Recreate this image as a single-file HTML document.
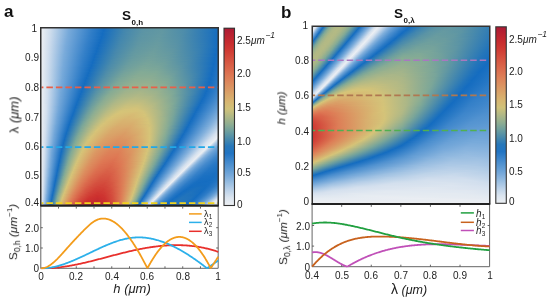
<!DOCTYPE html>
<html><head><meta charset="utf-8"><style>
html,body{margin:0;padding:0;background:#fff;}
body{width:550px;height:302px;position:relative;overflow:hidden;font-family:"Liberation Sans",sans-serif;color:#222;}
.hm{position:absolute;overflow:hidden}
.hm i{position:absolute;left:0;width:100%;display:block}
.cb{position:absolute}
.ov{position:absolute;left:0;top:0}
.t{position:absolute;white-space:nowrap;line-height:1;will-change:transform}
.r{transform:translate(-100%,-50%) translateY(1.2px)}
.c{transform:translate(-50%,-50%)}
.lft{transform:translate(0,-50%)}
.tick{font-size:10px}
.lab{font-size:13px}
.ttl{font-size:13.5px;font-weight:bold;color:#111}
.pl{font-size:17px;font-weight:bold;color:#111}
sub,sup{line-height:0}
</style></head><body>
<div class="hm" style="left:41px;top:28px;width:177px;height:177px">
<i style="top:0px;height:1px;background:linear-gradient(90deg,#eceff3 0.3%,#cedded 5.4%,#76a9da 16.1%,#2d7cc7 29.7%,#156dc0 35.9%,#4386ae 47.2%,#5c94a5 57.9%,#6298a2 68.1%,#4e8daa 80.5%,#196fbe 99.2%,#176ebf 99.7%)"></i>
<i style="top:1px;height:1px;background:linear-gradient(90deg,#eceff3 0.3%,#cedced 5.4%,#76a9d9 16.1%,#2f7dc7 29.1%,#156cc0 35.3%,#4588ad 47.7%,#5d95a4 58.5%,#6298a2 68.6%,#4c8bab 81.6%,#176ebf 99.7%)"></i>
<i style="top:2px;height:1px;background:linear-gradient(90deg,#eceff3 0.3%,#cddced 5.4%,#79aada 15.5%,#317ec8 28.5%,#146cc0 35.3%,#4286ae 46.6%,#5b94a5 57.3%,#6298a2 68.1%,#4e8daa 80.5%,#1b70be 98.6%,#176ebf 99.7%)"></i>
<i style="top:3px;height:1px;background:linear-gradient(90deg,#eceff3 0.3%,#cddcec 5.4%,#78aada 15.5%,#317ec7 28.5%,#156cc0 35.3%,#4386ae 46.6%,#5c94a5 57.3%,#6298a2 68.1%,#4e8daa 80.5%,#1a70be 98.6%,#166dbf 99.7%)"></i>
<i style="top:4px;height:1px;background:linear-gradient(90deg,#eceff3 0.3%,#ccdcec 5.4%,#77aada 15.5%,#307dc7 28.5%,#156dc0 34.7%,#488aac 48.3%,#5e96a4 59.0%,#6298a2 68.6%,#4c8bab 81.6%,#166dbf 99.7%)"></i>
<i style="top:5px;height:1px;background:linear-gradient(90deg,#eceff3 0.3%,#ccdbec 5.4%,#77a9da 15.5%,#2f7dc7 28.5%,#146cc0 34.7%,#4487ae 46.6%,#5d95a4 57.3%,#6398a2 68.1%,#4e8daa 80.5%,#1c70bd 98.0%,#166dbf 99.7%)"></i>
<i style="top:6px;height:1px;background:linear-gradient(90deg,#eceff3 0.3%,#cbdbec 5.4%,#76a9d9 15.5%,#2f7dc7 28.5%,#146cc0 34.7%,#4185af 45.5%,#5b94a5 56.2%,#6399a2 66.9%,#528fa8 78.8%,#2375ba 95.8%,#166dbf 99.7%)"></i>
<i style="top:7px;height:1px;background:linear-gradient(90deg,#eceff3 0.3%,#d0deed 4.8%,#79abda 15.0%,#337fc8 27.4%,#156dc0 34.7%,#4286af 45.5%,#5c95a5 56.2%,#6499a2 66.9%,#528fa8 78.8%,#2374ba 95.8%,#156dbf 99.7%)"></i>
<i style="top:8px;height:1px;background:linear-gradient(90deg,#eceff3 0.3%,#d0deed 4.8%,#78aada 15.0%,#337fc8 27.4%,#156cc0 34.2%,#4688ad 46.6%,#5e96a4 57.3%,#6499a2 67.5%,#508ea9 79.9%,#1f72bc 96.9%,#156dc0 99.7%)"></i>
<i style="top:9px;height:1px;background:linear-gradient(90deg,#eceff3 0.3%,#d0dded 4.8%,#78aada 15.0%,#327fc8 27.4%,#146cc0 34.2%,#4186af 44.9%,#5c95a4 55.6%,#6499a1 66.4%,#5490a8 78.2%,#2776b9 94.6%,#156dc0 99.7%)"></i>
<i style="top:10px;height:1px;background:linear-gradient(90deg,#eceff3 0.3%,#cfdded 4.8%,#7bacdb 14.4%,#3782c9 26.3%,#156dc0 34.2%,#4286ae 44.9%,#5d95a4 55.6%,#659aa1 66.4%,#5490a8 78.2%,#2676b9 94.6%,#156cc0 99.7%)"></i>
<i style="top:11px;height:1px;background:linear-gradient(90deg,#eceff3 0.3%,#cfdded 4.8%,#7aabdb 14.4%,#3681c9 26.3%,#156cc0 33.6%,#4588ad 45.5%,#5e96a4 56.2%,#659aa1 66.9%,#5390a8 78.8%,#2475ba 95.2%,#156cc0 99.7%)"></i>
<i style="top:12px;height:1px;background:linear-gradient(90deg,#eceff3 0.3%,#cedded 4.8%,#7aabda 14.4%,#3581c9 26.3%,#146cc0 33.6%,#4286ae 44.4%,#5d95a4 55.1%,#669aa1 65.8%,#5792a6 77.1%,#2c79b7 92.9%,#146cc0 99.7%)"></i>
<i style="top:13px;height:1px;background:linear-gradient(90deg,#eceff3 0.3%,#cedced 4.8%,#79aada 14.4%,#327ec8 26.8%,#156dbf 33.6%,#4387ae 44.4%,#5e96a4 55.1%,#669aa1 65.8%,#5792a6 77.1%,#2c79b7 92.9%,#146cc0 99.7%)"></i>
<i style="top:14px;height:1px;background:linear-gradient(90deg,#eceff3 0.3%,#cedced 4.8%,#78aada 14.4%,#317ec7 26.8%,#146cc0 33.1%,#4688ad 44.9%,#6097a3 55.6%,#679ba0 66.4%,#5591a7 78.2%,#2877b8 94.1%,#146cc0 99.7%)"></i>
<i style="top:15px;height:1px;background:linear-gradient(90deg,#eceff3 0.3%,#cddced 4.8%,#77aada 14.4%,#307dc7 26.8%,#156cc0 33.1%,#4387ae 43.8%,#5f96a3 54.5%,#689ba0 65.3%,#5993a6 76.6%,#307cb5 91.8%,#146cc0 99.7%)"></i>
<i style="top:16px;height:1px;background:linear-gradient(90deg,#eceff3 0.3%,#cddcec 4.8%,#7bacdb 13.8%,#3882c9 25.1%,#156dc0 32.5%,#4a8aab 45.5%,#6298a2 56.2%,#689ba0 66.4%,#5691a7 78.2%,#2877b8 94.1%,#156cc0 99.7%)"></i>
<i style="top:17px;height:1px;background:linear-gradient(90deg,#eceff3 0.3%,#ccdcec 4.8%,#7aabda 13.8%,#3782c9 25.1%,#146cc0 32.5%,#4588ad 43.8%,#6097a3 54.5%,#699ca0 65.3%,#5a93a5 76.6%,#307cb5 91.8%,#156cc0 99.7%)"></i>
<i style="top:18px;height:1px;background:linear-gradient(90deg,#eceff3 0.3%,#ccdbec 4.8%,#79abda 13.8%,#337fc8 25.7%,#156cc0 32.5%,#4487ae 43.2%,#6097a3 54.0%,#6a9c9f 64.7%,#5b94a5 76.0%,#337eb4 90.7%,#156dc0 99.7%)"></i>
<i style="top:19px;height:1px;background:linear-gradient(90deg,#eceff3 0.3%,#ccdbec 4.8%,#79aada 13.8%,#327fc8 25.7%,#156dc0 31.9%,#498aac 44.4%,#6399a2 55.1%,#6a9c9f 65.8%,#5892a6 77.7%,#2c79b7 92.9%,#156dc0 99.7%)"></i>
<i style="top:20px;height:1px;background:linear-gradient(90deg,#eceff3 0.3%,#cbdbec 4.8%,#78aada 13.8%,#317ec8 25.7%,#146cc0 31.9%,#4487ae 42.7%,#6198a2 53.4%,#6b9d9f 64.1%,#5e96a4 74.9%,#3780b3 89.5%,#146cc0 99.2%,#166dc0 99.7%)"></i>
<i style="top:21px;height:1px;background:linear-gradient(90deg,#eceff3 0.3%,#cbdbec 4.8%,#77aada 13.8%,#317ec7 25.7%,#156dc0 31.9%,#4688ad 42.7%,#6298a2 53.4%,#6c9d9f 64.1%,#5f96a3 74.9%,#3780b3 89.5%,#146cc0 99.2%,#166dc0 99.7%)"></i>
<i style="top:22px;height:1px;background:linear-gradient(90deg,#eceff3 0.3%,#cbdaec 4.8%,#77a9da 13.8%,#307dc7 25.7%,#156cc0 31.4%,#498aac 43.2%,#6499a1 54.0%,#6c9e9e 64.7%,#5d95a4 76.0%,#337eb4 90.7%,#146cc0 99.2%,#166dc1 99.7%)"></i>
<i style="top:23px;height:1px;background:linear-gradient(90deg,#eceff3 0.3%,#d0deed 4.2%,#7babdb 13.3%,#3580c9 24.6%,#146cc0 31.4%,#4688ad 42.1%,#6399a2 52.8%,#6d9e9e 63.6%,#6197a3 74.3%,#3b82b1 88.4%,#156cc0 99.2%,#176ec1 99.7%)"></i>
<i style="top:24px;height:1px;background:linear-gradient(90deg,#eceff3 0.3%,#d0deed 4.2%,#7aabda 13.3%,#3480c8 24.6%,#156dc0 31.4%,#4587ad 41.5%,#6298a2 51.7%,#6e9f9e 62.4%,#6499a1 72.6%,#4286ae 86.2%,#156dc0 99.2%,#176ec1 99.7%)"></i>
<i style="top:25px;height:1px;background:linear-gradient(90deg,#eceff3 0.3%,#d0dded 4.2%,#79abda 13.3%,#337fc8 24.6%,#156cc0 30.8%,#4a8aab 42.7%,#659aa1 52.8%,#6f9f9d 63.6%,#6298a2 74.3%,#3b82b1 88.4%,#156cc0 98.6%,#176ec1 99.7%)"></i>
<i style="top:26px;height:1px;background:linear-gradient(90deg,#eceff3 0.3%,#cfdded 4.2%,#7daddb 12.7%,#3c85ca 22.9%,#146cc0 30.8%,#4588ad 41.0%,#6399a2 51.1%,#6fa09d 61.9%,#679ba0 71.5%,#4688ad 85.0%,#146cc0 98.6%,#186ec1 99.7%)"></i>
<i style="top:27px;height:1px;background:linear-gradient(90deg,#eceff3 0.3%,#cfdded 4.2%,#7daddb 12.7%,#3b84ca 22.9%,#156dc0 30.2%,#2575ba 33.6%,#508ea9 43.8%,#699c9f 54.0%,#70a09d 64.1%,#6097a3 75.4%,#3780b3 89.5%,#146cc0 98.6%,#186fc1 99.7%)"></i>
<i style="top:28px;height:1px;background:linear-gradient(90deg,#eceff3 0.3%,#cfdded 4.2%,#7cacdb 12.7%,#3a84ca 22.9%,#156cc0 30.2%,#498aac 41.5%,#669aa1 51.7%,#71a09c 62.4%,#669aa1 72.6%,#4286ae 86.2%,#156dc0 98.6%,#196fc1 99.7%)"></i>
<i style="top:29px;height:1px;background:linear-gradient(90deg,#eceff3 0.3%,#cfdded 4.2%,#7bacdb 12.7%,#3681c9 23.4%,#146cc0 30.2%,#4688ad 40.4%,#659aa1 50.6%,#72a19c 60.7%,#6b9d9f 70.3%,#4c8bab 83.3%,#156cc0 98.0%,#196fc1 99.7%)"></i>
<i style="top:30px;height:1px;background:linear-gradient(90deg,#eceff3 0.3%,#cedded 4.2%,#7bacdb 12.7%,#3681c9 23.4%,#156dc0 29.7%,#2576b9 33.1%,#528fa8 43.2%,#6b9d9f 53.4%,#73a19c 63.6%,#6499a2 74.3%,#3c83b1 87.9%,#146cc0 98.0%,#1a70c2 99.7%)"></i>
<i style="top:31px;height:1px;background:linear-gradient(90deg,#eceff3 0.3%,#cedded 4.2%,#7aabda 12.7%,#3580c9 23.4%,#146cc0 29.7%,#4b8bab 41.0%,#699ca0 51.1%,#74a29c 61.3%,#6b9d9f 70.9%,#4a8aab 83.9%,#146cc0 98.0%,#1a70c2 99.7%)"></i>
<i style="top:32px;height:1px;background:linear-gradient(90deg,#eceff3 0.3%,#cedced 4.2%,#7aabda 12.7%,#3480c8 23.4%,#156cc0 29.7%,#4889ac 39.8%,#679ba0 50.0%,#74a29b 60.2%,#6d9e9e 69.8%,#508ea9 82.2%,#156dc0 98.0%,#1b70c2 99.7%)"></i>
<i style="top:33px;height:1px;background:linear-gradient(90deg,#eceff3 0.3%,#cedced 4.2%,#79abda 12.7%,#337fc8 23.4%,#156dc0 29.1%,#508ea9 41.5%,#6c9e9e 51.7%,#76a39b 61.9%,#6a9d9f 72.0%,#4688ad 85.0%,#156dc0 98.0%,#1b71c2 99.7%)"></i>
<i style="top:34px;height:1px;background:linear-gradient(90deg,#eceff3 0.3%,#cedced 4.2%,#78aada 12.7%,#2f7dc7 24.0%,#146cc0 29.1%,#4a8bab 39.8%,#6a9d9f 50.0%,#76a49a 60.2%,#6f9f9d 69.8%,#508ea9 82.2%,#176ebf 96.9%,#166dc0 98.0%,#1c71c2 99.7%)"></i>
<i style="top:35px;height:1px;background:linear-gradient(90deg,#eceff3 0.3%,#cddced 4.2%,#78aada 12.7%,#2e7cc7 24.0%,#156cc0 29.1%,#498aac 39.3%,#6a9d9f 49.4%,#78a49a 59.6%,#72a19c 68.6%,#5490a8 81.1%,#1c70bd 95.8%,#146cc0 97.5%,#1c71c2 99.7%)"></i>
<i style="top:36px;height:1px;background:linear-gradient(90deg,#eceff3 0.3%,#cddced 4.2%,#77aada 12.7%,#2d7cc7 24.0%,#156dc0 28.5%,#508ea9 40.4%,#6e9f9e 50.6%,#79a599 60.7%,#70a09d 70.3%,#4f8daa 82.8%,#146cc0 97.5%,#1d72c2 99.7%)"></i>
<i style="top:37px;height:1px;background:linear-gradient(90deg,#eceff3 0.3%,#cddcec 4.2%,#77a9da 12.7%,#2c7bc6 24.0%,#146cc0 28.5%,#4a8bab 38.7%,#6b9d9f 48.3%,#7aa599 58.5%,#75a39b 67.5%,#5a94a5 79.4%,#2576ba 93.5%,#156dc0 97.5%,#1d72c2 99.7%)"></i>
<i style="top:38px;height:1px;background:linear-gradient(90deg,#eceff3 0.3%,#cddcec 4.2%,#7bacdb 12.1%,#3581c9 22.3%,#156dbf 28.5%,#498aac 38.1%,#6b9d9f 47.7%,#7aa699 57.3%,#78a49a 66.4%,#5e96a4 78.2%,#2c7ab7 91.8%,#156dc0 97.5%,#1e72c3 99.7%)"></i>
<i style="top:39px;height:1px;background:linear-gradient(90deg,#eceff3 0.3%,#cddcec 4.2%,#7aabdb 12.1%,#3480c8 22.3%,#156cc0 28.0%,#508ea9 39.3%,#6f9f9d 48.9%,#7da798 58.5%,#77a49a 67.5%,#5b94a5 79.4%,#2575ba 93.5%,#156cc0 96.9%,#1e72c3 99.7%)"></i>
<i style="top:40px;height:1px;background:linear-gradient(90deg,#eceff3 0.3%,#ccdcec 4.2%,#7aabda 12.1%,#307dc7 22.9%,#156cc0 28.0%,#4a8aab 37.6%,#6d9e9e 47.2%,#7da798 56.8%,#7ba699 65.8%,#6398a2 77.1%,#317cb5 90.7%,#146cc0 96.9%,#1f73c3 99.7%)"></i>
<i style="top:41px;height:1px;background:linear-gradient(90deg,#eceff3 0.3%,#ccdbec 4.2%,#79abda 12.1%,#2f7dc7 22.9%,#156dc0 27.4%,#2475ba 30.2%,#5691a7 39.8%,#74a29b 49.4%,#80a997 59.0%,#78a49a 68.6%,#5993a6 80.5%,#1f72bc 94.6%,#146cc0 96.9%,#2073c3 99.7%)"></i>
<i style="top:42px;height:1px;background:linear-gradient(90deg,#eceff3 0.3%,#ccdbec 4.2%,#79aada 12.1%,#2e7cc7 22.9%,#146cc0 27.4%,#4d8caa 37.6%,#70a09d 47.2%,#80a997 56.8%,#7da798 65.8%,#6499a1 77.1%,#317cb5 90.7%,#156cc0 96.9%,#2074c3 99.7%)"></i>
<i style="top:43px;height:1px;background:linear-gradient(90deg,#eceff3 0.3%,#ccdbec 4.2%,#78aada 12.1%,#2d7cc7 22.9%,#156dc0 27.4%,#4d8caa 37.0%,#71a09d 46.6%,#82aa96 56.2%,#80a997 65.3%,#679ba0 76.6%,#367fb3 89.5%,#156dc0 96.9%,#2174c3 99.7%)"></i>
<i style="top:44px;height:1px;background:linear-gradient(90deg,#eceff3 0.3%,#ccdbec 4.2%,#77aada 12.1%,#2c7bc6 22.9%,#156dc0 26.8%,#5490a8 38.1%,#76a39b 47.7%,#84ab95 56.8%,#80a997 65.8%,#669aa1 77.1%,#337eb4 90.1%,#156dc0 96.3%,#2174c3 99.7%)"></i>
<i style="top:45px;height:1px;background:linear-gradient(90deg,#eceff3 0.3%,#ccdbec 4.2%,#77a9da 12.1%,#2b7ac6 22.9%,#146cc0 26.8%,#4e8caa 36.4%,#73a29c 46.0%,#84ab95 55.1%,#84aa95 64.1%,#6e9e9e 74.9%,#4085af 87.3%,#156cc0 96.3%,#2275c4 99.7%)"></i>
<i style="top:46px;height:1px;background:linear-gradient(90deg,#eceff3 0.3%,#cbdbec 4.2%,#76a9da 12.1%,#2a7ac6 22.9%,#166dc0 26.3%,#1e71bc 28.0%,#5591a7 37.6%,#77a49a 46.6%,#86ab94 55.6%,#84ab95 64.7%,#6d9e9e 75.4%,#3e83b0 87.9%,#146cc0 96.3%,#2375c4 99.7%)"></i>
<i style="top:47px;height:1px;background:linear-gradient(90deg,#eceff3 0.3%,#cbdbec 4.2%,#76a9d9 12.1%,#2979c5 22.9%,#146cc0 26.3%,#518fa9 36.4%,#76a39b 45.5%,#87ab94 54.0%,#87ac94 63.0%,#76a39b 72.6%,#4a8bab 85.0%,#156cc0 96.3%,#2376c4 99.7%)"></i>
<i style="top:48px;height:1px;background:linear-gradient(90deg,#eceff3 0.3%,#cbdbec 4.2%,#75a8d9 12.1%,#2878c5 22.9%,#156dc0 26.3%,#4e8caa 35.3%,#74a29b 44.4%,#87ac94 52.8%,#89ac93 62.4%,#79a59a 72.0%,#4f8da9 83.9%,#156dc0 96.3%,#2476c4 99.7%)"></i>
<i style="top:49px;height:1px;background:linear-gradient(90deg,#eceff3 0.3%,#cbdbec 4.2%,#75a8d9 12.1%,#2778c5 22.9%,#156dc0 25.7%,#5893a6 37.0%,#7ca698 46.0%,#8bad93 55.1%,#89ac94 64.1%,#75a39b 73.7%,#4688ad 86.2%,#156dc0 95.8%,#2577c4 99.7%)"></i>
<i style="top:50px;height:1px;background:linear-gradient(90deg,#eceff3 0.3%,#cbdbec 4.2%,#74a8d9 12.1%,#2577c5 22.9%,#146cc0 25.7%,#4f8daa 34.7%,#77a49a 43.8%,#8aad93 52.3%,#8dad92 61.3%,#7ca798 71.5%,#528fa8 83.3%,#146cc0 95.8%,#2677c5 99.7%)"></i>
<i style="top:51px;height:1px;background:linear-gradient(90deg,#eceff3 0.3%,#cbdbec 4.2%,#78aada 11.6%,#2878c5 22.3%,#166dc1 25.1%,#1a6fbe 26.3%,#5490a8 35.3%,#7ba699 44.4%,#8dad92 52.8%,#8eae92 61.9%,#7ca798 72.0%,#508ea9 83.9%,#146cc0 95.8%,#2778c5 99.7%)"></i>
<i style="top:52px;height:1px;background:linear-gradient(90deg,#eceff3 0.3%,#cadaec 4.2%,#78aada 11.6%,#2778c5 22.3%,#156cc0 25.1%,#5691a7 35.3%,#7da798 44.4%,#8fae91 53.4%,#8fae91 62.4%,#7ba699 72.6%,#4e8daa 84.5%,#156dc0 95.8%,#2878c5 99.7%)"></i>
<i style="top:53px;height:1px;background:linear-gradient(90deg,#eceff3 0.3%,#cadaec 4.2%,#77a9da 11.6%,#2677c5 22.3%,#156cc0 25.1%,#528fa8 34.2%,#7ba698 43.2%,#8fae91 51.7%,#92af90 60.7%,#81aa96 70.9%,#5893a6 82.2%,#156dc0 95.2%,#2979c5 99.7%)"></i>
<i style="top:54px;height:1px;background:linear-gradient(90deg,#eceff3 0.3%,#d1deed 3.7%,#77a9da 11.6%,#2476c4 22.3%,#166dc0 24.6%,#1f72bc 26.3%,#5a94a5 35.3%,#82aa96 44.4%,#93af90 53.4%,#92af90 62.4%,#7ea798 72.6%,#4e8daa 84.5%,#146cc0 95.2%,#2a7ac6 99.7%)"></i>
<i style="top:55px;height:1px;background:linear-gradient(90deg,#eceff3 0.3%,#d1deed 3.7%,#76a9d9 11.6%,#2375c4 22.3%,#146cc0 24.6%,#538fa8 33.6%,#7ca798 42.1%,#92af90 50.6%,#96b08f 59.6%,#86ab94 69.8%,#6197a3 80.5%,#1d71bc 93.5%,#156cc0 95.2%,#2b7ac6 99.7%)"></i>
<i style="top:56px;height:1px;background:linear-gradient(90deg,#eceff3 0.3%,#d1deed 3.7%,#75a8d9 11.6%,#2677c5 21.8%,#166dbf 24.6%,#5591a7 33.6%,#7ea897 42.1%,#94b08f 51.1%,#98b18e 60.2%,#86ab95 70.3%,#5e96a4 81.1%,#196fbe 94.1%,#156dc0 95.2%,#2c7bc6 99.7%)"></i>
<i style="top:57px;height:1px;background:linear-gradient(90deg,#eceff3 0.3%,#d1deed 3.7%,#75a8d9 11.6%,#2476c4 21.8%,#156dc0 24.0%,#5e96a4 34.7%,#85ab95 43.2%,#98b18e 52.3%,#99b18e 60.7%,#86ab95 70.9%,#5c95a5 81.6%,#156cc0 94.6%,#2d7cc7 99.7%)"></i>
<i style="top:58px;height:1px;background:linear-gradient(90deg,#eceff3 0.3%,#d1deed 3.7%,#79abda 11.0%,#2778c5 21.2%,#146cc0 24.0%,#5691a7 33.1%,#81a996 41.5%,#98b18e 50.6%,#9bb28d 59.6%,#8aac93 69.8%,#6c9d9f 78.2%,#2c79b7 90.7%,#146cc0 94.6%,#2f7dc7 99.7%)"></i>
<i style="top:59px;height:1px;background:linear-gradient(90deg,#eceff3 0.3%,#d0deed 3.7%,#78aada 11.0%,#2677c5 21.2%,#166dc1 23.4%,#1b70bd 24.6%,#5892a6 33.1%,#83aa96 41.5%,#9ab18d 50.6%,#9db38c 59.0%,#8cad92 69.2%,#71a09d 77.1%,#357eb4 89.0%,#166dbf 94.1%,#1e72c3 96.3%,#307ec7 99.7%)"></i>
<i style="top:60px;height:1px;background:linear-gradient(90deg,#eceff3 0.3%,#d0deed 3.7%,#78aada 11.0%,#2576c4 21.2%,#156cc0 23.4%,#5a94a5 33.1%,#83aa96 41.0%,#9bb28d 50.0%,#a0b38b 58.5%,#90ae91 68.1%,#76a39b 76.0%,#3b82b1 87.9%,#146cc0 94.1%,#327fc8 99.7%)"></i>
<i style="top:61px;height:1px;background:linear-gradient(90deg,#eceff3 0.3%,#d0deed 3.7%,#77a9da 11.0%,#2375c4 21.2%,#156dc0 23.4%,#5691a7 31.9%,#84aa95 40.4%,#9cb28d 49.4%,#a2b48b 57.9%,#93af90 67.5%,#79a599 75.4%,#3d83b0 87.3%,#156cc0 94.1%,#3480c8 99.7%)"></i>
<i style="top:62px;height:1px;background:linear-gradient(90deg,#eceff3 0.3%,#d0deed 3.7%,#76a9da 11.0%,#2275c4 21.2%,#166dc0 22.9%,#2173bb 24.6%,#5f96a3 33.1%,#88ac94 41.0%,#9fb38c 49.4%,#a4b48a 57.9%,#94b090 67.5%,#77a49a 76.0%,#3981b2 87.9%,#156dc0 93.5%,#3581c9 99.7%)"></i>
<i style="top:63px;height:1px;background:linear-gradient(90deg,#eceff3 0.3%,#d0dded 3.7%,#76a9d9 11.0%,#2074c3 21.2%,#146cc0 22.9%,#5792a7 31.4%,#84ab95 39.3%,#9eb38c 47.7%,#a7b589 56.2%,#9bb28d 65.3%,#7da798 74.9%,#4286ae 86.2%,#146cc0 93.5%,#3782c9 99.7%)"></i>
<i style="top:64px;height:1px;background:linear-gradient(90deg,#eceff3 0.3%,#cfdded 3.7%,#75a8d9 11.0%,#1f73c3 21.2%,#166dbf 22.9%,#5993a6 31.4%,#86ab94 39.3%,#a1b38b 47.7%,#a9b688 56.2%,#9cb28d 65.3%,#7da798 74.9%,#4286af 86.2%,#166dbf 92.9%,#1f73c3 95.2%,#3983ca 99.7%)"></i>
<i style="top:65px;height:1px;background:linear-gradient(90deg,#eceff3 0.3%,#cfdded 3.7%,#74a8d9 11.0%,#1d72c2 21.2%,#156dc0 22.3%,#6499a2 32.5%,#89ac93 39.3%,#a3b48a 47.7%,#abb787 56.2%,#9eb38c 65.3%,#7ea898 74.9%,#4185af 86.2%,#146cc0 92.9%,#3b84ca 99.7%)"></i>
<i style="top:66px;height:1px;background:linear-gradient(90deg,#eceff3 0.3%,#cfdded 3.7%,#74a7d9 11.0%,#1c71c2 21.2%,#156cc0 22.3%,#5b94a5 30.8%,#87ab94 38.1%,#a4b48a 46.6%,#aeb786 55.1%,#a3b48a 63.6%,#83aa96 73.7%,#4789ad 85.0%,#166dbf 92.4%,#196fc1 93.5%,#3d86cb 99.7%)"></i>
<i style="top:67px;height:1px;background:linear-gradient(90deg,#eceff3 0.3%,#cfdded 3.7%,#73a7d9 11.0%,#1a70c2 21.2%,#166dc1 21.8%,#1c71bd 22.9%,#6198a2 31.4%,#87ac94 37.6%,#a5b589 46.0%,#b0b886 54.5%,#a6b589 63.0%,#86ab94 73.2%,#4d8caa 83.9%,#146cc0 92.4%,#3f87cb 99.7%)"></i>
<i style="top:68px;height:1px;background:linear-gradient(90deg,#eceff3 0.3%,#cfdded 3.7%,#72a6d8 11.0%,#196fc1 21.2%,#146cc0 21.8%,#6097a3 30.8%,#87ac94 37.0%,#a6b589 45.5%,#b2b985 54.0%,#abb788 61.9%,#8bad93 72.0%,#6d9e9e 78.2%,#1e72bc 90.7%,#156dc0 92.4%,#4288cc 99.7%)"></i>
<i style="top:69px;height:1px;background:linear-gradient(90deg,#eceff3 0.3%,#cedded 3.7%,#77a9da 10.5%,#1c71c2 20.6%,#166dbf 21.8%,#5f96a3 30.2%,#87ac94 36.4%,#a8b688 44.9%,#b5ba84 53.4%,#aeb786 61.3%,#8eae92 71.5%,#74a29c 77.1%,#2978b8 89.0%,#146cc0 91.8%,#448acd 99.7%)"></i>
<i style="top:70px;height:1px;background:linear-gradient(90deg,#eceff3 0.3%,#cedded 3.7%,#76a9d9 10.5%,#1a70c2 20.6%,#156dc0 21.2%,#2d7ab6 24.0%,#6e9f9e 31.9%,#8dad92 37.0%,#acb787 45.5%,#b8bb83 53.4%,#afb886 61.3%,#91af91 70.9%,#77a49a 76.6%,#2b79b7 88.4%,#166dbf 91.2%,#196fc1 92.4%,#478bcd 99.7%)"></i>
<i style="top:71px;height:1px;background:linear-gradient(90deg,#eceff3 0.3%,#cedced 3.7%,#75a8d9 10.5%,#186fc1 20.6%,#146cc0 21.2%,#6097a3 29.7%,#8aac93 35.9%,#abb788 43.8%,#babb82 51.7%,#b6ba83 59.0%,#9bb28d 68.6%,#7aa599 76.0%,#2d7ab6 87.9%,#146cc0 91.2%,#498dce 99.7%)"></i>
<i style="top:72px;height:1px;background:linear-gradient(90deg,#eceff3 0.3%,#cedced 3.7%,#74a8d9 10.5%,#176ec1 20.6%,#176dbf 21.2%,#5f96a3 29.1%,#8aac93 35.3%,#acb787 43.2%,#bcbc81 51.1%,#babb82 57.9%,#a2b48a 66.9%,#7aa599 76.0%,#2b79b7 87.9%,#166dbf 90.7%,#196fc1 91.8%,#4c8fcf 99.7%)"></i>
<i style="top:73px;height:1px;background:linear-gradient(90deg,#eceff3 0.3%,#cedced 3.7%,#74a7d9 10.5%,#156dc0 20.6%,#6b9d9f 30.2%,#8dad92 35.3%,#afb886 43.2%,#bfbd80 51.1%,#bcbc81 57.9%,#a3b48a 66.9%,#7aa599 76.0%,#2978b8 87.9%,#146cc0 90.7%,#4f90cf 99.7%)"></i>
<i style="top:74px;height:1px;background:linear-gradient(90deg,#eceff3 0.3%,#cddced 3.7%,#73a7d9 10.5%,#186ec1 20.1%,#156dc0 20.6%,#6097a3 28.5%,#89ac93 34.2%,#aeb886 42.1%,#c1bd80 50.0%,#c0bd80 56.8%,#a9b688 65.8%,#7da798 75.4%,#2c79b7 87.3%,#166dbf 90.1%,#1d72c2 91.8%,#5292d0 99.7%)"></i>
<i style="top:75px;height:1px;background:linear-gradient(90deg,#eceff3 0.3%,#cddcec 3.7%,#72a6d8 10.5%,#166dc1 20.1%,#1d71bc 21.2%,#689ba0 29.1%,#89ac94 33.6%,#b0b886 41.5%,#c3be7f 49.4%,#c4be7f 56.2%,#aeb886 64.7%,#80a997 74.9%,#2e7bb6 86.7%,#146cc0 90.1%,#5594d1 99.7%)"></i>
<i style="top:76px;height:1px;background:linear-gradient(90deg,#eceff3 0.3%,#d5e0ee 3.1%,#71a6d8 10.5%,#146cc0 20.1%,#669aa1 28.5%,#88ac94 33.1%,#b1b885 41.0%,#c6bf7e 48.9%,#c7bf7d 55.6%,#b1b985 64.1%,#83aa96 74.3%,#357eb4 85.6%,#156dbf 89.5%,#5493d1 99.2%,#5896d2 99.7%)"></i>
<i style="top:77px;height:1px;background:linear-gradient(90deg,#eceff3 0.3%,#d4e0ee 3.1%,#70a5d8 10.5%,#176ec1 19.5%,#166dbf 20.1%,#6499a1 28.0%,#88ac94 32.5%,#b2b985 40.4%,#c7bf7d 47.7%,#cbc17c 54.5%,#b9bb82 62.4%,#8cad92 72.6%,#659aa1 78.8%,#156dc0 89.5%,#5b98d2 99.7%)"></i>
<i style="top:78px;height:1px;background:linear-gradient(90deg,#eceff3 0.3%,#d4e0ee 3.1%,#75a8d9 9.9%,#166dc0 19.5%,#2575ba 21.2%,#71a19c 29.1%,#8fae91 33.1%,#b7ba83 41.0%,#cbc17c 48.3%,#cdc17b 55.1%,#b8bb83 63.0%,#89ac94 73.2%,#4286ae 83.3%,#156cc0 89.0%,#5e9ad3 99.7%)"></i>
<i style="top:79px;height:1px;background:linear-gradient(90deg,#eceff3 0.3%,#d4e0ee 3.1%,#74a8d9 9.9%,#196fc1 18.9%,#146cc0 19.5%,#669aa1 27.4%,#8aad93 31.9%,#b6ba83 39.8%,#ccc17b 47.2%,#d1c27a 54.0%,#bebc81 61.9%,#92af90 71.5%,#77a49a 76.0%,#176ebf 88.4%,#166dc0 89.0%,#619cd4 99.7%)"></i>
<i style="top:80px;height:1px;background:linear-gradient(90deg,#eceff3 0.3%,#d4e0ee 3.1%,#74a7d9 9.9%,#176ec1 18.9%,#176ebf 19.5%,#699ca0 27.4%,#8aac93 31.4%,#b4ba84 38.7%,#cdc17b 46.0%,#d4c379 53.4%,#c3be7f 60.7%,#98b18e 70.3%,#76a39b 76.0%,#146cc0 88.4%,#649ed5 99.7%)"></i>
<i style="top:81px;height:1px;background:linear-gradient(90deg,#eceff3 0.3%,#d4e0ee 3.1%,#73a7d9 9.9%,#156dc0 18.9%,#76a39a 28.5%,#98b18e 33.1%,#bfbd80 40.4%,#d4c379 47.7%,#d4c379 55.1%,#bcbc81 63.0%,#88ac94 73.2%,#3880b2 83.9%,#166dbf 87.9%,#1a70c2 89.0%,#68a0d6 99.7%)"></i>
<i style="top:82px;height:1px;background:linear-gradient(90deg,#eceff3 0.3%,#d3e0ee 3.1%,#72a6d8 9.9%,#196fc1 18.4%,#156dc0 18.9%,#6a9d9f 26.8%,#8cad93 30.8%,#b8bb83 38.1%,#d3c379 45.5%,#d6c277 52.3%,#d3c379 56.8%,#b3b984 65.3%,#7ca798 74.9%,#146cc0 87.9%,#6ba2d7 99.7%)"></i>
<i style="top:83px;height:1px;background:linear-gradient(90deg,#eceff3 0.3%,#d3dfee 3.1%,#71a5d8 9.9%,#176ec1 18.4%,#176ebf 18.9%,#6d9e9e 26.8%,#8bad93 30.2%,#b9bb82 37.6%,#d5c478 44.9%,#d6c277 54.5%,#d2c37a 57.9%,#abb787 66.9%,#7ca698 74.9%,#166dbf 87.3%,#2778c5 90.1%,#6fa4d8 99.7%)"></i>
<i style="top:84px;height:1px;background:linear-gradient(90deg,#eceff3 0.3%,#d3dfee 3.1%,#6fa5d8 9.9%,#156cc0 18.4%,#71a09d 26.8%,#8eae92 30.2%,#bcbc81 37.6%,#d6c478 44.4%,#d6bf76 53.4%,#d4c379 57.9%,#acb787 66.9%,#7ba699 74.9%,#156dc0 87.3%,#72a6d9 99.7%)"></i>
<i style="top:85px;height:1px;background:linear-gradient(90deg,#eceff3 0.3%,#d2dfee 3.1%,#75a8d9 9.3%,#186fc1 17.8%,#166dbf 18.4%,#6f9f9d 26.3%,#8dad92 29.7%,#bdbc81 37.0%,#d6c478 43.2%,#d7bd75 52.3%,#d3c379 58.5%,#a9b688 67.5%,#7aa599 74.9%,#156dc0 86.7%,#76a9d9 99.7%)"></i>
<i style="top:86px;height:1px;background:linear-gradient(90deg,#eceff3 0.3%,#d2dfee 3.1%,#74a7d9 9.3%,#166dc1 17.8%,#186ebe 18.4%,#6c9e9e 25.7%,#8cad93 29.1%,#bdbc81 36.4%,#d6c478 42.1%,#d7bb74 51.7%,#d5c478 58.5%,#a9b688 67.5%,#79a599 74.9%,#176ebf 86.2%,#156dc0 86.7%,#7aabda 99.7%)"></i>
<i style="top:87px;height:1px;background:linear-gradient(90deg,#eceff3 0.3%,#d1deed 3.1%,#73a7d9 9.3%,#146cc0 17.8%,#70a09d 25.7%,#8fae91 29.1%,#c1bd80 36.4%,#d6c378 41.5%,#d7ba73 51.1%,#d4c479 59.0%,#a6b589 68.1%,#78a49a 74.9%,#156cc0 86.2%,#7eaedb 99.7%)"></i>
<i style="top:88px;height:1px;background:linear-gradient(90deg,#eceff3 0.3%,#d1deed 3.1%,#71a6d8 9.3%,#186ec1 17.2%,#166dbf 17.8%,#6d9e9e 25.1%,#8dae92 28.5%,#c1bd80 35.9%,#d6c478 40.4%,#d7b872 50.0%,#d6c377 58.5%,#bdbc81 64.1%,#80a997 73.7%,#176ebf 85.6%,#166dc0 86.2%,#83b0dc 99.7%)"></i>
<i style="top:89px;height:1px;background:linear-gradient(90deg,#eceff3 0.3%,#d0deed 3.1%,#70a5d8 9.3%,#166dc0 17.2%,#2073bb 18.4%,#76a39a 25.7%,#95b08f 29.1%,#c8c07d 36.4%,#d6c377 39.8%,#d7b772 49.4%,#d6c076 57.3%,#d2c379 60.2%,#9bb28d 69.8%,#76a39b 74.9%,#146cc0 85.6%,#82b0dc 99.2%,#88b3dd 99.7%)"></i>
<i style="top:90px;height:1px;background:linear-gradient(90deg,#eceff3 0.3%,#d0deed 3.1%,#6fa4d8 9.3%,#146cc0 17.2%,#6e9f9e 24.6%,#8fae91 28.0%,#c5bf7e 35.3%,#d6c478 38.7%,#d8b671 48.3%,#d7bb74 55.6%,#d4c379 60.2%,#9bb28d 69.8%,#79a599 74.3%,#176ebf 85.0%,#166dc1 85.6%,#81afdc 98.6%,#8cb6de 99.7%)"></i>
<i style="top:91px;height:1px;background:linear-gradient(90deg,#eceff3 0.3%,#cfdded 3.1%,#75a8d9 8.8%,#186ec1 16.7%,#176ebf 17.2%,#71a19c 24.6%,#8eae92 27.4%,#c5bf7e 34.7%,#d6c378 38.1%,#d8b471 47.2%,#d7b772 54.0%,#d5c478 60.2%,#9bb28d 69.8%,#78a59a 74.3%,#146cc0 85.0%,#80afdc 98.0%,#91b9e0 99.7%)"></i>
<i style="top:92px;height:1px;background:linear-gradient(90deg,#eceff3 0.3%,#cfdded 3.1%,#73a7d9 8.8%,#156dc0 16.7%,#3880b2 19.5%,#87ab94 26.3%,#c1be7f 33.6%,#d6c377 37.6%,#d8b370 46.6%,#d8b571 53.4%,#d6c478 60.2%,#9ab28d 69.8%,#77a49a 74.3%,#176ebf 84.5%,#1b70c2 85.6%,#85b1dd 98.0%,#96bce1 99.7%)"></i>
<i style="top:93px;height:1px;background:linear-gradient(90deg,#eceff3 0.3%,#cedded 3.1%,#72a6d8 8.8%,#1a6fc1 16.1%,#156dc0 16.7%,#72a19c 24.0%,#94b08f 27.4%,#c8c07d 34.2%,#d6c277 37.0%,#d8b26f 46.0%,#d8b370 52.8%,#d4c379 60.7%,#96b08f 70.3%,#76a39b 74.3%,#146cc0 84.5%,#84b1dd 97.5%,#9cbfe2 99.7%)"></i>
<i style="top:94px;height:1px;background:linear-gradient(90deg,#eceff3 0.3%,#cedced 3.1%,#71a6d8 8.8%,#176ec1 16.1%,#186ebf 16.7%,#76a39b 24.0%,#98b18e 27.4%,#ccc17c 34.2%,#d6c277 36.4%,#d8b16f 45.5%,#d8b16f 52.3%,#d5c478 60.7%,#95b08f 70.3%,#74a29b 74.3%,#166dbf 83.9%,#1b71c2 85.0%,#83b0dc 96.9%,#a1c2e3 99.7%)"></i>
<i style="top:95px;height:1px;background:linear-gradient(90deg,#eceff3 0.3%,#cddcec 3.1%,#70a5d8 8.8%,#156dc0 16.1%,#80a997 24.6%,#bcbc81 31.4%,#d6c478 35.3%,#d8b06e 44.4%,#d8af6e 51.7%,#d6c478 60.7%,#94b08f 70.3%,#78a49a 73.7%,#156cc0 83.9%,#82b0dc 96.3%,#a6c5e4 99.7%)"></i>
<i style="top:96px;height:1px;background:linear-gradient(90deg,#eceff3 0.3%,#d5e1ee 2.5%,#6ea4d7 8.8%,#196fc1 15.5%,#156dbf 16.1%,#76a49a 23.4%,#99b18e 26.8%,#d0c27a 33.6%,#d6c277 35.3%,#d8ae6e 44.4%,#d8ae6d 51.7%,#d3c379 61.3%,#8fae91 70.9%,#71a19c 74.3%,#166dbf 83.3%,#2174c3 85.0%,#80afdc 95.8%,#acc8e5 99.7%)"></i>
<i style="top:97px;height:1px;background:linear-gradient(90deg,#eceff3 0.3%,#d5e1ee 2.5%,#74a8d9 8.2%,#176ec1 15.5%,#186ebe 16.1%,#7aa699 23.4%,#b6ba83 29.7%,#d6c378 34.2%,#d8ae6d 43.2%,#d9ab6c 50.6%,#d6c177 60.2%,#cdc17b 62.4%,#85ab95 72.0%,#156dc0 83.3%,#86b2dd 95.8%,#b1cce6 99.7%)"></i>
<i style="top:98px;height:1px;background:linear-gradient(90deg,#eceff3 0.3%,#d5e1ee 2.5%,#73a7d9 8.2%,#156dc0 15.5%,#7ea898 23.4%,#bebd80 30.2%,#d6c378 33.6%,#d8ac6d 42.7%,#d9aa6c 50.6%,#d6c177 60.2%,#d1c27a 61.9%,#88ac94 71.5%,#156dbf 82.8%,#78aada 94.1%,#b7cfe8 99.7%)"></i>
<i style="top:99px;height:1px;background:linear-gradient(90deg,#eceff3 0.3%,#d5e0ee 2.5%,#72a6d8 8.2%,#1a6fc1 15.0%,#166dbf 15.5%,#74a29b 22.3%,#93af90 25.1%,#cfc27a 31.9%,#d6c177 33.6%,#d9aa6c 42.7%,#d9a86b 50.0%,#d7bd75 59.0%,#d5c478 61.3%,#8cad92 70.9%,#669aa1 74.9%,#186ebe 82.2%,#166dc0 82.8%,#83b1dc 94.6%,#bdd2e9 99.7%)"></i>
<i style="top:100px;height:1px;background:linear-gradient(90deg,#eceff3 0.3%,#d4e0ee 2.5%,#70a5d8 8.2%,#176ec1 15.0%,#196fbe 15.5%,#77a49a 22.3%,#a8b689 26.8%,#d6c378 32.5%,#d9ab6c 41.0%,#d9a569 48.9%,#d7b772 57.3%,#d6c478 61.3%,#8bad93 70.9%,#528fa8 76.6%,#156cc0 82.2%,#82b0dc 94.1%,#c3d6ea 99.7%)"></i>
<i style="top:101px;height:1px;background:linear-gradient(90deg,#eceff3 0.3%,#d4e0ee 2.5%,#6fa4d8 8.2%,#156dc0 15.0%,#82aa96 22.9%,#c5bf7e 29.7%,#d6c478 31.9%,#d9aa6c 40.4%,#d9a368 48.3%,#d8b471 56.8%,#d6c478 61.3%,#89ac93 70.9%,#2a79b7 79.9%,#176ebf 81.6%,#166dc1 82.2%,#81afdc 93.5%,#c9daec 99.7%)"></i>
<i style="top:102px;height:1px;background:linear-gradient(90deg,#eceff3 0.3%,#d3e0ee 2.5%,#76a9d9 7.6%,#1a70c2 14.4%,#166dbf 15.0%,#78a49a 21.8%,#aab688 26.3%,#d6c478 31.4%,#d9a96b 39.8%,#daa268 48.3%,#d8b470 56.8%,#d6c478 61.3%,#8dad92 70.3%,#659aa1 74.3%,#146cc0 81.6%,#80afdc 92.9%,#cfdded 99.7%)"></i>
<i style="top:103px;height:1px;background:linear-gradient(90deg,#eceff3 0.3%,#d3dfee 2.5%,#75a8d9 7.6%,#186ec1 14.4%,#196fbe 15.0%,#7ba698 21.8%,#bdbc81 28.0%,#d6c478 30.8%,#d9a76a 39.8%,#daa067 47.7%,#d8b06e 55.6%,#d6c478 61.3%,#8cad93 70.3%,#6399a2 74.3%,#176dbf 81.1%,#1c71c2 82.2%,#85b2dd 92.9%,#d5e1ee 99.7%)"></i>
<i style="top:104px;height:1px;background:linear-gradient(90deg,#eceff3 0.3%,#d2dfee 2.5%,#73a7d9 7.6%,#156dc0 14.4%,#86ab94 22.3%,#cbc17c 29.1%,#d6c277 30.8%,#d9a76a 39.3%,#da9e66 47.7%,#d8af6e 55.6%,#d6c478 61.3%,#8fae91 69.8%,#6d9e9e 73.2%,#156dc0 81.1%,#84b1dd 92.4%,#d5e1ee 99.2%,#d8e3ef 99.7%)"></i>
<i style="top:105px;height:1px;background:linear-gradient(90deg,#eceff3 0.3%,#d2dfed 2.5%,#72a6d8 7.6%,#1a70c2 13.8%,#156dbf 14.4%,#7ca698 21.2%,#c0bd80 27.4%,#d6c277 30.2%,#d9a66a 38.7%,#da9c65 47.2%,#d8ad6d 55.1%,#d6c378 61.3%,#8eae92 69.8%,#6b9d9f 73.2%,#166dbf 80.5%,#337fc8 83.9%,#83b1dc 91.8%,#d5e0ee 98.6%,#dce5f0 99.7%)"></i>
<i style="top:106px;height:1px;background:linear-gradient(90deg,#eceff3 0.3%,#d1deed 2.5%,#70a5d8 7.6%,#186fc1 13.8%,#186ebe 14.4%,#7fa897 21.2%,#c4be7f 27.4%,#d6c377 29.7%,#d9a569 38.1%,#da9b64 46.6%,#d9a86b 54.0%,#d6c378 61.3%,#8cad92 69.8%,#689ba0 73.2%,#186fbe 79.9%,#166dc0 80.5%,#82b0dc 91.2%,#d5e0ee 98.0%,#dfe7f0 99.7%)"></i>
<i style="top:107px;height:1px;background:linear-gradient(90deg,#eceff3 0.3%,#d1deed 2.5%,#6fa4d8 7.6%,#166dc0 13.8%,#2575ba 15.0%,#83aa96 21.2%,#c7bf7d 27.4%,#d6c378 29.1%,#d9a469 37.6%,#db9964 46.0%,#d9a469 52.8%,#d6c478 61.3%,#85ab95 70.3%,#146cc0 79.9%,#81afdc 90.7%,#d5e0ee 97.5%,#e3e9f1 99.7%)"></i>
<i style="top:108px;height:1px;background:linear-gradient(90deg,#eceff3 0.3%,#d0deed 2.5%,#76a9da 7.1%,#156cc0 13.8%,#7fa897 20.6%,#c6bf7e 26.8%,#d6c478 28.5%,#d9a469 37.0%,#db9763 44.9%,#da9e66 50.6%,#d7bf75 60.2%,#d6c478 61.3%,#83aa96 70.3%,#176ebf 79.4%,#176ec1 79.9%,#87b3dd 90.7%,#d4e0ee 96.9%,#e7ecf2 99.7%)"></i>
<i style="top:109px;height:1px;background:linear-gradient(90deg,#eceff3 0.3%,#cfdded 2.5%,#75a8d9 7.1%,#196fc1 13.3%,#186ebf 13.8%,#7ba699 20.1%,#bebd81 25.7%,#d5c479 28.0%,#daa268 37.0%,#db9662 44.9%,#da9d65 50.6%,#d7bf75 60.2%,#d6c478 61.3%,#81a996 70.3%,#156cc0 79.4%,#86b2dd 90.1%,#d4e0ee 96.3%,#ebeef3 99.7%)"></i>
<i style="top:110px;height:1px;background:linear-gradient(90deg,#eceff3 0.3%,#cfdded 2.5%,#74a7d9 7.1%,#176ec1 13.3%,#1b70be 13.8%,#7fa897 20.1%,#c8c07d 26.3%,#d6c377 28.0%,#daa167 36.4%,#db9461 44.4%,#da9a64 50.0%,#d7bc74 59.6%,#d6c478 61.3%,#7fa897 70.3%,#166dbf 78.8%,#1e72c3 79.9%,#84b1dd 89.5%,#d4e0ee 95.8%,#ebeef3 99.2%,#dbe5f0 99.7%)"></i>
<i style="top:111px;height:1px;background:linear-gradient(90deg,#eceff3 0.3%,#cedded 2.5%,#72a7d9 7.1%,#146cc0 13.3%,#82aa96 20.1%,#ccc17c 26.3%,#d6c478 27.4%,#daa268 35.3%,#db9361 43.2%,#db9562 48.3%,#d8b06f 56.8%,#d6c478 61.3%,#7ca798 70.3%,#196fbe 78.2%,#166dc0 78.8%,#83b1dc 89.0%,#d4e0ee 95.2%,#ebeef3 98.6%,#cadaec 99.7%)"></i>
<i style="top:112px;height:1px;background:linear-gradient(90deg,#eceff3 0.3%,#cddced 2.5%,#71a6d8 7.1%,#1a70c2 12.7%,#166dbf 13.3%,#7ea898 19.5%,#c9c07c 25.7%,#d5c478 26.8%,#daa067 35.3%,#db9160 43.2%,#db9461 48.3%,#d8b270 57.3%,#d5c478 61.3%,#79a599 70.3%,#156cc0 78.2%,#82b0dc 88.4%,#d4e0ee 94.6%,#ebeef3 98.0%,#b8d0e8 99.7%)"></i>
<i style="top:113px;height:1px;background:linear-gradient(90deg,#eceff3 0.3%,#cddcec 2.5%,#70a5d8 7.1%,#186fc1 12.7%,#196fbe 13.3%,#81aa96 19.5%,#cdc17b 25.7%,#d6c277 26.8%,#daa067 34.7%,#db905f 42.7%,#db9260 47.7%,#d8ad6d 56.2%,#d4c379 61.3%,#7da798 69.8%,#186ebf 77.7%,#176ec1 78.2%,#81afdc 87.9%,#d4e0ee 94.1%,#ebeff3 97.5%,#a9c7e5 99.7%)"></i>
<i style="top:114px;height:1px;background:linear-gradient(90deg,#eceff3 0.3%,#ccdbec 2.5%,#6ea4d7 7.1%,#166dc0 12.7%,#2676b9 13.8%,#85ab95 19.5%,#d1c27a 25.7%,#d6c076 26.8%,#da9e66 34.7%,#dc8e5e 42.7%,#db9160 47.7%,#d8ad6d 56.2%,#d3c379 61.3%,#7aa699 69.8%,#156cc0 77.7%,#7faedc 87.3%,#d4e0ee 93.5%,#ebeff3 96.9%,#b6cfe8 98.6%,#9cbfe2 99.7%)"></i>
<i style="top:115px;height:1px;background:linear-gradient(90deg,#eceff3 0.3%,#d6e1ee 2.0%,#6da3d7 7.1%,#156cc0 12.7%,#80a997 18.9%,#cfc27b 25.1%,#d6c177 26.3%,#da9d66 34.2%,#dc8d5e 42.1%,#dc8e5f 47.2%,#d9ab6c 55.6%,#d6c377 60.7%,#92af90 67.5%,#70a09d 70.3%,#166dbf 77.1%,#1f73c3 78.2%,#86b2dd 87.3%,#d3e0ee 92.9%,#eceff3 96.3%,#b5cee7 98.0%,#90b8df 99.7%)"></i>
<i style="top:116px;height:1px;background:linear-gradient(90deg,#eceff3 0.3%,#d6e1ee 2.0%,#75a8d9 6.5%,#1a70c2 12.1%,#176ebf 12.7%,#84ab95 18.9%,#d3c379 25.1%,#d7b973 27.4%,#db9863 35.3%,#dc8a5d 42.7%,#dc8f5f 47.7%,#d8ad6d 56.2%,#d6c378 60.7%,#83aa96 68.6%,#196fbe 76.6%,#166dc1 77.1%,#85b1dd 86.7%,#d3dfee 92.4%,#eceff3 95.8%,#b4cde7 97.5%,#8fb7df 99.2%,#85b1dd 99.7%)"></i>
<i style="top:117px;height:1px;background:linear-gradient(90deg,#eceff3 0.3%,#d6e1ee 2.0%,#74a7d9 6.5%,#186ec1 12.1%,#1a70be 12.7%,#7fa897 18.4%,#c9c07c 24.0%,#d6c478 25.1%,#da9d66 33.1%,#dc8b5d 40.4%,#dc8a5d 46.0%,#d9a368 54.0%,#d6c478 60.7%,#80a997 68.6%,#146cc0 76.6%,#83b1dc 86.2%,#d3dfee 91.8%,#eceff3 95.2%,#c4d7eb 96.3%,#99bde1 98.0%,#7bacdb 99.7%)"></i>
<i style="top:118px;height:1px;background:linear-gradient(90deg,#eceff3 0.3%,#d6e1ee 2.0%,#73a7d9 6.5%,#156dc0 12.1%,#82aa96 18.4%,#d4c379 24.6%,#db9964 33.6%,#dc885c 41.0%,#dc895c 46.0%,#d9a368 54.0%,#d5c478 60.7%,#7da798 68.6%,#176ebf 76.0%,#186ec1 76.6%,#82b0dc 85.6%,#d2dfee 91.2%,#eaeef3 94.6%,#b2cce7 96.3%,#8db6df 98.0%,#72a7d9 99.7%)"></i>
<i style="top:119px;height:1px;background:linear-gradient(90deg,#eceff3 0.3%,#d5e1ee 2.0%,#71a6d8 6.5%,#156dc0 12.1%,#7ca798 17.8%,#cac07c 23.4%,#d6c378 24.6%,#da9b65 32.5%,#dc885c 39.8%,#dc875b 45.5%,#da9e66 52.8%,#d4c379 60.7%,#79a599 68.6%,#156dc0 76.0%,#81afdc 85.0%,#d2dfee 90.7%,#e8edf2 93.5%,#e8ecf2 94.1%,#b1cce6 95.8%,#8cb6de 97.5%,#71a6d8 99.2%,#6ba2d7 99.7%)"></i>
<i style="top:120px;height:1px;background:linear-gradient(90deg,#eceff3 0.3%,#d5e1ee 2.0%,#70a5d8 6.5%,#1a70c2 11.6%,#186ebf 12.1%,#80a997 17.8%,#cec27b 23.4%,#d5c478 24.0%,#db9964 32.5%,#dd865b 39.8%,#dd865a 45.5%,#da9e66 52.8%,#d6c377 60.2%,#92af90 66.4%,#6e9f9e 69.2%,#156dbf 75.4%,#6aa1d6 82.8%,#cadaec 89.5%,#dbe5f0 91.2%,#e8edf2 92.9%,#e7ecf2 93.5%,#b0cbe6 95.2%,#8bb5de 96.9%,#70a5d8 98.6%,#649ed5 99.7%)"></i>
<i style="top:121px;height:1px;background:linear-gradient(90deg,#eceff3 0.3%,#d5e0ee 2.0%,#6fa4d8 6.5%,#186ec1 11.6%,#1a70be 12.1%,#84aa95 17.8%,#d2c37a 23.4%,#d7bf76 24.6%,#db9964 31.9%,#dd855a 39.3%,#dd8359 44.9%,#da9b65 52.3%,#d6c378 60.2%,#82aa96 67.5%,#196fbe 74.9%,#176ec1 75.4%,#86b2dd 84.5%,#d1dfed 89.5%,#e8edf2 92.4%,#e5ebf2 92.9%,#afcae6 94.6%,#89b4de 96.3%,#6fa5d8 98.0%,#5e9ad3 99.7%)"></i>
<i style="top:122px;height:1px;background:linear-gradient(90deg,#eceff3 0.3%,#d5e0ee 2.0%,#78aada 5.9%,#166dc0 11.6%,#2978b8 12.7%,#87ab94 17.8%,#d5c478 23.4%,#db9964 31.4%,#dd845a 38.7%,#dd8259 44.9%,#da9b64 52.3%,#d5c478 60.2%,#7ea897 67.5%,#156cc0 74.9%,#85b2dd 83.9%,#d7e2ef 89.5%,#e8edf2 91.8%,#e4eaf1 92.4%,#aecae6 94.1%,#88b4de 95.8%,#6fa4d8 97.5%,#5896d2 99.7%)"></i>
<i style="top:123px;height:1px;background:linear-gradient(90deg,#eceff3 0.3%,#d4e0ee 2.0%,#77a9da 5.9%,#146cc0 11.6%,#81a996 17.2%,#d2c379 22.9%,#d7bf75 24.0%,#db9763 31.4%,#dd8259 38.7%,#dd8058 44.4%,#db9863 51.7%,#d4c379 60.2%,#7ba699 67.5%,#166dbf 74.3%,#2073c3 75.4%,#84b1dd 83.3%,#d7e2ef 89.0%,#e8edf2 91.2%,#e3eaf1 91.8%,#adc9e6 93.5%,#87b3dd 95.2%,#6ea4d7 96.9%,#5292d0 99.7%)"></i>
<i style="top:124px;height:1px;background:linear-gradient(90deg,#eceff3 0.3%,#d4e0ee 2.0%,#75a8d9 5.9%,#1b70c2 11.0%,#176ebf 11.6%,#84ab95 17.2%,#d6c478 22.9%,#db9763 30.8%,#dd8158 38.1%,#dd7f57 44.4%,#db9863 51.7%,#d6c377 59.6%,#9cb28d 64.7%,#77a49a 67.5%,#1a6fbe 73.7%,#166ec1 74.3%,#82b0dc 82.8%,#d7e2ef 88.4%,#e9edf2 90.7%,#e3e9f1 91.2%,#acc9e5 92.9%,#86b2dd 94.6%,#6da3d7 96.3%,#4d8fcf 99.7%)"></i>
<i style="top:125px;height:1px;background:linear-gradient(90deg,#eceff3 0.3%,#d4e0ee 2.0%,#74a8d9 5.9%,#196fc1 11.0%,#1a6fbe 11.6%,#7ea898 16.7%,#d2c379 22.3%,#d7be75 23.4%,#db9562 30.8%,#dd8058 38.1%,#dd7d56 43.8%,#db9361 50.6%,#d6c478 59.6%,#7ba699 66.9%,#146cc0 73.7%,#81afdc 82.2%,#d6e2ef 87.9%,#e9edf2 90.1%,#e2e9f1 90.7%,#abc8e5 92.4%,#85b2dd 94.1%,#659ed5 96.3%,#488ccd 99.7%)"></i>
<i style="top:126px;height:1px;background:linear-gradient(90deg,#eceff3 0.3%,#d3dfee 2.0%,#73a7d9 5.9%,#176ec1 11.0%,#1c71bd 11.6%,#82aa96 16.7%,#d6c478 22.3%,#db9863 29.7%,#dd8058 37.0%,#de7b55 43.2%,#db905f 50.0%,#d5c478 59.6%,#80a997 66.4%,#176ebf 73.2%,#196fc1 73.7%,#7faedc 81.6%,#d6e1ee 87.3%,#e9edf2 89.5%,#e1e8f1 90.1%,#aac7e5 91.8%,#84b1dd 93.5%,#649ed5 95.8%,#4389cc 99.7%)"></i>
<i style="top:127px;height:1px;background:linear-gradient(90deg,#eceff3 0.3%,#d2dfee 2.0%,#72a6d8 5.9%,#156cc0 11.0%,#85ab95 16.7%,#d2c37a 21.8%,#d7be75 22.9%,#db9461 30.2%,#dd7e57 37.0%,#de7a55 43.2%,#db905f 50.0%,#d6c277 59.0%,#c5bf7e 60.7%,#7ca698 66.4%,#1b70bd 72.6%,#166dc1 73.2%,#87b3dd 81.6%,#d6e1ee 86.7%,#e9edf2 89.0%,#e0e8f1 89.5%,#a9c7e5 91.2%,#83b0dc 92.9%,#639dd5 95.2%,#4288cc 99.2%,#3e86cb 99.7%)"></i>
<i style="top:128px;height:1px;background:linear-gradient(90deg,#eceff3 0.3%,#d2dfee 2.0%,#71a5d8 5.9%,#1d71c2 10.5%,#166dbf 11.0%,#7ea898 16.1%,#cec17b 21.2%,#d5c478 21.8%,#db9763 29.1%,#dd7e57 35.9%,#de7854 42.7%,#dc8b5d 48.9%,#d7bc74 57.9%,#d6c378 59.0%,#80a997 65.8%,#156cc0 72.6%,#85b2dd 81.1%,#d6e1ee 86.2%,#e9edf2 88.4%,#e0e7f0 89.0%,#a8c6e4 90.7%,#82b0dc 92.4%,#629cd4 94.6%,#4188cc 98.6%,#3a84ca 99.7%)"></i>
<i style="top:129px;height:1px;background:linear-gradient(90deg,#eceff3 0.3%,#d1dfed 2.0%,#6fa5d8 5.9%,#1b70c2 10.5%,#186ebe 11.0%,#82aa96 16.1%,#d1c37a 21.2%,#d7be75 22.3%,#db9260 29.7%,#de7b56 36.4%,#de7753 42.7%,#dc8d5e 49.4%,#d6c478 59.0%,#7ca798 65.8%,#186ebe 72.0%,#186fc1 72.6%,#84b1dd 80.5%,#d6e1ee 85.6%,#e9edf2 87.9%,#dfe7f0 88.4%,#a7c6e4 90.1%,#80afdc 91.8%,#619cd4 94.1%,#4087cb 98.0%,#3681c9 99.7%)"></i>
<i style="top:130px;height:1px;background:linear-gradient(90deg,#eceff3 0.3%,#d1deed 2.0%,#7aabda 5.4%,#186fc1 10.5%,#1b70bd 11.0%,#85ab95 16.1%,#d5c478 21.2%,#db9361 29.1%,#de7b55 35.9%,#dd7552 42.1%,#dc885b 48.3%,#d7ba73 57.3%,#d4c379 59.0%,#80a997 65.3%,#1b70bd 71.5%,#166dc0 72.0%,#82b0dc 79.9%,#d6e1ee 85.0%,#e9edf2 87.3%,#dee6f0 87.9%,#a6c5e4 89.5%,#7faedc 91.2%,#609bd4 93.5%,#3f86cb 97.5%,#337fc8 99.7%)"></i>
<i style="top:131px;height:1px;background:linear-gradient(90deg,#eceff3 0.3%,#d0deed 2.0%,#78aada 5.4%,#166dc1 10.5%,#1e72bc 11.0%,#88ac94 16.1%,#d1c27a 20.6%,#d6c377 21.2%,#db9361 28.5%,#de7a55 35.3%,#dd7351 41.5%,#dd855a 47.7%,#d8b470 56.2%,#d6c377 58.5%,#8dad92 64.1%,#5792a6 67.5%,#156dc0 71.5%,#81afdc 79.4%,#d5e1ee 84.5%,#e9edf2 86.7%,#dee6f0 87.3%,#a5c4e4 89.0%,#7eaedb 90.7%,#5f9bd4 92.9%,#3e86cb 96.9%,#2f7dc7 99.7%)"></i>
<i style="top:132px;height:1px;background:linear-gradient(90deg,#eceff3 0.3%,#d0deed 2.0%,#77a9da 5.4%,#146cc0 10.5%,#81aa96 15.5%,#d4c379 20.6%,#db9160 28.5%,#de7854 35.3%,#dc7151 41.5%,#dd855a 47.7%,#d8b571 56.2%,#d6c478 58.5%,#81a997 64.7%,#196fbe 70.9%,#186ec1 71.5%,#7faedc 78.8%,#d5e1ee 83.9%,#e9edf2 86.2%,#dde6f0 86.7%,#a4c4e4 88.4%,#7daddb 90.1%,#5896d2 92.9%,#3983ca 96.9%,#2c7bc6 99.7%)"></i>
<i style="top:133px;height:1px;background:linear-gradient(90deg,#eceff3 0.3%,#cfdded 2.0%,#76a9d9 5.4%,#1d71c2 9.9%,#166dbf 10.5%,#85ab95 15.5%,#d0c27a 20.1%,#d6c377 20.6%,#db9562 27.4%,#de7954 34.2%,#dc7050 40.4%,#de7b56 45.5%,#d9a368 53.4%,#d4c379 58.5%,#7ca798 64.7%,#156dc0 70.9%,#7eaddb 78.2%,#d5e1ee 83.3%,#e9edf2 85.6%,#dde5f0 86.2%,#a3c3e3 87.9%,#7cacdb 89.5%,#5796d1 92.4%,#3882c9 96.3%,#2a79c6 99.7%)"></i>
<i style="top:134px;height:1px;background:linear-gradient(90deg,#eceff3 0.3%,#cfdded 2.0%,#75a8d9 5.4%,#1b70c2 9.9%,#196fbe 10.5%,#88ac94 15.5%,#d3c379 20.1%,#dc8d5e 28.5%,#dd7452 35.3%,#dc6e4f 41.0%,#dd8259 47.2%,#d8b370 55.6%,#d6c377 57.9%,#9ab18e 62.4%,#77a49a 64.7%,#166dbf 70.3%,#337fc8 72.6%,#86b2dd 78.2%,#d5e1ee 82.8%,#e9edf2 85.0%,#dce5f0 85.6%,#b3cde7 86.7%,#87b3dd 88.4%,#6aa1d6 90.1%,#478bcd 93.5%,#2c7bc6 98.0%,#2778c5 99.7%)"></i>
<i style="top:135px;height:1px;background:linear-gradient(90deg,#eceff3 0.3%,#cedded 2.0%,#73a7d9 5.4%,#186fc1 9.9%,#1c70bd 10.5%,#81a997 15.0%,#cec27b 19.5%,#d6c378 20.1%,#db9461 26.8%,#de7753 33.6%,#db6c4e 39.8%,#de7653 44.4%,#da9a64 51.7%,#d6c478 57.9%,#7ca798 64.1%,#196fbe 69.8%,#186ec1 70.3%,#85b1dd 77.7%,#d5e0ee 82.2%,#e9edf2 84.5%,#dce5f0 85.0%,#b2cce7 86.2%,#85b2dd 87.9%,#69a1d6 89.5%,#468bcd 92.9%,#2b7bc6 97.5%,#2576c4 99.7%)"></i>
<i style="top:136px;height:1px;background:linear-gradient(90deg,#eceff3 0.3%,#cedced 2.0%,#72a6d8 5.4%,#166dc1 9.9%,#2c7ab7 11.0%,#84ab95 15.0%,#d2c379 19.5%,#d7b872 21.2%,#dc8b5d 28.0%,#dc7150 34.7%,#db6b4d 40.4%,#de7c56 46.0%,#d9a96b 54.0%,#d3c379 57.9%,#81a996 63.6%,#156dc0 69.8%,#83b0dc 77.1%,#d4e0ee 81.6%,#eaedf2 83.9%,#dbe4ef 84.5%,#b1cbe6 85.6%,#84b1dd 87.3%,#68a0d6 89.0%,#458acd 92.4%,#2a7ac6 96.9%,#2375c4 99.7%)"></i>
<i style="top:137px;height:1px;background:linear-gradient(90deg,#eceff3 0.3%,#cddcec 2.0%,#71a6d8 5.4%,#146cc0 9.9%,#87ac94 15.0%,#d6c478 19.5%,#db9361 26.3%,#dd7452 33.1%,#db694c 39.3%,#dd7351 43.8%,#db9863 51.1%,#d6c377 57.3%,#8eae92 62.4%,#5e96a4 65.3%,#166dbf 69.2%,#2375c4 70.3%,#81b0dc 76.6%,#d4e0ee 81.1%,#eaeef3 83.3%,#dbe4ef 83.9%,#b0cbe6 85.0%,#83b1dc 86.7%,#67a0d6 88.4%,#4489cc 91.8%,#2979c6 96.3%,#2174c3 99.7%)"></i>
<i style="top:138px;height:1px;background:linear-gradient(90deg,#eceff3 0.3%,#ccdcec 2.0%,#70a5d8 5.4%,#1d72c2 9.3%,#176ebf 9.9%,#80a997 14.4%,#d1c27a 18.9%,#d7bd75 20.1%,#dc8d5e 26.8%,#dc7050 33.6%,#da684b 39.8%,#de7753 44.9%,#d9a368 52.8%,#d6c478 57.3%,#81a997 63.0%,#1a6fbe 68.6%,#186ec1 69.2%,#80afdc 76.0%,#d4e0ee 80.5%,#eaeef3 82.8%,#dae4ef 83.3%,#afcae6 84.5%,#82b0dc 86.2%,#669fd5 87.9%,#4389cc 91.2%,#2979c5 95.8%,#1f73c3 99.7%)"></i>
<i style="top:139px;height:1px;background:linear-gradient(90deg,#eceff3 0.3%,#ccdbec 2.0%,#6ea4d7 5.4%,#1b70c2 9.3%,#1a6fbe 9.9%,#83aa96 14.4%,#d5c478 18.9%,#dc8e5e 26.3%,#dc7050 33.1%,#da664a 39.3%,#dd7452 44.4%,#da9c65 51.7%,#d6c177 56.8%,#cbc07c 57.9%,#7ba699 63.0%,#156dc0 68.6%,#7eaedb 75.4%,#d3e0ee 79.9%,#eaeef3 82.2%,#dae4ef 82.8%,#aecae6 83.9%,#81afdc 85.6%,#659ed5 87.3%,#4288cc 90.7%,#2878c5 95.2%,#1e72c3 99.7%)"></i>
<i style="top:140px;height:1px;background:linear-gradient(90deg,#eceff3 0.3%,#cbdbec 2.0%,#7aabda 4.8%,#196fc1 9.3%,#1c71bd 9.9%,#87ab94 14.4%,#cfc27a 18.4%,#d6c377 18.9%,#dc8f5f 25.7%,#dc6f4f 32.5%,#d9644a 38.7%,#dc6e4f 43.2%,#db9662 50.6%,#d6c377 56.8%,#80a997 62.4%,#166dbf 68.1%,#2476c4 69.2%,#87b3dd 75.4%,#d3dfee 79.4%,#eaeef3 81.6%,#d9e3ef 82.2%,#aec9e6 83.3%,#80afdc 85.0%,#5d99d3 87.3%,#3c85ca 90.7%,#2576c4 95.2%,#1d72c2 99.7%)"></i>
<i style="top:141px;height:1px;background:linear-gradient(90deg,#eceff3 0.3%,#cadaec 2.0%,#78aada 4.8%,#166dc1 9.3%,#1f72bc 9.9%,#7ea897 13.8%,#d3c379 18.4%,#db9863 24.0%,#dd7351 30.8%,#d96449 37.0%,#da664b 41.0%,#dd8158 47.2%,#d7bb74 55.6%,#d5c478 56.8%,#7ba699 62.4%,#1a6fbe 67.5%,#186ec1 68.1%,#85b2dd 74.9%,#d2dfee 78.8%,#eaeef3 81.1%,#d9e3ef 81.6%,#adc9e5 82.8%,#7faedc 84.5%,#5c99d3 86.7%,#3b84ca 90.1%,#2476c4 94.6%,#1c71c2 99.7%)"></i>
<i style="top:142px;height:1px;background:linear-gradient(90deg,#eceff3 0.3%,#d8e2ef 1.4%,#77a9da 4.8%,#146cc0 9.3%,#82aa96 13.8%,#d6c378 18.4%,#dc8e5e 25.1%,#dc6f4f 31.4%,#d96148 37.6%,#da674b 41.5%,#dd855a 47.7%,#d6c277 56.2%,#c9c07d 57.3%,#80a997 61.9%,#156dc0 67.5%,#84b1dd 74.3%,#d2dfee 78.2%,#eaeef3 80.5%,#d9e3ef 81.1%,#acc8e5 82.2%,#7eaedb 83.9%,#5b98d2 86.2%,#3a84ca 89.5%,#2375c4 94.1%,#1b71c2 99.7%)"></i>
<i style="top:143px;height:1px;background:linear-gradient(90deg,#eceff3 0.3%,#d8e2ef 1.4%,#76a9d9 4.8%,#1e72c3 8.8%,#176ebf 9.3%,#86ab95 13.8%,#d1c37a 17.8%,#d7bc74 18.9%,#dc8b5d 25.1%,#db6c4e 31.4%,#d85f47 37.6%,#da664a 41.5%,#dd855a 47.7%,#d6c378 56.2%,#7aa699 61.9%,#166dbf 66.9%,#2476c4 68.1%,#82b0dc 73.7%,#d1deed 77.7%,#eaeef3 79.9%,#d8e3ef 80.5%,#abc8e5 81.6%,#7daddb 83.3%,#5a97d2 85.6%,#3983ca 89.0%,#2275c4 93.5%,#1b70c2 99.2%,#1b70c2 99.7%)"></i>
<i style="top:144px;height:1px;background:linear-gradient(90deg,#eceff3 0.3%,#d7e2ef 1.4%,#74a8d9 4.8%,#1b71c2 8.8%,#1a6fbe 9.3%,#7da798 13.3%,#d6c478 17.8%,#dc8d5e 24.6%,#db6c4e 30.8%,#d85e46 37.0%,#d96349 41.0%,#dd8259 47.2%,#d4c379 56.2%,#7fa997 61.3%,#1a70be 66.4%,#186fc1 66.9%,#80afdc 73.2%,#d1deed 77.1%,#eaeef3 79.4%,#d8e2ef 79.9%,#aac7e5 81.1%,#7cacdb 82.8%,#5997d2 85.0%,#3882c9 88.4%,#2174c3 92.9%,#1a70c2 98.6%,#1a70c2 99.7%)"></i>
<i style="top:145px;height:1px;background:linear-gradient(90deg,#eceff3 0.3%,#d7e2ef 1.4%,#73a7d9 4.8%,#196fc1 8.8%,#1d71bd 9.3%,#81aa96 13.3%,#d0c27a 17.2%,#d6c277 17.8%,#dc8e5e 24.0%,#dc6e4f 29.7%,#d85e46 35.3%,#d85d46 39.3%,#dd7552 44.9%,#d9ab6c 52.8%,#d6c277 55.6%,#bebd81 57.3%,#7aa599 61.3%,#156dc0 66.4%,#7eaedb 72.6%,#d0deed 76.6%,#eaeef3 78.8%,#d8e2ef 79.4%,#a9c7e5 80.5%,#7bacdb 82.2%,#5896d2 84.5%,#3782c9 87.9%,#2073c3 92.4%,#196fc1 98.0%,#1a70c2 99.7%)"></i>
<i style="top:146px;height:1px;background:linear-gradient(90deg,#eceff3 0.3%,#d7e2ef 1.4%,#71a6d8 4.8%,#176ec1 8.8%,#2073bb 9.3%,#85ab95 13.3%,#d4c379 17.2%,#dc885b 24.6%,#da674b 30.8%,#d75a44 36.4%,#d85f47 40.4%,#dd7f57 46.6%,#d7ba73 54.5%,#d6c478 55.6%,#7fa897 60.7%,#166dbf 65.8%,#2577c4 66.9%,#88b4de 72.6%,#cfdded 76.0%,#eaeef3 78.2%,#d7e2ef 78.8%,#a9c7e5 79.9%,#7aabda 81.6%,#5796d1 83.9%,#3681c9 87.3%,#1f73c3 91.8%,#196fc1 97.5%,#1a70c2 99.7%)"></i>
<i style="top:147px;height:1px;background:linear-gradient(90deg,#eceff3 0.3%,#d7e2ef 1.4%,#70a5d8 4.8%,#146cc0 8.8%,#89ac94 13.3%,#cec17b 16.7%,#d6c377 17.2%,#dc8d5e 23.4%,#db6c4d 29.1%,#d75a44 34.7%,#d75a44 38.7%,#dc6e4f 43.8%,#db9361 49.4%,#d6c177 55.1%,#d2c379 55.6%,#84ab95 60.2%,#1a70be 65.3%,#196fc1 65.8%,#86b2dd 72.0%,#cfdded 75.4%,#eaeef3 77.7%,#d7e2ef 78.2%,#a8c6e4 79.4%,#79abda 81.1%,#4f91cf 83.9%,#317ec7 87.3%,#1c71c2 91.8%,#186fc1 97.5%,#1a70c2 99.7%)"></i>
<i style="top:148px;height:1px;background:linear-gradient(90deg,#eceff3 0.3%,#d6e1ee 1.4%,#6ea4d8 4.8%,#1e72c3 8.2%,#176ebf 8.8%,#80a997 12.7%,#d2c379 16.7%,#d7bb74 17.8%,#dc865b 24.0%,#da694c 29.1%,#d65843 34.7%,#d75843 38.7%,#dc6e4f 43.8%,#dc8f5f 48.9%,#d6c377 55.1%,#7ea898 60.2%,#1e72bc 64.7%,#156dc0 65.3%,#85b1dd 71.5%,#d7e2ef 75.4%,#eaeef3 77.1%,#d7e2ef 77.7%,#a7c6e4 78.8%,#78aada 80.5%,#4e90cf 83.3%,#307dc7 86.7%,#1b71c2 91.2%,#176ec1 96.9%,#1b70c2 99.7%)"></i>
<i style="top:149px;height:1px;background:linear-gradient(90deg,#eceff3 0.3%,#d6e1ee 1.4%,#7cacdb 4.2%,#1c71c2 8.2%,#1a6fbe 8.8%,#84ab95 12.7%,#d6c478 16.7%,#dc8c5d 22.9%,#db6c4e 28.0%,#d65843 33.6%,#d65642 38.1%,#db6a4d 43.2%,#dc885b 47.7%,#d4c379 55.1%,#84aa95 59.6%,#166dbf 64.7%,#2677c5 65.8%,#83b0dc 70.9%,#d7e2ef 74.9%,#eaeef3 76.6%,#d6e1ee 77.1%,#a6c5e4 78.2%,#77aada 79.9%,#4d90cf 82.8%,#2f7dc7 86.2%,#1b70c2 90.7%,#176ec1 96.9%,#1c71c2 99.7%)"></i>
<i style="top:150px;height:1px;background:linear-gradient(90deg,#eceff3 0.3%,#d6e1ee 1.4%,#7aabda 4.2%,#196fc1 8.2%,#1e71bc 8.8%,#88ac94 12.7%,#d0c27a 16.1%,#d6c177 16.7%,#dc895c 22.9%,#da694c 28.0%,#d65542 33.6%,#d65441 38.1%,#db6a4d 43.2%,#dc885c 47.7%,#d6c277 54.5%,#c7bf7d 55.6%,#7ea898 59.6%,#1b70bd 64.1%,#196fc1 64.7%,#80afdc 70.3%,#d6e2ef 74.3%,#eaeef3 76.0%,#d6e1ee 76.6%,#bbd1e9 77.1%,#94bae0 78.2%,#76a9da 79.4%,#4c8fcf 82.2%,#2e7cc7 85.6%,#1a6fc1 90.1%,#176ec1 96.3%,#1d72c2 99.7%)"></i>
<i style="top:151px;height:1px;background:linear-gradient(90deg,#eceff3 0.3%,#d5e1ee 1.4%,#78aada 4.2%,#176ec1 8.2%,#2173bb 8.8%,#7ea897 12.1%,#d4c379 16.1%,#dc865b 22.9%,#da664b 28.0%,#d55341 33.6%,#d55341 38.1%,#db6a4c 43.2%,#dd845a 47.2%,#d6c378 54.5%,#84ab95 59.0%,#156dc0 64.1%,#7eaedb 69.8%,#d6e1ee 73.7%,#eaeef3 75.4%,#d6e1ee 76.0%,#bbd1e8 76.6%,#93bae0 77.7%,#76a9d9 78.8%,#4b8ece 81.6%,#2d7bc6 85.0%,#196fc1 89.5%,#166dc1 95.8%,#1f73c3 99.7%)"></i>
<i style="top:152px;height:1px;background:linear-gradient(90deg,#eceff3 0.3%,#d5e1ee 1.4%,#77a9da 4.2%,#146cc0 8.2%,#83aa96 12.1%,#cdc17b 15.5%,#d6c277 16.1%,#dc885c 22.3%,#db694c 26.8%,#d55341 32.5%,#d44f3f 37.0%,#d96349 42.1%,#dd8058 46.6%,#d4c379 54.5%,#7ea898 59.0%,#176ebf 63.6%,#1c71c2 64.1%,#7cacdb 69.2%,#d6e1ee 73.2%,#eaeef3 74.9%,#d6e1ee 75.4%,#bad1e8 76.0%,#92b9e0 77.1%,#75a8d9 78.2%,#4a8ece 81.1%,#2c7bc6 84.5%,#186ec1 89.0%,#156dc0 95.2%,#2174c3 99.7%)"></i>
<i style="top:153px;height:1px;background:linear-gradient(90deg,#eceff3 0.3%,#d5e0ee 1.4%,#75a8d9 4.2%,#1f73c3 7.6%,#176ebf 8.2%,#87ab94 12.1%,#d2c379 15.5%,#d8b470 17.2%,#dd8158 22.9%,#d85e46 28.5%,#d44e3e 34.2%,#d5513f 38.1%,#da694c 43.2%,#dd855a 47.2%,#d6c277 54.0%,#c6bf7e 55.1%,#84ab95 58.5%,#1d71bd 63.0%,#186ec1 63.6%,#86b2dd 69.2%,#d5e1ee 72.6%,#eaeef3 74.3%,#d5e1ee 74.9%,#bad0e8 75.4%,#91b9df 76.6%,#74a8d9 77.7%,#498dce 80.5%,#2b7ac6 83.9%,#186fc1 87.9%,#146cc0 93.5%,#1f73c3 98.6%,#2476c4 99.7%)"></i>
<i style="top:154px;height:1px;background:linear-gradient(90deg,#eceff3 0.3%,#d4e0ee 1.4%,#73a7d9 4.2%,#1c71c2 7.6%,#1b70bd 8.2%,#7da798 11.6%,#d6c478 15.5%,#dc8b5d 21.2%,#db6a4d 25.7%,#d5513f 31.4%,#d34b3c 36.4%,#d75b45 41.0%,#dd8158 46.6%,#d6c378 54.0%,#7fa897 58.5%,#146cc0 63.0%,#84b1dd 68.6%,#d5e1ee 72.0%,#eaeef3 73.7%,#d5e1ee 74.3%,#b9d0e8 74.9%,#90b8df 76.0%,#73a7d9 77.1%,#4f91cf 79.4%,#2e7cc7 82.8%,#196fc1 86.7%,#156cc0 89.5%,#176ec1 95.8%,#2778c5 99.7%)"></i>
<i style="top:155px;height:1px;background:linear-gradient(90deg,#eceff3 0.3%,#d4e0ee 1.4%,#72a6d8 4.2%,#1a6fc1 7.6%,#1f72bc 8.2%,#81aa96 11.6%,#d0c27a 15.0%,#d6c177 15.5%,#dc895c 21.2%,#db6b4d 25.1%,#d5503f 30.8%,#d3493b 35.9%,#d65843 40.4%,#dd8158 46.6%,#d4c379 54.0%,#85ab95 57.9%,#1a6fbe 62.4%,#1b70c2 63.0%,#81afdc 68.1%,#d4e0ee 71.5%,#eaeef3 73.2%,#d5e1ee 73.7%,#b8d0e8 74.3%,#90b8df 75.4%,#72a7d9 76.6%,#4f90cf 78.8%,#2d7bc6 82.2%,#186fc1 86.2%,#156dc0 88.4%,#176ec1 95.2%,#2b7ac6 99.7%)"></i>
<i style="top:156px;height:1px;background:linear-gradient(90deg,#eceff3 0.3%,#d3dfee 1.4%,#70a5d8 4.2%,#176ec1 7.6%,#2274bb 8.2%,#86ab95 11.6%,#d5c479 15.0%,#dd865a 21.2%,#da684c 25.1%,#d44f3f 30.2%,#d2473a 35.3%,#d55441 39.8%,#de7954 45.5%,#d7bb74 52.8%,#d6c177 53.4%,#d0c27a 54.0%,#7fa997 57.9%,#1f72bc 61.9%,#166dc1 62.4%,#7faedb 67.5%,#d4e0ee 70.9%,#eaeef3 72.6%,#d5e1ee 73.2%,#b8d0e8 73.7%,#8fb7df 74.9%,#72a6d8 76.0%,#4e90cf 78.2%,#2b7bc6 81.6%,#176ec1 85.6%,#166dbf 87.9%,#166ec1 94.6%,#2c7bc6 99.2%,#307dc7 99.7%)"></i>
<i style="top:157px;height:1px;background:linear-gradient(90deg,#eceff3 0.3%,#d2dfee 1.4%,#80aedc 3.7%,#2275c4 7.1%,#146cc0 7.6%,#7ba699 11.0%,#cdc17b 14.4%,#d6c277 15.0%,#dc885b 20.6%,#da694c 24.6%,#d44f3e 29.7%,#d24539 34.7%,#d44e3e 38.7%,#dc7050 44.4%,#d8b16f 51.7%,#d6c378 53.4%,#86ab94 57.3%,#176dbf 61.9%,#2979c5 63.0%,#7cacdb 66.9%,#d3dfee 70.3%,#eaeef3 72.0%,#d5e0ee 72.6%,#b7cfe8 73.2%,#8eb7df 74.3%,#71a6d8 75.4%,#4d8fcf 77.7%,#2a7ac6 81.1%,#166dc1 85.0%,#166dbf 92.4%,#186ec1 94.6%,#2c7bc6 98.6%,#3581c9 99.7%)"></i>
<i style="top:158px;height:1px;background:linear-gradient(90deg,#eceff3 0.3%,#d1deed 1.4%,#7eaddb 3.7%,#1f73c3 7.1%,#186ebe 7.6%,#80a997 11.0%,#d2c379 14.4%,#d7b973 15.5%,#dd8058 21.2%,#d65843 26.8%,#d2463a 31.9%,#d24539 36.4%,#d75c45 41.5%,#dd8259 46.6%,#d4c379 53.4%,#81a997 57.3%,#1c71bd 61.3%,#196fc1 61.9%,#79aada 66.4%,#d1dfed 69.8%,#eaeef3 71.5%,#d5e0ee 72.0%,#b7cfe8 72.6%,#8db6df 73.7%,#70a5d8 74.9%,#4c8ece 77.1%,#2979c6 80.5%,#156dc0 84.5%,#186ebe 90.7%,#166dc0 93.5%,#2979c5 97.5%,#3b84ca 99.7%)"></i>
<i style="top:159px;height:1px;background:linear-gradient(90deg,#eceff3 0.3%,#d1deed 1.4%,#7bacdb 3.7%,#1d71c2 7.1%,#1c70bd 7.6%,#84ab95 11.0%,#d6c378 14.4%,#dc875b 20.1%,#db6a4d 23.4%,#d44d3d 28.5%,#d14137 33.6%,#d2473a 37.6%,#d96349 42.7%,#dd8359 46.6%,#d6c176 52.8%,#d1c27a 53.4%,#7aa699 57.3%,#156cc0 61.3%,#85b1dd 66.4%,#d0deed 69.2%,#eaeef3 70.9%,#d5e0ee 71.5%,#b7cfe8 72.0%,#8db6de 73.2%,#6fa5d8 74.3%,#4b8ece 76.6%,#2879c5 79.9%,#146cc0 83.9%,#1a6fbe 89.0%,#166dc0 92.9%,#2979c6 96.9%,#4289cc 99.7%)"></i>
<i style="top:160px;height:1px;background:linear-gradient(90deg,#eceff3 0.3%,#d0dded 1.4%,#79abda 3.7%,#1a6fc1 7.1%,#2073bc 7.6%,#89ac94 11.0%,#cfc27a 13.8%,#d6c176 14.4%,#dd8459 20.1%,#d75843 25.7%,#d24338 30.8%,#d14036 35.3%,#d5503f 39.8%,#de7955 45.5%,#d7bc74 52.3%,#d6c377 52.8%,#8fae91 56.2%,#73a29c 57.3%,#196fbe 60.7%,#1c71c2 61.3%,#82b0dc 65.8%,#cfdded 68.6%,#eaeef3 70.3%,#d4e0ee 70.9%,#b6cee8 71.5%,#8cb6de 72.6%,#6fa4d8 73.7%,#4a8dce 76.0%,#2778c5 79.4%,#156dc0 82.8%,#1b70bd 88.4%,#156dc0 92.4%,#2a7ac6 96.3%,#4a8dce 99.7%)"></i>
<i style="top:161px;height:1px;background:linear-gradient(90deg,#eceff3 0.3%,#cfdded 1.4%,#77aada 3.7%,#176ec1 7.1%,#2475ba 7.6%,#7ea898 10.5%,#d4c379 13.8%,#dd8058 20.1%,#d65542 25.7%,#d14137 30.8%,#d03e35 35.3%,#d44f3f 39.8%,#de7955 45.5%,#d5c478 52.8%,#7ba699 56.8%,#1f72bc 60.2%,#176ec1 60.7%,#7eaedb 65.3%,#cedced 68.1%,#eaedf2 69.8%,#d4e0ee 70.3%,#b6cee7 70.9%,#8bb5de 72.0%,#6ea4d7 73.2%,#498dce 75.4%,#2677c5 78.8%,#146cc0 82.2%,#1c70bd 86.7%,#156dc0 91.8%,#2b7ac6 95.8%,#5293d0 99.7%)"></i>
<i style="top:162px;height:1px;background:linear-gradient(90deg,#eceff3 0.3%,#cedced 1.4%,#75a8d9 3.7%,#156cc0 7.1%,#83aa96 10.5%,#ccc17c 13.3%,#d6c277 13.8%,#dd8359 19.5%,#d65542 25.1%,#d13f36 30.2%,#d03c34 34.7%,#d34b3c 39.3%,#dc7050 44.4%,#d8ad6d 50.6%,#d6c076 52.3%,#d1c27a 52.8%,#83aa96 56.2%,#166dbf 60.2%,#3983ca 61.9%,#7bacdb 64.7%,#ccdbec 67.5%,#e9edf2 69.2%,#d4e0ee 69.8%,#b5cee7 70.3%,#8ab5de 71.5%,#6da3d7 72.6%,#488ccd 74.9%,#2a79c6 77.7%,#156dc0 81.1%,#1d71bd 86.2%,#156dc0 91.2%,#2b7ac6 95.2%,#5494d1 99.2%,#5c98d3 99.7%)"></i>
<i style="top:163px;height:1px;background:linear-gradient(90deg,#eceff3 0.3%,#cddcec 1.4%,#74a7d9 3.7%,#2074c3 6.5%,#196fbe 7.1%,#87ac94 10.5%,#d1c27a 13.3%,#d7b872 14.4%,#dd7f58 19.5%,#d65642 24.6%,#d03e36 29.7%,#cf3933 34.2%,#d3473a 38.7%,#db6b4d 43.8%,#dc8a5d 47.2%,#d6c277 52.3%,#b3b985 54.0%,#7ca798 56.2%,#1c71bd 59.6%,#1a70c2 60.2%,#78aada 64.1%,#cbdbec 66.9%,#e1e8f1 68.1%,#e9edf2 68.6%,#d4e0ee 69.2%,#b5cee7 69.8%,#8ab4de 70.9%,#6ca3d7 72.0%,#478ccd 74.3%,#2979c5 77.1%,#146cc0 80.5%,#1e71bc 84.5%,#186ebf 89.5%,#156cc0 90.7%,#2c7bc6 94.6%,#5695d1 98.6%,#669fd5 99.7%)"></i>
<i style="top:164px;height:1px;background:linear-gradient(90deg,#eceff3 0.3%,#ccdbec 1.4%,#72a6d8 3.7%,#1d72c2 6.5%,#1d71bd 7.1%,#7ba699 9.9%,#d6c478 13.3%,#dc875b 18.4%,#da684b 21.8%,#d2463a 26.8%,#cf3732 31.9%,#d03b34 35.9%,#d5503f 40.4%,#dd8058 46.0%,#d5c478 52.3%,#84ab95 55.6%,#2374ba 59.0%,#166dc0 59.6%,#85b2dd 64.1%,#d7e2ef 66.9%,#e9edf2 68.1%,#d4e0ee 68.6%,#b5cee7 69.2%,#89b4de 70.3%,#6ca2d7 71.5%,#468bcd 73.7%,#2878c5 76.6%,#166dc0 79.4%,#1f72bc 84.5%,#186ebe 89.0%,#146cc0 90.1%,#2d7bc6 94.1%,#5896d2 98.0%,#71a6d8 99.7%)"></i>
<i style="top:165px;height:1px;background:linear-gradient(90deg,#eceff3 0.3%,#cbdbec 1.4%,#70a5d8 3.7%,#1a70c2 6.5%,#2173bb 7.1%,#81a997 9.9%,#cec17b 12.7%,#d6c177 13.3%,#dd845a 18.4%,#d86047 22.3%,#d14037 27.4%,#ce3530 32.5%,#d03b34 36.4%,#d65843 41.5%,#dd8058 46.0%,#d6c076 51.7%,#d0c27a 52.3%,#7da798 55.6%,#196fbe 59.0%,#1e72c3 59.6%,#82b0dc 63.6%,#d7e2ef 66.4%,#e9edf2 67.5%,#d4e0ee 68.1%,#b4cde7 68.6%,#88b4de 69.8%,#6ba2d7 70.9%,#458acd 73.2%,#2677c5 76.0%,#156cc0 78.8%,#2073bc 83.3%,#196fbe 88.4%,#146cc0 89.5%,#2e7cc7 93.5%,#5b98d2 97.5%,#7eaedb 99.7%)"></i>
<i style="top:166px;height:1px;background:linear-gradient(90deg,#eceff3 0.3%,#cadaec 1.4%,#82b0dc 3.1%,#2778c5 5.9%,#176ec1 6.5%,#2576b9 7.1%,#86ab95 9.9%,#d3c379 12.7%,#da9a64 16.1%,#dc7050 20.1%,#d3493b 25.1%,#ce3531 30.2%,#ce3530 34.7%,#d3483a 39.3%,#dc7050 44.4%,#d8b470 50.6%,#d6c277 51.7%,#b0b886 53.4%,#85ab95 55.1%,#1f72bc 58.5%,#196fc1 59.0%,#7eaedb 63.0%,#d6e1ee 65.8%,#e9edf2 66.9%,#d4e0ee 67.5%,#b4cde7 68.1%,#88b3dd 69.2%,#6aa1d6 70.3%,#448acc 72.6%,#2577c5 75.4%,#146cc0 78.2%,#2073bb 82.2%,#1b70bd 87.3%,#146cc0 89.0%,#2e7cc7 92.9%,#5594d1 96.3%,#82b0dc 99.2%,#8eb7df 99.7%)"></i>
<i style="top:167px;height:1px;background:linear-gradient(90deg,#eceff3 0.3%,#c9d9ec 1.4%,#80aedc 3.1%,#2476c4 5.9%,#156cc0 6.5%,#79a59a 9.3%,#cac07c 12.1%,#d6c377 12.7%,#dd8359 17.8%,#d96248 21.2%,#d14036 26.3%,#cd312e 31.4%,#ce3430 35.3%,#d34a3c 39.8%,#de7653 44.9%,#d4c479 51.7%,#7da798 55.1%,#146cc0 58.5%,#7bacdb 62.4%,#d5e1ee 65.3%,#e9edf2 66.4%,#d5e0ee 66.9%,#b4cde7 67.5%,#87b3dd 68.6%,#69a1d6 69.8%,#4389cc 72.0%,#2476c4 74.9%,#156dc0 77.1%,#2173bb 81.6%,#1b70bd 86.7%,#146cc0 88.4%,#2f7dc7 92.4%,#5796d1 95.8%,#7aabdb 98.0%,#9fc1e2 99.7%)"></i>
<i style="top:168px;height:1px;background:linear-gradient(90deg,#eceff3 0.3%,#c8d9eb 1.4%,#7daddb 3.1%,#2174c3 5.9%,#196fbe 6.5%,#7ea898 9.3%,#cfc27a 12.1%,#d6c076 12.7%,#dd8058 17.8%,#d5513f 22.9%,#cf3832 27.4%,#cc2f2e 31.9%,#ce3531 35.9%,#d44e3e 40.4%,#de7c56 45.5%,#d6c076 51.1%,#cfc27a 51.7%,#85ab95 54.5%,#1b70bd 57.9%,#1d72c2 58.5%,#77aada 61.9%,#d5e0ee 64.7%,#e8edf2 65.8%,#d5e0ee 66.4%,#b4cde7 66.9%,#86b2dd 68.1%,#69a1d6 69.2%,#4289cc 71.5%,#2376c4 74.3%,#146cc0 76.6%,#2274bb 80.5%,#1e71bc 85.6%,#146cc0 87.9%,#307ec7 91.8%,#5997d2 95.2%,#7eaedb 97.5%,#b1cce6 99.7%)"></i>
<i style="top:169px;height:1px;background:linear-gradient(90deg,#eceff3 0.3%,#c6d8eb 1.4%,#7bacdb 3.1%,#1e72c3 5.9%,#1d71bd 6.5%,#83aa96 9.3%,#d5c478 12.1%,#de7d56 17.8%,#d44e3e 22.9%,#ce3530 27.4%,#ca2e2f 31.9%,#ce3330 35.9%,#d44d3d 40.4%,#dd7d56 45.5%,#d6c377 51.1%,#8dad92 54.0%,#6b9d9f 55.1%,#2274bb 57.3%,#186fc1 57.9%,#74a8d9 61.3%,#d4e0ee 64.1%,#e8edf2 65.3%,#d5e1ee 65.8%,#b4cde7 66.4%,#86b2dd 67.5%,#68a0d6 68.6%,#4188cc 70.9%,#2275c4 73.7%,#156cc0 76.0%,#2274bb 79.4%,#2073bc 84.5%,#146cc0 87.3%,#2c7bc6 90.7%,#5493d1 94.1%,#82b0dc 96.9%,#c4d7eb 99.7%)"></i>
<i style="top:170px;height:1px;background:linear-gradient(90deg,#eceff3 0.3%,#c5d7eb 1.4%,#78aada 3.1%,#1b70c2 5.9%,#2174bb 6.5%,#88ac94 9.3%,#cbc07c 11.6%,#d6c277 12.1%,#dd7f58 17.2%,#d44e3e 22.3%,#ce3430 26.8%,#c82d2f 31.9%,#cd322f 35.9%,#d44d3d 40.4%,#dd7e57 45.5%,#d7be75 50.6%,#d3c379 51.1%,#85ab95 54.0%,#166dbf 57.3%,#5192d0 59.6%,#83b0dc 61.3%,#d2dfee 63.6%,#e8ecf2 64.7%,#d5e1ee 65.3%,#b3cde7 65.8%,#85b2dd 66.9%,#67a0d6 68.1%,#4087cb 70.3%,#2174c3 73.2%,#156dc0 74.9%,#2475ba 79.4%,#1f72bc 84.5%,#146cc0 86.7%,#2d7cc7 90.1%,#5695d1 93.5%,#7aabdb 95.8%,#d6e1ee 99.7%)"></i>
<i style="top:171px;height:1px;background:linear-gradient(90deg,#eceff3 0.3%,#dbe4ef 0.8%,#a9c7e5 2.0%,#76a9da 3.1%,#176ec1 5.9%,#2676b9 6.5%,#7ba699 8.8%,#d0c27a 11.6%,#d7bf75 12.1%,#de7c56 17.2%,#d44f3e 21.8%,#ce3330 26.3%,#c72c2f 31.9%,#ce3330 36.4%,#d5513f 41.0%,#dd7f57 45.5%,#d6c177 50.6%,#cdc17b 51.1%,#7ca798 54.0%,#1d71bd 56.8%,#1d72c2 57.3%,#7faedc 60.7%,#d1deed 63.0%,#e8ecf2 64.1%,#d5e1ee 64.7%,#b3cde7 65.3%,#85b1dd 66.4%,#679fd5 67.5%,#3f87cb 69.8%,#2074c3 72.6%,#146cc0 74.3%,#2475ba 78.2%,#2173bb 83.3%,#146cc0 86.2%,#2e7cc7 89.5%,#5896d2 92.9%,#7eaedb 95.2%,#d0dded 98.6%,#e1e8f1 99.7%)"></i>
<i style="top:172px;height:1px;background:linear-gradient(90deg,#eceff3 0.3%,#dae4ef 0.8%,#74a8d9 3.1%,#146cc0 5.9%,#80a997 8.8%,#d6c478 11.6%,#dd7f57 16.7%,#d44c3d 21.8%,#cd302e 26.3%,#c52b2f 31.9%,#cd322f 36.4%,#d5513f 41.0%,#dd8058 45.5%,#d6c478 50.6%,#85ab95 53.4%,#2475ba 56.2%,#186ec1 56.8%,#7cacdb 60.2%,#cfdded 62.4%,#e7ecf2 63.6%,#d5e1ee 64.1%,#b3cde7 64.7%,#84b1dd 65.8%,#669fd5 66.9%,#3e86cb 69.2%,#1f73c3 72.0%,#156cc0 73.7%,#2475ba 77.1%,#2374ba 82.2%,#146cc0 85.6%,#2f7dc7 89.0%,#5b98d2 92.4%,#83b0dc 94.6%,#d5e1ee 98.0%,#eceff3 99.7%)"></i>
<i style="top:173px;height:1px;background:linear-gradient(90deg,#eceff3 0.3%,#dae4ef 0.8%,#72a6d8 3.1%,#2375c4 5.4%,#186ebe 5.9%,#85ab95 8.8%,#cbc17c 11.0%,#d6c176 11.6%,#de7b56 16.7%,#d44d3d 21.2%,#cc302e 25.7%,#c42a30 31.4%,#cd312e 36.4%,#d5513f 41.0%,#dd8259 45.5%,#d7bf76 50.0%,#cfc27a 50.6%,#7ba699 53.4%,#166dbf 56.2%,#3380c8 57.3%,#78aada 59.6%,#cddced 61.9%,#e7ecf2 63.0%,#d6e1ee 63.6%,#b3cde7 64.1%,#83b1dc 65.3%,#659ed5 66.4%,#3d86cb 68.6%,#1e72c3 71.5%,#166dc0 72.6%,#2676b9 77.1%,#2274bb 82.2%,#156cc0 85.0%,#317ec7 88.4%,#5d99d3 91.8%,#87b3dd 94.1%,#d8e3ef 97.5%,#e8edf2 98.6%,#eaedf2 99.2%,#e5ebf2 99.7%)"></i>
<i style="top:174px;height:1px;background:linear-gradient(90deg,#eceff3 0.3%,#d9e3ef 0.8%,#70a5d8 3.1%,#2073c3 5.4%,#1d71bd 5.9%,#76a39a 8.2%,#afb886 9.9%,#d1c37a 11.0%,#d8b571 12.1%,#dc7150 17.2%,#d24439 21.8%,#cc2f2e 25.1%,#c22930 30.2%,#c92d2f 35.3%,#cf3a33 38.1%,#d96248 42.7%,#dd8359 45.5%,#d6c377 50.0%,#95b08f 52.3%,#84ab95 52.8%,#1d71bc 55.6%,#1d72c2 56.2%,#74a8d9 59.0%,#cbdbec 61.3%,#e7ecf2 62.4%,#d6e1ee 63.0%,#b3cde7 63.6%,#83b0dc 64.7%,#659ed5 65.8%,#3c85ca 68.1%,#1d72c2 70.9%,#156cc0 72.0%,#2676b9 76.0%,#2475ba 81.1%,#156dc0 84.5%,#327fc8 87.9%,#609bd4 91.2%,#7faedb 92.9%,#d3dfee 96.3%,#eceff3 98.0%,#dee6f0 99.7%)"></i>
<i style="top:175px;height:1px;background:linear-gradient(90deg,#eceff3 0.3%,#d9e3ef 0.8%,#6ea4d7 3.1%,#1c71c2 5.4%,#2174bb 5.9%,#7ca798 8.2%,#d6c378 11.0%,#dd8259 15.5%,#d44f3f 20.1%,#cd312f 24.0%,#c12730 29.7%,#c62b2f 34.7%,#ce3531 37.6%,#d75c45 42.1%,#dd7e57 44.9%,#d7bd75 49.4%,#d2c37a 50.0%,#79a599 52.8%,#2575ba 55.1%,#186fc1 55.6%,#86b2dd 59.0%,#cadaec 60.7%,#e6ebf2 61.9%,#d6e1ee 62.4%,#b3cde7 63.0%,#82b0dc 64.1%,#649dd5 65.3%,#3b84ca 67.5%,#1c71c2 70.3%,#146cc0 71.5%,#2676b9 74.9%,#2777b9 79.4%,#1b70bd 82.8%,#156dc0 83.9%,#337fc8 87.3%,#639dd5 90.7%,#83b1dc 92.4%,#d7e2ef 95.8%,#e7ecf2 96.9%,#eaeef3 97.5%,#d8e2ef 99.7%)"></i>
<i style="top:176px;height:1px;background:linear-gradient(90deg,#eceff3 0.3%,#d9e3ef 0.8%,#84b1dd 2.5%,#4188cc 4.2%,#196fc1 5.4%,#2676b9 5.9%,#82aa96 8.2%,#ccc17c 10.5%,#d6c076 11.0%,#dd7e57 15.5%,#d44c3d 20.1%,#cc2f2e 24.0%,#bf2630 29.1%,#c32930 34.2%,#ce3430 37.6%,#d85d46 42.1%,#dd7f57 44.9%,#d6c177 49.4%,#b8bb83 50.6%,#82aa96 52.3%,#166dbf 55.1%,#498dce 56.8%,#82b0dc 58.5%,#c8d9eb 60.2%,#dae4ef 60.7%,#e6ebf2 61.3%,#d7e2ef 61.9%,#b3cde7 62.4%,#98bde1 63.0%,#71a5d8 64.1%,#4d8fcf 65.8%,#2c7bc6 68.1%,#176ec1 70.3%,#166dbf 70.9%,#2777b9 74.3%,#2877b8 78.8%,#1b70bd 82.2%,#156dc0 83.3%,#3580c9 86.7%,#669fd5 90.1%,#88b3dd 91.8%,#d0deed 94.6%,#ebeef3 96.3%,#cfdded 99.7%)"></i>
</div>
<div class="hm" style="left:313px;top:26px;width:177px;height:178px">
<i style="top:0px;height:1px;background:linear-gradient(90deg,#cfdded 0.3%,#dfe7f0 0.8%,#eaeef3 1.4%,#d7e2ef 2.0%,#75a8d9 3.7%,#2d7bc6 5.4%,#186ec1 5.9%,#2777b9 6.5%,#6499a1 8.2%,#83aa96 9.3%,#9fb38c 11.0%,#afb886 12.7%,#b4b984 15.5%,#a4b58a 18.4%,#83aa96 21.2%,#4185af 24.6%,#1a70be 26.3%,#1a70c2 26.8%,#84b1dd 31.9%,#d7e2ef 35.3%,#ebeff3 37.0%,#d1dfed 39.3%,#88b3dd 43.2%,#629cd4 46.0%,#2f7dc7 51.1%,#146cc0 55.1%,#3f84b0 61.9%,#5993a6 69.2%,#6298a2 77.1%,#5892a6 86.7%,#357eb4 99.7%)"></i>
<i style="top:1px;height:1px;background:linear-gradient(90deg,#dbe4ef 0.3%,#e9edf2 0.8%,#dde6f0 1.4%,#c1d5ea 2.0%,#7daddb 3.1%,#337fc8 4.8%,#1e72c3 5.4%,#2173bb 5.9%,#6097a3 7.6%,#7fa997 8.8%,#9eb38c 10.5%,#aeb886 12.1%,#b4ba84 14.4%,#aeb886 16.7%,#93af90 19.5%,#7ba699 21.2%,#377fb3 24.6%,#1c71bd 25.7%,#186fc1 26.3%,#82b0dc 31.4%,#d6e1ee 34.7%,#eaeef3 36.4%,#d2dfee 38.7%,#88b3dd 42.7%,#619cd4 45.5%,#2f7dc7 50.6%,#166dc1 54.0%,#156dbf 54.5%,#4085af 61.3%,#5a93a5 68.6%,#6398a2 76.6%,#5993a6 86.2%,#347eb4 99.7%)"></i>
<i style="top:2px;height:1px;background:linear-gradient(90deg,#e4eaf1 0.3%,#e3e9f1 0.8%,#cddcec 1.4%,#87b3dd 2.5%,#5192d0 3.7%,#2476c4 4.8%,#1a6fbe 5.4%,#5b94a5 7.1%,#88ac94 8.8%,#a3b48a 10.5%,#b3b985 12.7%,#b1b985 15.5%,#9bb28d 18.4%,#7da798 20.6%,#3981b2 24.0%,#1f72bc 25.1%,#166dc1 25.7%,#80aedc 30.8%,#d5e1ee 34.2%,#eaeef3 35.9%,#e1e8f1 37.0%,#d3e0ee 38.1%,#88b3dd 42.1%,#619cd4 44.9%,#2979c6 50.6%,#156dc0 53.4%,#4688ad 61.9%,#5d95a4 69.2%,#6399a2 77.7%,#5691a7 87.3%,#337eb4 99.7%)"></i>
<i style="top:3px;height:1px;background:linear-gradient(90deg,#e9edf2 0.3%,#d6e1ee 0.8%,#72a6d8 2.5%,#2a7ac6 4.2%,#156dc0 4.8%,#5691a7 6.5%,#85ab95 8.2%,#a1b48b 9.9%,#b0b886 11.6%,#b3b984 14.4%,#a2b48a 17.2%,#7fa897 20.1%,#3b82b1 23.4%,#156cc0 25.1%,#7eaddb 30.2%,#d4e0ee 33.6%,#e9edf2 35.3%,#e8edf2 35.9%,#d4e0ee 37.6%,#88b3de 41.5%,#68a0d6 43.8%,#2d7cc7 49.4%,#156cc0 52.8%,#4186af 60.2%,#5b94a5 67.5%,#6499a1 75.4%,#5b94a5 85.0%,#327db4 99.7%)"></i>
<i style="top:4px;height:1px;background:linear-gradient(90deg,#dce5f0 0.3%,#bfd4e9 0.8%,#7aabdb 2.0%,#307dc7 3.7%,#1b70c2 4.2%,#2575ba 4.8%,#6399a2 6.5%,#82aa96 7.6%,#9fb38b 9.3%,#afb886 11.0%,#b4ba84 13.3%,#acb787 15.5%,#90ae91 18.4%,#76a39a 20.1%,#307cb5 23.4%,#156dbf 24.6%,#5796d2 28.0%,#8ab5de 30.2%,#d2dfee 33.1%,#e8edf2 34.7%,#e9edf2 35.3%,#d5e0ee 37.0%,#88b4de 41.0%,#68a0d6 43.2%,#2d7bc6 48.9%,#156cc0 52.3%,#3d83b0 58.5%,#5993a6 65.8%,#6599a1 73.7%,#5e95a4 83.3%,#317db5 99.7%)"></i>
<i style="top:5px;height:1px;background:linear-gradient(90deg,#cadaec 0.3%,#84b1dd 1.4%,#4e90cf 2.5%,#2174c3 3.7%,#1e72bc 4.2%,#5e96a4 5.9%,#7fa897 7.1%,#9eb38c 8.8%,#aeb886 10.5%,#b4ba84 12.7%,#adb787 15.0%,#92af90 17.8%,#78a49a 19.5%,#327db4 22.9%,#186ebf 24.0%,#1c71c2 24.6%,#7aabda 29.1%,#d0deed 32.5%,#e7ecf2 34.2%,#eaeef3 34.7%,#d5e1ee 36.4%,#88b4de 40.4%,#67a0d6 42.7%,#2c7bc6 48.3%,#166dc1 51.1%,#1a70be 52.3%,#4185af 58.5%,#5c94a5 65.8%,#669aa1 73.7%,#5c95a4 83.9%,#317cb5 99.7%)"></i>
<i style="top:6px;height:1px;background:linear-gradient(90deg,#b2cce7 0.3%,#6fa5d8 1.4%,#2778c5 3.1%,#176ebf 3.7%,#5993a6 5.4%,#7ba699 6.5%,#9cb28d 8.2%,#adb786 9.9%,#b4ba84 12.1%,#aeb886 14.4%,#93af90 17.2%,#7aa699 18.9%,#347eb4 22.3%,#1a6fbe 23.4%,#1a70c2 24.0%,#78aada 28.5%,#cfdded 31.9%,#e7ecf2 33.6%,#ebeef3 34.2%,#d6e1ee 35.9%,#7eaedb 40.4%,#4d8fcf 44.4%,#196fc1 50.0%,#156dc0 50.6%,#4588ad 58.5%,#5e96a4 65.8%,#669aa1 73.7%,#5c95a4 83.9%,#307cb5 99.7%)"></i>
<i style="top:7px;height:1px;background:linear-gradient(90deg,#99bee1 0.3%,#77aada 0.8%,#2d7cc7 2.5%,#186ec1 3.1%,#2878b8 3.7%,#679ba0 5.4%,#85ab95 6.5%,#a1b48b 8.2%,#b0b886 9.9%,#b3b984 12.7%,#a6b589 15.0%,#85ab95 17.8%,#4f8ea9 20.6%,#1c70bd 22.9%,#196fc1 23.4%,#84b1dd 28.5%,#cddcec 31.4%,#e6ebf2 33.1%,#eceff3 33.6%,#d6e1ee 35.3%,#7eaedb 39.8%,#4c8fcf 43.8%,#186fc1 49.4%,#146cc0 50.0%,#3e84b0 56.2%,#5b94a5 63.6%,#679ba0 71.5%,#6097a3 81.6%,#4387ae 92.4%,#2f7bb6 99.7%)"></i>
<i style="top:8px;height:1px;background:linear-gradient(90deg,#81b0dc 0.3%,#4c8ece 1.4%,#1e72c2 2.5%,#2274bb 3.1%,#6298a2 4.8%,#82aa96 5.9%,#a0b38b 7.6%,#afb886 9.3%,#b4ba84 11.6%,#acb787 13.8%,#8fae92 16.7%,#73a29c 18.4%,#2b79b7 21.8%,#1e72bc 22.3%,#176ec1 22.9%,#83b0dc 28.0%,#cbdbec 30.8%,#dee6f0 31.9%,#eceff3 33.1%,#d7e2ef 34.7%,#7eaedb 39.3%,#4c8fce 43.2%,#176ec1 48.9%,#156dc0 49.4%,#3c83b1 55.1%,#5a93a5 62.4%,#679ba0 70.3%,#6298a2 80.5%,#4b8bab 89.5%,#2e7bb6 99.7%)"></i>
<i style="top:9px;height:1px;background:linear-gradient(90deg,#6da3d7 0.3%,#2476c4 2.0%,#1b70bd 2.5%,#5d95a4 4.2%,#7ea897 5.4%,#9eb38c 7.1%,#afb886 8.8%,#b4ba84 11.0%,#adb787 13.3%,#90ae91 16.1%,#75a39b 17.8%,#2d7ab6 21.2%,#156dc0 22.3%,#81afdc 27.4%,#d6e1ee 30.8%,#ebeef3 32.5%,#d7e2ef 34.2%,#7eaddb 38.7%,#4b8ece 42.7%,#176ec1 48.3%,#166dbf 48.9%,#3a82b1 54.0%,#5a93a5 61.3%,#689ba0 69.2%,#6499a1 78.8%,#528fa8 87.3%,#2d7ab6 99.7%)"></i>
<i style="top:10px;height:1px;background:linear-gradient(90deg,#5a98d2 0.3%,#146cc0 2.0%,#5892a6 3.7%,#7aa699 4.8%,#9cb28d 6.5%,#aeb886 8.2%,#b4ba84 10.5%,#adb787 12.7%,#91af91 15.5%,#77a49a 17.2%,#307cb5 20.6%,#146cc0 21.8%,#7faedb 26.8%,#d5e1ee 30.2%,#eaeef3 31.9%,#d8e2ef 33.6%,#7eaddb 38.1%,#4b8ece 42.1%,#166dc1 47.7%,#1c71bd 48.9%,#3f84b0 54.0%,#5c95a4 61.3%,#6a9c9f 69.8%,#6298a2 80.5%,#4889ac 90.1%,#2c7ab7 99.7%)"></i>
<i style="top:11px;height:1px;background:linear-gradient(90deg,#498dce 0.3%,#1a70c2 1.4%,#2676b9 2.0%,#659aa1 3.7%,#85ab95 4.8%,#a1b48b 6.5%,#b0b885 8.2%,#b4ba84 10.5%,#aab688 12.7%,#8bad93 15.5%,#6399a2 17.8%,#176dbf 21.2%,#2979c5 22.3%,#7daddb 26.3%,#d4e0ee 29.7%,#eaedf2 31.4%,#e7ecf2 31.9%,#cfdded 33.6%,#88b3dd 37.0%,#659ed5 39.3%,#2d7cc7 44.4%,#156dc0 47.2%,#3e83b0 52.8%,#5c95a4 60.2%,#6a9d9f 68.6%,#6499a1 78.8%,#518ea9 87.3%,#2c79b7 99.7%)"></i>
<i style="top:12px;height:1px;background:linear-gradient(90deg,#3782c9 0.3%,#2174c3 0.8%,#1f72bc 1.4%,#6197a3 3.1%,#81aa96 4.2%,#a0b38b 5.9%,#b0b886 7.6%,#b4ba84 9.9%,#abb787 12.1%,#8dad92 15.0%,#659aa1 17.2%,#196fbe 20.6%,#1c71c2 21.2%,#7bacdb 25.7%,#d3dfee 29.1%,#e9edf2 30.8%,#e8ecf2 31.4%,#cfdded 33.1%,#88b3dd 36.4%,#659ed5 38.7%,#2c7bc6 43.8%,#146cc0 46.6%,#3981b2 51.1%,#5892a6 57.9%,#699c9f 65.8%,#6a9c9f 74.3%,#5993a6 84.5%,#2b79b7 99.7%)"></i>
<i style="top:13px;height:1px;background:linear-gradient(90deg,#2778c5 0.3%,#176ebf 0.8%,#5b94a5 2.5%,#7ea898 3.7%,#9eb38c 5.4%,#afb886 7.1%,#b4ba84 9.3%,#acb787 11.6%,#8eae92 14.4%,#72a19c 16.1%,#2878b8 19.5%,#1b70bd 20.1%,#1a70c2 20.6%,#79abda 25.1%,#d1deed 28.5%,#e8edf2 30.2%,#e9edf2 30.8%,#d0deed 32.5%,#87b3dd 35.9%,#649ed5 38.1%,#2b7ac6 43.2%,#156dc0 46.0%,#3a82b1 50.6%,#5a93a5 57.3%,#6b9d9f 65.3%,#6a9c9f 74.3%,#5a93a5 83.9%,#2a78b8 99.7%)"></i>
<i style="top:14px;height:1px;background:linear-gradient(90deg,#176ec1 0.3%,#2a78b8 0.8%,#699ca0 2.5%,#88ac94 3.7%,#a3b48a 5.4%,#b1b985 7.1%,#b4b984 9.3%,#a8b688 11.6%,#87ac94 14.4%,#518fa9 17.2%,#1d71bd 19.5%,#186fc1 20.1%,#77aada 24.6%,#d0dded 28.0%,#e7ecf2 29.7%,#eaedf2 30.2%,#d1deed 31.9%,#87b3dd 35.3%,#649dd5 37.6%,#307dc7 42.1%,#176ec1 44.9%,#166dbf 45.5%,#4085af 50.6%,#5d95a4 57.3%,#6d9e9e 65.8%,#6a9c9f 74.9%,#5993a6 83.9%,#2978b8 99.7%)"></i>
<i style="top:15px;height:1px;background:linear-gradient(90deg,#2374ba 0.3%,#6499a1 2.0%,#84ab95 3.1%,#a2b48b 4.8%,#b0b885 6.5%,#b4ba84 8.8%,#a9b688 11.0%,#89ac94 13.8%,#5390a8 16.7%,#1f72bc 18.9%,#176ec1 19.5%,#84b1dd 24.6%,#cedded 27.4%,#e7ecf2 29.1%,#eaeef3 29.7%,#d2dfee 31.4%,#87b3dd 34.7%,#639dd5 37.0%,#2f7dc7 41.5%,#166dc0 44.4%,#2274bb 46.0%,#4889ac 51.1%,#6399a2 58.5%,#6f9f9d 66.9%,#679ba0 77.1%,#5390a8 85.6%,#2877b8 99.7%)"></i>
<i style="top:16px;height:1px;background:linear-gradient(90deg,#347eb4 0.3%,#71a19c 2.0%,#8dad92 3.1%,#a7b589 4.8%,#b2b985 6.5%,#b3b984 8.8%,#a5b589 11.0%,#82aa96 13.8%,#3c83b1 17.2%,#156dc0 18.9%,#82b0dc 24.0%,#cddcec 26.8%,#dfe7f0 28.0%,#ebeff3 29.1%,#d3dfee 30.8%,#87b3dd 34.2%,#629dd4 36.4%,#2e7cc7 41.0%,#156cc0 43.8%,#4789ad 50.0%,#6298a2 56.8%,#6fa09d 65.3%,#6b9d9f 74.3%,#5892a6 83.9%,#2777b9 99.7%)"></i>
<i style="top:17px;height:1px;background:linear-gradient(90deg,#4588ad 0.3%,#7da798 2.0%,#9eb38c 3.7%,#afb886 5.4%,#b4ba84 7.6%,#abb787 9.9%,#8cad93 12.7%,#6399a2 15.0%,#156dc0 18.4%,#73a7d9 22.9%,#d7e2ef 26.8%,#eceff3 28.5%,#d4e0ee 30.2%,#86b2dd 33.6%,#629cd4 35.9%,#2d7bc6 40.4%,#156cc0 43.2%,#4487ae 48.9%,#5e96a4 54.5%,#6f9f9d 62.4%,#6f9f9d 71.5%,#5b94a5 82.8%,#2777b9 99.2%,#2676b9 99.7%)"></i>
<i style="top:18px;height:1px;background:linear-gradient(90deg,#5590a7 0.3%,#79a599 1.4%,#93af90 2.5%,#aab688 4.2%,#b4ba84 6.5%,#afb886 8.8%,#9cb28d 11.0%,#7ba699 13.3%,#337db4 16.7%,#176ebf 17.8%,#1d72c2 18.4%,#7faedb 22.9%,#d6e1ee 26.3%,#ebeff3 28.0%,#d4e0ee 29.7%,#86b2dd 33.1%,#619cd4 35.3%,#2c7bc6 39.8%,#176ec1 42.1%,#166dbf 42.7%,#4688ad 48.3%,#5c95a4 52.8%,#6f9f9d 60.7%,#71a09c 69.8%,#5c95a4 82.2%,#2676b9 99.2%,#2576b9 99.7%)"></i>
<i style="top:19px;height:1px;background:linear-gradient(90deg,#6399a2 0.3%,#84ab95 1.4%,#a2b48b 3.1%,#b1b885 4.8%,#b4b984 7.1%,#a8b688 9.3%,#86ab94 12.1%,#4f8da9 15.0%,#196fbe 17.2%,#1b71c2 17.8%,#7daddb 22.3%,#d5e1ee 25.7%,#ebeef3 27.4%,#d5e0ee 29.1%,#85b2dd 32.5%,#609bd4 34.7%,#2a7ac6 39.3%,#166dc0 41.5%,#2877b8 43.8%,#528fa8 49.4%,#6a9c9f 56.2%,#74a29b 64.7%,#6c9d9f 74.3%,#5892a6 83.3%,#2777b9 98.6%,#2475ba 99.7%)"></i>
<i style="top:20px;height:1px;background:linear-gradient(90deg,#70a09d 0.3%,#8dad92 1.4%,#a7b589 3.1%,#b3b985 4.8%,#b3b985 7.1%,#a4b58a 9.3%,#7fa897 12.1%,#3780b3 15.5%,#1b70bd 16.7%,#1a70c1 17.2%,#7bacdb 21.8%,#d4e0ee 25.1%,#eaeef3 26.8%,#dde6f0 28.0%,#d5e1ee 28.5%,#85b2dd 31.9%,#5f9bd4 34.2%,#2979c6 38.7%,#146cc0 41.0%,#4587ad 46.6%,#5e96a4 51.1%,#71a19c 59.0%,#74a29b 68.1%,#5f96a4 81.1%,#2676b9 98.6%,#2375ba 99.7%)"></i>
<i style="top:21px;height:1px;background:linear-gradient(90deg,#7da798 0.3%,#9eb38c 2.0%,#afb886 3.7%,#b4ba84 5.9%,#aab688 8.2%,#89ac93 11.0%,#5f96a3 13.3%,#1d71bc 16.1%,#186fc1 16.7%,#79abda 21.2%,#d3e0ee 24.6%,#eaedf2 26.3%,#e7ecf2 26.8%,#d5e1ee 28.0%,#85b1dd 31.4%,#5f9ad3 33.6%,#2878c5 38.1%,#156dc0 40.4%,#4286ae 45.5%,#6097a3 50.6%,#73a29c 58.5%,#75a29b 68.1%,#5e96a4 81.1%,#2676b9 98.0%,#2274bb 99.7%)"></i>
<i style="top:22px;height:1px;background:linear-gradient(90deg,#87ac94 0.3%,#a4b48a 2.0%,#b2b985 3.7%,#b4b984 5.9%,#a6b589 8.2%,#82aa96 11.0%,#4889ac 13.8%,#1f72bc 15.5%,#166ec1 16.1%,#78aada 20.6%,#d2dfee 24.0%,#e9edf2 25.7%,#e7ecf2 26.3%,#d6e1ee 27.4%,#84b1dd 30.8%,#5e9ad3 33.1%,#2778c5 37.6%,#166ec1 39.3%,#176ebf 39.8%,#4487ae 44.9%,#6599a1 50.6%,#75a39b 58.5%,#75a39b 68.1%,#5e95a4 81.1%,#2576b9 98.0%,#2173bb 99.7%)"></i>
<i style="top:23px;height:1px;background:linear-gradient(90deg,#90ae91 0.3%,#a9b688 2.0%,#b3b984 3.7%,#b2b985 5.9%,#a2b48b 8.2%,#84ab95 10.5%,#4a8bab 13.3%,#156dc0 15.5%,#85b2dd 20.6%,#d1deed 23.4%,#e8edf2 25.1%,#e8edf2 25.7%,#d6e1ee 26.8%,#83b1dc 30.2%,#5d99d3 32.5%,#2b7ac6 36.4%,#156dc0 38.7%,#4a8aab 44.9%,#699ca0 50.6%,#78a49a 58.5%,#76a39b 68.1%,#5f96a3 80.5%,#2576b9 97.5%,#2073bb 99.7%)"></i>
<i style="top:24px;height:1px;background:linear-gradient(90deg,#98b18e 0.3%,#adb787 2.0%,#b4ba84 4.2%,#adb787 6.5%,#96b08f 8.8%,#7ba698 10.5%,#317db5 13.8%,#156dc0 15.0%,#75a8d9 19.5%,#cfdded 22.9%,#e8ecf2 24.6%,#e9edf2 25.1%,#d7e2ef 26.3%,#83b0dc 29.7%,#5493d1 32.5%,#1e72c3 37.0%,#156cc0 38.1%,#4487ae 43.2%,#699ca0 49.4%,#78a59a 56.8%,#79a59a 66.4%,#6097a3 79.9%,#2475ba 97.5%,#1f72bc 99.7%)"></i>
<i style="top:25px;height:1px;background:linear-gradient(90deg,#9eb38c 0.3%,#b0b886 2.0%,#b4ba84 4.2%,#a9b688 6.5%,#87ab94 9.3%,#4e8daa 12.1%,#176ebf 14.4%,#1d72c2 15.0%,#82b0dc 19.5%,#cedced 22.3%,#e7ecf2 24.0%,#eaeef3 24.6%,#d7e2ef 25.7%,#82b0dc 29.1%,#5293d0 31.9%,#2275c4 35.9%,#176ec1 37.0%,#176dbf 37.6%,#4588ad 42.7%,#6a9d9f 48.9%,#79a599 55.1%,#7ba699 64.7%,#6499a1 78.2%,#2375ba 97.5%,#1e72bc 99.7%)"></i>
<i style="top:26px;height:1px;background:linear-gradient(90deg,#a4b58a 0.3%,#b2b985 2.0%,#b3b984 4.2%,#a5b58a 6.5%,#7fa897 9.3%,#4387ae 12.1%,#196fbe 13.8%,#1c71c2 14.4%,#80afdc 18.9%,#ccdbec 21.8%,#dfe7f0 22.9%,#eaeef3 24.0%,#d8e2ef 25.1%,#82b0dc 28.5%,#5192d0 31.4%,#2174c3 35.3%,#156dc0 36.4%,#4c8bab 42.7%,#71a09d 49.4%,#7da798 57.3%,#79a59a 67.5%,#5f96a3 79.9%,#2576b9 96.3%,#1d71bd 99.7%)"></i>
<i style="top:27px;height:1px;background:linear-gradient(90deg,#a9b688 0.3%,#b3b984 2.0%,#b2b985 4.2%,#a0b38b 6.5%,#81a996 8.8%,#4588ad 11.6%,#1b70bd 13.3%,#1a70c2 13.8%,#7eaedb 18.4%,#cbdbec 21.2%,#dee7f0 22.3%,#ebeff3 23.4%,#cbdbec 25.1%,#81afdc 28.0%,#5091d0 30.8%,#1f73c3 34.7%,#146cc0 35.9%,#4185af 40.4%,#689ca0 46.6%,#79a599 51.1%,#80a997 60.2%,#73a29c 70.9%,#5c95a4 80.5%,#2475ba 96.3%,#1c71bd 99.7%)"></i>
<i style="top:28px;height:1px;background:linear-gradient(90deg,#adb787 0.3%,#b4ba84 2.5%,#acb787 4.8%,#93af90 7.1%,#78a49a 8.8%,#2b79b7 12.1%,#1d71bd 12.7%,#186fc1 13.3%,#7daddb 17.8%,#d6e1ee 21.2%,#eceff3 22.9%,#cbdbec 24.6%,#80afdc 27.4%,#4f90cf 30.2%,#1d72c2 34.2%,#166dbf 35.3%,#4387ae 39.8%,#679ba0 45.5%,#7ca798 51.1%,#81aa96 60.2%,#73a19c 71.5%,#5c94a5 80.5%,#2575ba 95.8%,#1b70bd 99.7%)"></i>
<i style="top:29px;height:1px;background:linear-gradient(90deg,#b0b886 0.3%,#b4b984 2.5%,#a8b688 4.8%,#84ab95 7.6%,#498aac 10.5%,#1f72bc 12.1%,#176ec1 12.7%,#7bacdb 17.2%,#d6e1ee 20.6%,#ebeff3 22.3%,#d9e3ef 23.4%,#7faedc 26.8%,#4e90cf 29.7%,#1c71c2 33.6%,#166dc0 34.2%,#4e8daa 40.4%,#71a19c 46.6%,#80a997 51.1%,#82aa96 60.7%,#70a09d 72.6%,#5993a6 81.1%,#2375ba 95.8%,#1a6fbe 99.7%)"></i>
<i style="top:30px;height:1px;background:linear-gradient(90deg,#b2b985 0.3%,#b3b985 2.5%,#a3b48a 4.8%,#86ab95 7.1%,#4b8bab 9.9%,#156dc0 12.1%,#79abda 16.7%,#d5e1ee 20.1%,#ebeef3 21.8%,#d9e3ef 22.9%,#7eaedb 26.3%,#4c8fcf 29.1%,#1a70c1 33.1%,#146cc0 33.6%,#4387ae 38.1%,#699ca0 43.8%,#82aa96 50.6%,#83aa95 60.7%,#6f9f9d 73.2%,#5892a6 81.1%,#2475ba 95.2%,#196fbe 99.7%)"></i>
<i style="top:31px;height:1px;background:linear-gradient(90deg,#b3b984 0.3%,#b1b985 2.5%,#9eb38c 4.8%,#7da798 7.1%,#3f84af 9.9%,#146cc0 11.6%,#78aada 16.1%,#d4e0ee 19.5%,#eaeef3 21.2%,#dae4ef 22.3%,#bbd2e9 23.4%,#7eaddb 25.7%,#4b8ece 28.5%,#186ec1 32.5%,#176dbf 33.1%,#4688ad 37.6%,#6b9d9f 43.2%,#84ab95 50.0%,#85ab95 60.2%,#72a19c 72.0%,#5993a6 80.5%,#2475ba 94.6%,#186ebf 99.7%)"></i>
<i style="top:32px;height:1px;background:linear-gradient(90deg,#b4ba84 0.3%,#afb886 2.5%,#99b18e 4.8%,#74a29b 7.1%,#2576b9 10.5%,#166dbf 11.0%,#2a7ac6 12.1%,#86b2dd 16.1%,#d3dfee 18.9%,#eaeef3 20.6%,#e5eaf1 21.2%,#cddced 22.3%,#8bb5de 24.6%,#669fd5 26.3%,#317ec7 29.7%,#166dc0 31.9%,#2777b9 33.6%,#518ea9 38.1%,#73a19c 43.8%,#87ac94 50.0%,#86ab95 60.7%,#6d9e9e 74.3%,#4a8bab 83.9%,#2073bb 95.8%,#176dbf 99.7%)"></i>
<i style="top:33px;height:1px;background:linear-gradient(90deg,#b4ba84 0.3%,#abb787 2.5%,#92af90 4.8%,#76a39b 6.5%,#2777b9 9.9%,#186ebe 10.5%,#1d71c2 11.0%,#84b1dd 15.5%,#d2dfed 18.4%,#e9edf2 20.1%,#e5ebf2 20.6%,#cedced 21.8%,#8ab5de 24.0%,#659ed5 25.7%,#2f7dc7 29.1%,#146cc0 31.4%,#4185af 35.3%,#669aa1 40.4%,#83aa96 47.2%,#8bad93 52.3%,#82aa96 64.1%,#6298a2 77.7%,#2475ba 94.1%,#156dbf 99.7%)"></i>
<i style="top:34px;height:1px;background:linear-gradient(90deg,#b4b984 0.3%,#a8b689 2.5%,#8bad93 4.8%,#6c9e9e 6.5%,#1a70be 9.9%,#1b70c2 10.5%,#83b0dc 15.0%,#d0deed 17.8%,#e9edf2 19.5%,#e6ebf2 20.1%,#cedded 21.2%,#8ab4de 23.4%,#649dd5 25.1%,#2d7cc7 28.5%,#186ec1 30.2%,#176ebf 30.8%,#4487ae 34.7%,#699ca0 39.8%,#85ab95 46.6%,#8dad92 51.7%,#84aa95 63.6%,#6499a2 77.1%,#2274bb 94.1%,#146cc0 99.7%)"></i>
<i style="top:35px;height:1px;background:linear-gradient(90deg,#b3b985 0.3%,#a3b48a 2.5%,#84ab95 4.8%,#4789ac 7.6%,#1c71bd 9.3%,#196fc1 9.9%,#81afdc 14.4%,#cfdded 17.2%,#e8edf2 18.9%,#e7ecf2 19.5%,#cfdded 20.6%,#89b4de 22.9%,#629dd4 24.6%,#2b7ac6 28.0%,#166dc0 29.7%,#508ea9 35.3%,#74a29b 41.0%,#8aac93 47.2%,#8fae91 52.3%,#82aa96 64.7%,#6398a2 77.1%,#2374ba 93.5%,#156cc0 99.7%)"></i>
<i style="top:36px;height:1px;background:linear-gradient(90deg,#b1b985 0.3%,#9eb38c 2.5%,#7ba699 4.8%,#3b82b1 7.6%,#1e72bc 8.8%,#186ec1 9.3%,#7faedc 13.8%,#cedced 16.7%,#e8ecf2 18.4%,#e8ecf2 18.9%,#cfdded 20.1%,#88b3dd 22.3%,#6ca3d7 23.4%,#3a83ca 26.3%,#156cc0 29.1%,#4487ae 33.1%,#6b9d9f 38.1%,#86ab95 44.4%,#91af91 51.1%,#85ab95 63.6%,#6499a1 76.6%,#2375ba 92.9%,#156cc0 99.2%,#166dc0 99.7%)"></i>
<i style="top:37px;height:1px;background:linear-gradient(90deg,#afb886 0.3%,#98b18e 2.5%,#7da798 4.2%,#3d83b0 7.1%,#2073bb 8.2%,#166dc1 8.8%,#7eaddb 13.3%,#cddcec 16.1%,#e0e7f0 17.2%,#e7ecf2 17.8%,#e8edf2 18.4%,#d0deed 19.5%,#87b3dd 21.8%,#6ba2d7 22.9%,#3882c9 25.7%,#186fc1 28.0%,#176ebf 28.5%,#4789ac 32.5%,#6b9d9f 37.0%,#85ab95 42.7%,#94af90 50.6%,#86ab95 63.0%,#669aa1 76.0%,#2274bb 92.9%,#156cc0 98.6%,#166ec1 99.7%)"></i>
<i style="top:38px;height:1px;background:linear-gradient(90deg,#abb787 0.3%,#91af91 2.5%,#73a29c 4.2%,#156dc0 8.2%,#7caddb 12.7%,#cbdbec 15.5%,#dfe7f0 16.7%,#e7ecf2 17.2%,#e9edf2 17.8%,#d0deed 18.9%,#86b2dd 21.2%,#5e9ad3 22.9%,#2d7bc6 25.7%,#166dc0 27.4%,#508ea9 32.5%,#74a29b 37.6%,#8aac93 43.2%,#96b08f 50.6%,#86ab95 63.6%,#679ba0 75.4%,#2274ba 92.4%,#156cc0 98.0%,#176ec1 99.7%)"></i>
<i style="top:39px;height:1px;background:linear-gradient(90deg,#a7b589 0.3%,#8aac93 2.5%,#699c9f 4.2%,#156cc0 7.6%,#7bacdb 12.1%,#cadaec 15.0%,#dfe7f0 16.1%,#eaeef3 17.2%,#d1deed 18.4%,#85b1dd 20.6%,#5d99d3 22.3%,#2b7ac6 25.1%,#156cc0 26.8%,#4286ae 30.2%,#699c9f 34.7%,#86ab95 40.4%,#98b18e 49.4%,#8aad93 61.3%,#6b9d9f 74.3%,#2173bb 92.4%,#156cc0 97.5%,#186fc1 99.7%)"></i>
<i style="top:40px;height:1px;background:linear-gradient(90deg,#a2b48a 0.3%,#82aa96 2.5%,#4387ae 5.4%,#176ebf 7.1%,#1e72c3 7.6%,#79abda 11.6%,#d6e1ee 15.0%,#ebeef3 16.7%,#d1deed 17.8%,#84b1dd 20.1%,#5b98d2 21.8%,#2879c5 24.6%,#186fc1 25.7%,#186ebe 26.3%,#4588ad 29.7%,#6d9e9e 34.2%,#86ab95 39.3%,#98b18e 47.7%,#97b08f 53.4%,#7ca698 68.1%,#6197a3 76.6%,#2274bb 91.8%,#156cc0 96.9%,#196fc1 99.7%)"></i>
<i style="top:41px;height:1px;background:linear-gradient(90deg,#9db28c 0.3%,#79a59a 2.5%,#3780b3 5.4%,#196fbe 6.5%,#1d71c2 7.1%,#78aada 11.0%,#d6e1ee 14.4%,#ebeff3 16.1%,#d2dfee 17.2%,#82b0dc 19.5%,#5997d2 21.2%,#2677c5 24.0%,#166dc0 25.1%,#4f8daa 29.7%,#74a29c 34.2%,#8bad93 39.3%,#9bb28d 48.3%,#94b08f 56.2%,#77a49a 69.8%,#5b94a5 77.7%,#2274bb 91.2%,#156cc0 96.3%,#1a70c2 99.7%)"></i>
<i style="top:42px;height:1px;background:linear-gradient(90deg,#97b08f 0.3%,#7ba699 2.0%,#3981b2 4.8%,#1b70bd 5.9%,#1b70c2 6.5%,#77a9da 10.5%,#d5e1ee 13.8%,#eceff3 15.5%,#d2dfee 16.7%,#81afdc 18.9%,#5896d2 20.6%,#2476c4 23.4%,#156dc0 24.6%,#4688ad 28.0%,#6b9d9f 31.9%,#88ac94 37.0%,#9ab18d 44.9%,#9db28c 51.1%,#7fa897 66.9%,#6499a1 75.4%,#2374ba 90.7%,#146cc0 95.8%,#1b70c2 99.7%)"></i>
<i style="top:43px;height:1px;background:linear-gradient(90deg,#90ae91 0.3%,#71a09d 2.0%,#1d71bd 5.4%,#1a6fc1 5.9%,#85b2dd 10.5%,#d5e0ee 13.3%,#ebeff3 15.0%,#d3dfee 16.1%,#93bae0 17.8%,#70a5d8 18.9%,#3480c8 21.8%,#186fc1 23.4%,#196fbe 24.0%,#4a8aac 27.4%,#6f9f9d 31.4%,#88ac94 35.9%,#9bb28d 43.8%,#9eb38c 51.1%,#7da798 67.5%,#6399a2 75.4%,#2173bb 90.7%,#146cc0 95.2%,#1c71c2 99.7%)"></i>
<i style="top:44px;height:1px;background:linear-gradient(90deg,#88ac94 0.3%,#5993a6 2.5%,#1e72bc 4.8%,#186fc1 5.4%,#84b1dd 9.9%,#d4e0ee 12.7%,#ebeef3 14.4%,#d3dfee 15.5%,#92b9e0 17.2%,#6fa4d8 18.4%,#327ec8 21.2%,#166dc0 22.9%,#4d8caa 26.8%,#73a19c 30.8%,#8bad93 35.3%,#9db28c 43.2%,#a0b38b 51.1%,#7ca798 68.1%,#6298a2 75.4%,#2274bb 90.1%,#146cc0 94.6%,#1d72c2 99.7%)"></i>
<i style="top:45px;height:1px;background:linear-gradient(90deg,#80a997 0.3%,#3e84b0 3.1%,#2073bb 4.2%,#176ec1 4.8%,#82b0dc 9.3%,#d3dfee 12.1%,#ebeef3 13.8%,#d3e0ee 15.0%,#91b8df 16.7%,#6da3d7 17.8%,#2f7dc7 20.6%,#156dbf 22.3%,#4386ae 25.1%,#699ca0 28.5%,#87ac94 33.1%,#9cb28d 39.8%,#a3b48a 50.0%,#7da798 67.5%,#6399a2 74.9%,#2274bb 89.5%,#146cc0 94.1%,#1e72c3 99.7%)"></i>
<i style="top:46px;height:1px;background:linear-gradient(90deg,#76a39b 0.3%,#327db5 3.1%,#156dc0 4.2%,#81afdc 8.8%,#d2dfee 11.6%,#eaeef3 13.3%,#d4e0ee 14.4%,#90b8df 16.1%,#6ca2d7 17.2%,#3882c9 19.5%,#196fc1 21.2%,#196fbe 21.8%,#4789ad 24.6%,#6d9e9e 28.0%,#88ac94 31.9%,#9db28c 38.7%,#a5b58a 48.9%,#89ac93 63.0%,#6d9e9e 72.6%,#2173bb 89.5%,#146cc0 93.5%,#1f73c3 99.7%)"></i>
<i style="top:47px;height:1px;background:linear-gradient(90deg,#6b9d9f 0.3%,#146cc0 3.7%,#7faedc 8.2%,#d1deed 11.0%,#eaeef3 12.7%,#e2e9f1 13.3%,#d4e0ee 13.8%,#8eb7df 15.5%,#6aa1d6 16.7%,#3581c9 18.9%,#166dc1 20.6%,#538fa8 24.6%,#7aa699 28.5%,#92af90 33.1%,#a3b48a 40.4%,#a5b589 50.6%,#79a59a 69.2%,#1d71bc 90.1%,#156dc0 93.5%,#2074c3 99.7%)"></i>
<i style="top:48px;height:1px;background:linear-gradient(90deg,#6097a3 0.3%,#166dbf 3.1%,#2c7bc6 4.2%,#7eaedb 7.6%,#d0deed 10.5%,#eaedf2 12.1%,#e2e9f1 12.7%,#d4e0ee 13.3%,#8db6df 15.0%,#68a0d6 16.1%,#327fc8 18.4%,#156dbf 20.1%,#4789ac 22.9%,#70a09d 26.3%,#89ac93 29.7%,#a0b38b 35.9%,#a9b688 44.9%,#a4b58a 51.7%,#79a59a 69.2%,#2073bc 89.0%,#156dc0 92.9%,#2174c3 99.7%)"></i>
<i style="top:49px;height:1px;background:linear-gradient(90deg,#5490a7 0.3%,#186ebe 2.5%,#1e72c2 3.1%,#7daddb 7.1%,#cfdded 9.9%,#e9edf2 11.6%,#e3e9f1 12.1%,#d5e0ee 12.7%,#8cb6de 14.4%,#669fd5 15.5%,#307dc7 17.8%,#1a70c1 18.9%,#196fbe 19.5%,#4c8bab 22.3%,#74a29b 25.7%,#8dad92 29.1%,#a1b48b 34.7%,#abb788 43.8%,#a6b589 51.1%,#78a59a 69.2%,#2073bb 88.4%,#156cc0 92.4%,#2275c4 99.7%)"></i>
<i style="top:50px;height:1px;background:linear-gradient(90deg,#4889ac 0.3%,#1a6fbe 2.0%,#1c71c2 2.5%,#7bacdb 6.5%,#cedced 9.3%,#e9edf2 11.0%,#e4eaf1 11.6%,#d5e0ee 12.1%,#8ab5de 13.8%,#659ed5 15.0%,#2d7bc6 17.2%,#176ec1 18.4%,#2978b8 19.5%,#5893a6 22.3%,#7ea898 25.7%,#99b18e 30.2%,#a9b688 37.0%,#abb787 48.3%,#90ae91 60.7%,#76a39b 69.8%,#2173bb 87.9%,#156cc0 91.8%,#2375c4 99.7%)"></i>
<i style="top:51px;height:1px;background:linear-gradient(90deg,#3b82b1 0.3%,#1c70bd 1.4%,#1b70c2 2.0%,#7aabda 5.9%,#cddcec 8.8%,#e1e8f1 9.9%,#e8edf2 10.5%,#e4eaf1 11.0%,#d5e1ee 11.6%,#89b4de 13.3%,#639dd4 14.4%,#2a7ac6 16.7%,#156dc0 17.8%,#4386ae 20.1%,#6c9d9f 22.9%,#87ab94 25.7%,#a0b38b 30.8%,#aeb886 38.1%,#abb787 50.0%,#79a599 68.6%,#1f72bc 87.9%,#146cc0 91.2%,#2476c4 99.7%)"></i>
<i style="top:52px;height:1px;background:linear-gradient(90deg,#2e7ab6 0.3%,#1e71bc 0.8%,#196fc1 1.4%,#79aada 5.4%,#ccdbec 8.2%,#e0e8f1 9.3%,#e8edf2 9.9%,#e5eaf1 10.5%,#d5e1ee 11.0%,#87b3dd 12.7%,#619bd4 13.8%,#2778c5 16.1%,#1b70c2 16.7%,#196fbe 17.2%,#4789ac 19.5%,#70a09d 22.3%,#8bad93 25.1%,#a4b58a 30.2%,#b1b885 37.6%,#acb787 50.0%,#79a599 68.6%,#2073bc 87.3%,#146cc0 90.7%,#2577c4 99.7%)"></i>
<i style="top:53px;height:1px;background:linear-gradient(90deg,#2073bc 0.3%,#186ec1 0.8%,#77aada 4.8%,#cbdbec 7.6%,#e0e7f0 8.8%,#e8ecf2 9.3%,#e5ebf2 9.9%,#d5e1ee 10.5%,#86b2dd 12.1%,#5e9ad3 13.3%,#2476c4 15.5%,#186ec1 16.1%,#1e71bc 16.7%,#4c8caa 18.9%,#75a39b 21.8%,#8fae91 24.6%,#a8b688 29.7%,#b3b984 37.0%,#adb787 50.0%,#7ba699 68.1%,#2073bb 86.7%,#146cc0 90.1%,#2677c5 99.7%)"></i>
<i style="top:54px;height:1px;background:linear-gradient(90deg,#166dc1 0.3%,#76a9da 4.2%,#cadaec 7.1%,#dfe7f0 8.2%,#e7ecf2 8.8%,#e6ebf2 9.3%,#d5e1ee 9.9%,#84b1dd 11.6%,#5c99d3 12.7%,#2074c3 15.0%,#146cc0 15.5%,#4789ad 17.8%,#74a29b 20.6%,#8bad93 22.9%,#a6b589 27.4%,#b4ba84 33.6%,#b4b984 44.4%,#aab688 51.7%,#7aa599 68.1%,#2173bb 86.2%,#146cc0 89.5%,#2778c5 99.7%)"></i>
<i style="top:55px;height:1px;background:linear-gradient(90deg,#2275c4 0.3%,#86b2dd 4.2%,#c9daec 6.5%,#d7e2ef 7.1%,#e7ecf2 8.2%,#e6ebf2 8.8%,#d5e1ee 9.3%,#82b0dc 11.0%,#5a97d2 12.1%,#1d72c2 14.4%,#196fbe 15.0%,#4c8cab 17.2%,#79a599 20.1%,#98b18e 23.4%,#aeb886 28.0%,#b9bb82 34.7%,#b3b985 47.2%,#a6b589 53.4%,#7ca698 67.5%,#2174bb 85.6%,#156dc0 89.5%,#2879c5 99.7%)"></i>
<i style="top:56px;height:1px;background:linear-gradient(90deg,#2e7cc7 0.3%,#85b1dd 3.7%,#d6e2ef 6.5%,#e7ecf2 7.6%,#e7ecf2 8.2%,#d5e1ee 8.8%,#80afdc 10.5%,#468bcd 12.1%,#196fc1 13.8%,#1d71bc 14.4%,#518fa9 16.7%,#7ea897 19.5%,#9db28c 22.9%,#b2b985 27.4%,#bcbc81 34.2%,#b4b984 47.2%,#a6b589 53.4%,#7ba699 67.5%,#2274bb 85.0%,#156dc0 89.0%,#2979c6 99.7%)"></i>
<i style="top:57px;height:1px;background:linear-gradient(90deg,#3b84ca 0.3%,#83b1dc 3.1%,#d6e1ee 5.9%,#e6ebf2 7.1%,#e8ecf2 7.6%,#d6e1ee 8.2%,#7eaddb 9.9%,#4389cc 11.6%,#166dc0 13.3%,#5792a6 16.1%,#84ab95 18.9%,#a2b48b 22.3%,#b6ba83 26.8%,#bfbd80 33.6%,#b5ba84 47.2%,#a7b589 53.4%,#7aa699 67.5%,#2374ba 84.5%,#156cc0 88.4%,#2b7ac6 99.7%)"></i>
<i style="top:58px;height:1px;background:linear-gradient(90deg,#488ccd 0.3%,#82b0dc 2.5%,#d6e1ee 5.4%,#e6ebf2 6.5%,#e8edf2 7.1%,#d6e1ee 7.6%,#7cacdb 9.3%,#4087cb 11.0%,#2073c3 12.1%,#176ebf 12.7%,#518ea9 15.0%,#7aa699 17.2%,#9ab18d 20.1%,#b3b985 24.0%,#c1bd80 29.7%,#c0bd80 39.3%,#aeb886 51.1%,#7ca798 66.9%,#2375ba 83.9%,#156cc0 87.9%,#2b7ac6 99.2%,#2c7bc6 99.7%)"></i>
<i style="top:59px;height:1px;background:linear-gradient(90deg,#5594d1 0.3%,#92bae0 2.5%,#d5e1ee 4.8%,#e6ebf2 5.9%,#e9edf2 6.5%,#d6e1ee 7.1%,#79abda 8.8%,#3d85cb 10.5%,#1c71c2 11.6%,#1c71bd 12.1%,#4a8aab 13.8%,#77a49a 16.1%,#95b08f 18.4%,#afb886 21.8%,#c2be7f 26.8%,#c5bf7e 34.7%,#b2b985 50.0%,#7ba699 66.9%,#2475ba 83.3%,#146cc0 87.3%,#2b7bc6 98.6%,#2d7bc6 99.7%)"></i>
<i style="top:60px;height:1px;background:linear-gradient(90deg,#629cd4 0.3%,#a3c3e3 2.5%,#d5e1ee 4.2%,#e5ebf2 5.4%,#e9edf2 5.9%,#d6e1ee 6.5%,#77a9da 8.2%,#3983ca 9.9%,#186ec1 11.0%,#2174bb 11.6%,#508ea9 13.3%,#7da798 15.5%,#a0b38b 18.4%,#babb82 22.3%,#c8c07d 28.0%,#c6bf7e 37.6%,#afb886 51.1%,#7da798 66.4%,#2475ba 82.8%,#146cc0 86.7%,#2c7bc6 98.0%,#2e7cc7 99.7%)"></i>
<i style="top:61px;height:1px;background:linear-gradient(90deg,#6fa4d8 0.3%,#d4e0ee 3.7%,#e5ebf2 4.8%,#eaeef3 5.4%,#d6e1ee 5.9%,#93bae0 7.1%,#75a8d9 7.6%,#3681c9 9.3%,#146cc0 10.5%,#4889ac 12.1%,#7aa599 14.4%,#9ab18e 16.7%,#b6ba83 20.1%,#c8c07d 24.6%,#cdc17b 31.9%,#b5ba84 48.9%,#7fa897 65.8%,#2576ba 82.2%,#146cc0 86.2%,#2d7cc7 98.0%,#2f7dc7 99.7%)"></i>
<i style="top:62px;height:1px;background:linear-gradient(90deg,#7eaddb 0.3%,#d4e0ee 3.1%,#eaeef3 4.8%,#d6e1ee 5.4%,#91b8df 6.5%,#73a7d9 7.1%,#327fc8 8.8%,#2073c3 9.3%,#1a6fbe 9.9%,#4e8daa 11.6%,#80a997 13.8%,#a5b589 16.7%,#bfbd80 20.1%,#cfc27a 25.1%,#cfc27a 33.1%,#b2b985 50.6%,#7ea798 65.8%,#2676b9 81.6%,#156cc0 85.6%,#2e7cc7 97.5%,#307dc7 99.7%)"></i>
<i style="top:63px;height:1px;background:linear-gradient(90deg,#8eb7df 0.3%,#d4e0ee 2.5%,#ebeef3 4.2%,#d6e1ee 4.8%,#8eb7df 5.9%,#70a5d8 6.5%,#2e7cc7 8.2%,#1c71c2 8.8%,#1f72bc 9.3%,#5490a7 11.0%,#7ca798 12.7%,#9fb38c 15.0%,#bebd81 18.4%,#d1c27a 22.9%,#d5c478 29.7%,#bdbc81 45.5%,#acb787 52.3%,#7fa897 65.3%,#2676b9 81.1%,#156dc0 85.6%,#2e7cc7 96.9%,#317ec8 99.7%)"></i>
<i style="top:64px;height:1px;background:linear-gradient(90deg,#9fc1e2 0.3%,#d3dfee 2.0%,#ebeff3 3.7%,#d5e1ee 4.2%,#8cb6de 5.4%,#6ea4d7 5.9%,#2a7ac6 7.6%,#176ec1 8.2%,#2576b9 8.8%,#5b94a5 10.5%,#83aa96 12.1%,#acb787 15.0%,#c7bf7d 18.4%,#d6c478 22.3%,#d4c379 33.6%,#b1b885 51.1%,#81a996 64.7%,#2777b9 80.5%,#156dc0 85.0%,#2e7cc7 96.3%,#327fc8 99.7%)"></i>
<i style="top:65px;height:1px;background:linear-gradient(90deg,#b0cbe6 0.3%,#d2dfee 1.4%,#eceff3 3.1%,#d5e1ee 3.7%,#8ab4de 4.8%,#6ba2d7 5.4%,#2677c5 7.1%,#166dbf 7.6%,#518fa9 9.3%,#7ea897 11.0%,#a4b58a 13.3%,#c2be7f 16.1%,#d5c478 19.5%,#d6c176 29.1%,#d3c379 35.3%,#afb886 51.7%,#83aa96 64.1%,#2877b9 79.9%,#156cc0 84.5%,#2e7cc7 95.2%,#3480c8 99.7%)"></i>
<i style="top:66px;height:1px;background:linear-gradient(90deg,#c0d5ea 0.3%,#d2dfed 0.8%,#eceff3 2.5%,#d5e1ee 3.1%,#87b3dd 4.2%,#68a0d6 4.8%,#2174c3 6.5%,#1c70bd 7.1%,#5893a6 8.8%,#85ab95 10.5%,#abb787 12.7%,#c8c07d 15.5%,#d6c478 17.8%,#d7bd75 25.1%,#d4c379 35.9%,#afb886 51.7%,#82aa96 64.1%,#2877b8 79.4%,#146cc0 83.9%,#2e7cc7 94.6%,#3580c8 99.7%)"></i>
<i style="top:67px;height:1px;background:linear-gradient(90deg,#d1deed 0.3%,#eceff3 2.0%,#d5e1ee 2.5%,#84b1dd 3.7%,#4b8ece 4.8%,#1d71c2 5.9%,#2274bb 6.5%,#6097a3 8.2%,#7fa997 9.3%,#aab688 11.6%,#cac07c 14.4%,#d6c478 16.1%,#d7bb74 22.3%,#d4c379 36.4%,#afb886 51.7%,#83aa96 63.6%,#2676b9 79.4%,#146cc0 83.3%,#2f7dc7 94.1%,#3681c9 99.7%)"></i>
<i style="top:68px;height:1px;background:linear-gradient(90deg,#dbe4ef 0.3%,#eceff3 1.4%,#d5e0ee 2.0%,#81b0dc 3.1%,#478ccd 4.2%,#186ec1 5.4%,#2878b8 5.9%,#679ba0 7.6%,#87ab94 8.8%,#b1b885 11.0%,#d1c27a 13.8%,#d6c277 15.0%,#d7b872 21.2%,#d6c277 34.7%,#cac07c 41.5%,#adb787 52.3%,#85ab95 63.0%,#2776b9 78.8%,#146cc0 82.8%,#307dc7 94.1%,#3782c9 99.7%)"></i>
<i style="top:69px;height:1px;background:linear-gradient(90deg,#e3eaf1 0.3%,#ebeff3 0.8%,#d4e0ee 1.4%,#7eaedb 2.5%,#4389cc 3.7%,#156dbf 4.8%,#5c95a5 6.5%,#80a997 7.6%,#a5b589 9.3%,#c7bf7d 11.6%,#d6c378 13.3%,#d7b672 18.4%,#d7b973 28.0%,#d4c379 37.6%,#b0b886 51.7%,#87ab94 62.4%,#2475ba 78.8%,#146cc0 82.2%,#327ec8 94.1%,#3882c9 99.7%)"></i>
<i style="top:70px;height:1px;background:linear-gradient(90deg,#ebeff3 0.3%,#d4e0ee 0.8%,#7bacdb 2.0%,#3f86cb 3.1%,#2576c4 3.7%,#1c71bd 4.2%,#4e8daa 5.4%,#88ac94 7.1%,#adb787 8.8%,#cec27b 11.0%,#d6c277 12.1%,#d8b470 17.2%,#d7b671 26.3%,#d4c379 38.1%,#aeb786 52.3%,#88ac94 61.9%,#2575ba 78.2%,#156cc0 81.6%,#327fc8 93.5%,#3983ca 99.7%)"></i>
<i style="top:71px;height:1px;background:linear-gradient(90deg,#d3dfee 0.3%,#78aada 1.4%,#3a84ca 2.5%,#2073c3 3.1%,#2375ba 3.7%,#5691a7 4.8%,#7fa997 5.9%,#aab688 7.6%,#cfc27a 9.9%,#d6c478 10.5%,#d8b370 15.0%,#d8b06f 22.3%,#d5c478 38.1%,#aeb886 52.3%,#87ac94 61.9%,#2576b9 77.7%,#156dc0 81.1%,#337fc8 93.5%,#3b84ca 99.7%)"></i>
<i style="top:72px;height:1px;background:linear-gradient(90deg,#a1c2e3 0.3%,#74a8d9 0.8%,#3581c9 2.0%,#1a70c2 2.5%,#2b79b7 3.1%,#5e96a4 4.2%,#88ac94 5.4%,#b2b985 7.1%,#cfc27a 8.8%,#d6c378 9.3%,#d8b26f 13.3%,#d8ad6d 20.1%,#d4c379 38.7%,#aeb886 52.3%,#89ac94 61.3%,#2676b9 77.1%,#156dc0 81.1%,#327ec8 91.8%,#3c85ca 99.7%)"></i>
<i style="top:73px;height:1px;background:linear-gradient(90deg,#71a6d8 0.3%,#307ec7 1.4%,#156cc0 2.0%,#679ba0 3.7%,#7da798 4.2%,#adb786 5.9%,#cfc27b 7.6%,#d6c378 8.2%,#d8af6e 12.1%,#d9a96b 18.4%,#d6c076 35.9%,#d2c37a 39.8%,#aeb886 52.3%,#8aad93 60.7%,#4c8cab 70.3%,#186ebe 79.4%,#176ec1 81.1%,#337fc8 91.8%,#3d85cb 99.7%)"></i>
<i style="top:74px;height:1px;background:linear-gradient(90deg,#4b8ece 0.3%,#2b7ac6 0.8%,#1b70be 1.4%,#5792a7 2.5%,#86ab95 3.7%,#b6ba83 5.4%,#d6c378 7.1%,#d8af6e 10.5%,#d9a66a 15.5%,#d8b06e 26.3%,#d4c379 39.3%,#aeb886 52.3%,#8cad93 60.2%,#689ba0 65.8%,#2173bb 77.1%,#156cc0 79.9%,#337fc8 90.7%,#3e86cb 99.7%)"></i>
<i style="top:75px;height:1px;background:linear-gradient(90deg,#2677c5 0.3%,#2274bb 0.8%,#6097a3 2.0%,#79a599 2.5%,#a1b48b 3.7%,#cbc17c 5.4%,#d6c478 5.9%,#d8ad6d 9.3%,#daa268 14.4%,#d9ac6d 24.6%,#d4c379 39.3%,#aeb886 52.3%,#8aad93 60.2%,#2475ba 76.0%,#156cc0 79.4%,#337fc8 90.1%,#3f87cb 99.7%)"></i>
<i style="top:76px;height:1px;background:linear-gradient(90deg,#2b79b7 0.3%,#699ca0 1.4%,#83aa96 2.0%,#babb82 3.7%,#d5c478 4.8%,#d9ab6c 8.2%,#da9f67 12.7%,#d9a569 21.2%,#d3c379 39.8%,#acb787 52.8%,#85ab95 60.7%,#2576ba 75.4%,#146cc0 78.8%,#3380c8 89.5%,#4188cc 99.7%)"></i>
<i style="top:77px;height:1px;background:linear-gradient(90deg,#5591a7 0.3%,#73a19c 0.8%,#8cad92 1.4%,#c3be7f 3.1%,#d2c37a 3.7%,#d7ba73 4.8%,#d9a469 8.2%,#da9b65 13.3%,#d9a86b 24.0%,#d4c379 39.8%,#acb787 52.8%,#83aa96 60.7%,#2576b9 74.9%,#146cc0 78.2%,#3480c8 89.0%,#4288cc 99.7%)"></i>
<i style="top:78px;height:1px;background:linear-gradient(90deg,#7da798 0.3%,#abb788 1.4%,#cdc17b 2.5%,#d6c177 3.1%,#d9a76a 5.9%,#db9964 9.9%,#da9a64 16.7%,#d4c379 39.8%,#acb787 52.8%,#81aa96 60.7%,#2676b9 74.3%,#146cc0 77.7%,#3480c8 88.4%,#4389cc 99.7%)"></i>
<i style="top:79px;height:1px;background:linear-gradient(90deg,#9fb38c 0.3%,#c7bf7d 1.4%,#d6c378 2.0%,#d9aa6c 4.2%,#db9863 7.6%,#db9461 13.3%,#d8b571 31.4%,#d4c379 39.8%,#aeb886 52.3%,#7fa897 60.7%,#2676b9 73.7%,#146cc0 77.1%,#3580c9 87.9%,#448acd 99.7%)"></i>
<i style="top:80px;height:1px;background:linear-gradient(90deg,#bfbd80 0.3%,#d2c37a 0.8%,#d7b671 2.0%,#da9d65 4.8%,#db9060 8.8%,#db9562 16.1%,#d5c479 39.8%,#adb787 52.3%,#7ca798 60.7%,#2475ba 73.7%,#146cc0 76.6%,#3681c9 87.9%,#468bcd 99.7%)"></i>
<i style="top:81px;height:1px;background:linear-gradient(90deg,#d6c076 0.3%,#d9a469 2.5%,#db9260 5.4%,#dc8b5d 9.9%,#da9b65 20.1%,#d5c478 39.8%,#afb886 51.7%,#79a599 60.7%,#2475ba 73.2%,#146cc0 76.0%,#3782c9 87.3%,#478bcd 99.2%,#478ccd 99.7%)"></i>
<i style="top:82px;height:1px;background:linear-gradient(90deg,#d8b16f 0.3%,#db9964 2.5%,#dc8a5c 5.9%,#dc895c 11.6%,#d5c478 39.8%,#b1b985 51.1%,#7ba699 60.2%,#2575ba 72.6%,#156cc0 75.4%,#3983ca 87.3%,#488cce 99.2%,#488cce 99.7%)"></i>
<i style="top:83px;height:1px;background:linear-gradient(90deg,#d9a469 0.3%,#dc8c5e 3.1%,#dd8359 7.1%,#dc8c5d 14.4%,#d5c478 39.8%,#b1b885 51.1%,#7ca798 59.6%,#2576ba 72.0%,#156cc0 74.9%,#3983ca 86.7%,#498dce 98.6%,#4a8dce 99.7%)"></i>
<i style="top:84px;height:1px;background:linear-gradient(90deg,#db9763 0.3%,#dd845a 3.1%,#dd7e57 7.6%,#db9260 17.8%,#d6c378 39.3%,#b3b985 50.6%,#79a599 59.6%,#2576b9 71.5%,#156cc0 74.3%,#3a83ca 86.2%,#4a8dce 98.0%,#4b8ece 99.7%)"></i>
<i style="top:85px;height:1px;background:linear-gradient(90deg,#dc8b5d 0.3%,#de7d56 3.1%,#de7a55 7.6%,#da9b65 21.8%,#d5c478 39.8%,#b1b985 50.6%,#7aa699 59.0%,#2676b9 70.9%,#156dc0 73.7%,#3b84ca 86.2%,#4b8ece 98.0%,#4c8fcf 99.7%)"></i>
<i style="top:86px;height:1px;background:linear-gradient(90deg,#dd8158 0.3%,#dd7552 3.7%,#de7a55 9.3%,#d7bf76 37.0%,#d2c37a 41.0%,#b0b886 50.6%,#7ba699 58.5%,#2676b9 70.3%,#156dc0 73.2%,#3c85ca 85.6%,#4c8fcf 97.5%,#4d90cf 99.7%)"></i>
<i style="top:87px;height:1px;background:linear-gradient(90deg,#de7754 0.3%,#dc6f4f 3.7%,#de7a55 10.5%,#d7ba73 34.7%,#d4c379 40.4%,#b2b985 50.0%,#78a49a 58.5%,#2374ba 70.3%,#156dc0 72.6%,#3d85cb 85.0%,#4d90cf 96.9%,#4f90cf 99.7%)"></i>
<i style="top:88px;height:1px;background:linear-gradient(90deg,#dc6e4f 0.3%,#db6a4d 4.2%,#dd865a 15.0%,#d7ba73 34.7%,#d4c379 40.4%,#b0b886 50.0%,#79a599 57.9%,#2676b9 69.2%,#156dbf 72.0%,#3d86cb 84.5%,#4f90cf 96.3%,#5091d0 99.7%)"></i>
<i style="top:89px;height:1px;background:linear-gradient(90deg,#da664a 0.3%,#da674b 4.8%,#dd855a 15.0%,#d7b973 34.2%,#d4c379 40.4%,#b1b885 49.4%,#7aa599 57.3%,#2777b9 68.6%,#156dbf 71.5%,#3e86cb 83.9%,#5091cf 95.8%,#5192d0 99.7%)"></i>
<i style="top:90px;height:1px;background:linear-gradient(90deg,#d85f47 0.3%,#d9654a 5.4%,#dd845a 15.0%,#d7b772 33.6%,#d4c379 40.4%,#afb886 49.4%,#7ba699 56.8%,#2777b9 68.1%,#156dbf 70.9%,#3e86cb 83.3%,#5192d0 95.2%,#5393d0 99.7%)"></i>
<i style="top:91px;height:1px;background:linear-gradient(90deg,#d75843 0.3%,#da664a 6.5%,#dd8359 15.0%,#d7b671 33.1%,#d4c379 40.4%,#acb787 49.4%,#7ca698 56.2%,#2777b9 67.5%,#156dc0 70.3%,#3e86cb 82.2%,#5192d0 93.5%,#5494d1 99.7%)"></i>
<i style="top:92px;height:1px;background:linear-gradient(90deg,#d55340 0.3%,#db6a4c 8.2%,#dd865b 16.1%,#d7b772 33.6%,#d4c379 40.4%,#a9b688 49.4%,#78a49a 56.2%,#2375ba 67.5%,#156dc0 69.8%,#3e86cb 81.6%,#5292d0 92.9%,#5595d1 99.7%)"></i>
<i style="top:93px;height:1px;background:linear-gradient(90deg,#d44e3e 0.3%,#de7a55 12.7%,#d8ae6e 29.7%,#d3c379 40.4%,#a3b48a 50.0%,#78a59a 55.6%,#2375ba 66.9%,#156dc0 69.2%,#3d86cb 80.5%,#5293d0 91.8%,#5795d1 99.7%)"></i>
<i style="top:94px;height:1px;background:linear-gradient(90deg,#d34a3c 0.3%,#dd7f57 14.4%,#d8b16f 30.8%,#d5c478 39.8%,#a0b38b 50.0%,#79a59a 55.1%,#2777b9 65.8%,#156cc0 68.6%,#3e86cb 79.9%,#5393d0 91.2%,#5896d2 99.7%)"></i>
<i style="top:95px;height:1px;background:linear-gradient(90deg,#d2463a 0.3%,#dd7f57 14.4%,#d8b16f 30.8%,#d4c379 39.8%,#9cb28d 50.0%,#79a599 54.5%,#2777b9 65.3%,#156cc0 68.1%,#3d85cb 78.8%,#5493d1 90.1%,#5a97d2 99.7%)"></i>
<i style="top:96px;height:1px;background:linear-gradient(90deg,#d24338 0.3%,#dd7f57 14.4%,#d8af6e 30.2%,#d5c478 39.3%,#99b18e 50.0%,#75a39b 54.5%,#2374ba 65.3%,#146cc0 67.5%,#3c85ca 77.7%,#5494d1 89.0%,#5b98d2 99.7%)"></i>
<i style="top:97px;height:1px;background:linear-gradient(90deg,#d14137 0.3%,#dd7e57 14.4%,#d8af6e 30.2%,#d3c379 39.3%,#90ae91 50.6%,#6c9d9f 55.1%,#1f72bc 65.3%,#146cc0 66.9%,#3d85cb 77.1%,#5594d1 88.4%,#5c99d3 99.7%)"></i>
<i style="top:98px;height:1px;background:linear-gradient(90deg,#d03f36 0.3%,#dd7e57 14.4%,#d8af6e 30.2%,#d4c379 38.7%,#8cad92 50.6%,#2a78b8 63.0%,#146cc0 66.4%,#3d86cb 76.6%,#5695d1 87.9%,#5e9ad3 99.7%)"></i>
<i style="top:99px;height:1px;background:linear-gradient(90deg,#d03d35 0.3%,#dd7e57 14.4%,#d8ae6d 29.7%,#d5c478 38.1%,#88ac94 50.6%,#2a78b8 62.4%,#156cc0 65.8%,#3e86cb 76.0%,#5796d1 87.3%,#5f9bd4 99.7%)"></i>
<i style="top:100px;height:1px;background:linear-gradient(90deg,#d03c34 0.3%,#de7c56 13.8%,#d8ac6d 29.1%,#d5c478 37.6%,#84aa95 50.6%,#2978b8 61.9%,#156dc0 65.3%,#3f87cb 75.4%,#5896d2 86.7%,#619bd4 99.7%)"></i>
<i style="top:101px;height:1px;background:linear-gradient(90deg,#d03b34 0.3%,#de7a55 13.3%,#d8ad6d 29.1%,#d6c478 37.0%,#7fa897 50.6%,#2978b8 61.3%,#156dbf 64.1%,#458acd 76.6%,#5c98d3 87.9%,#629cd4 99.7%)"></i>
<i style="top:102px;height:1px;background:linear-gradient(90deg,#cf3a33 0.3%,#de7955 13.3%,#d7b671 31.9%,#d6c478 36.4%,#7ea897 50.0%,#2877b8 60.7%,#156cc0 63.6%,#448acd 75.4%,#5c99d3 86.7%,#639dd5 99.7%)"></i>
<i style="top:103px;height:1px;background:linear-gradient(90deg,#cf3a33 0.3%,#de7754 12.7%,#d6c478 35.9%,#79a599 50.0%,#2375ba 60.7%,#146cc0 63.0%,#4087cb 73.2%,#5b98d2 84.5%,#659ed5 97.5%,#659ed5 99.7%)"></i>
<i style="top:104px;height:1px;background:linear-gradient(90deg,#cf3933 0.3%,#de7754 12.7%,#d5c478 35.3%,#7ca798 48.9%,#1e72bc 60.7%,#156cc0 62.4%,#4088cc 72.6%,#5b98d2 83.3%,#669fd5 96.3%,#669fd5 99.7%)"></i>
<i style="top:105px;height:1px;background:linear-gradient(90deg,#cf3933 0.3%,#de7754 12.7%,#d5c478 34.7%,#7aa699 48.3%,#1a6fbe 60.7%,#156dc0 61.9%,#4188cc 72.0%,#5c99d3 82.8%,#68a0d6 95.8%,#68a0d6 99.7%)"></i>
<i style="top:106px;height:1px;background:linear-gradient(90deg,#cf3933 0.3%,#dd7552 12.1%,#d4c379 34.2%,#79a59a 47.7%,#156cc0 60.7%,#468bcd 72.6%,#609bd4 83.9%,#6aa1d6 96.9%,#69a1d6 99.7%)"></i>
<i style="top:107px;height:1px;background:linear-gradient(90deg,#cf3933 0.3%,#de7754 12.7%,#d6c378 33.1%,#7ba699 46.6%,#176ebf 59.6%,#146cc0 60.2%,#4389cc 70.9%,#5f9ad3 81.6%,#6ba2d7 94.6%,#6ba2d7 99.7%)"></i>
<i style="top:108px;height:1px;background:linear-gradient(90deg,#cf3933 0.3%,#de7a55 13.3%,#d6c478 32.5%,#79a59a 46.0%,#166dbf 59.0%,#186fc1 60.2%,#468bcd 70.9%,#619cd4 81.6%,#6da3d7 94.6%,#6ca3d7 99.7%)"></i>
<i style="top:109px;height:1px;background:linear-gradient(90deg,#cf3933 0.3%,#dd7e57 13.8%,#d4c479 31.9%,#7ba699 44.9%,#156cc0 58.5%,#478ccd 70.3%,#629cd4 81.1%,#6ea4d7 94.1%,#6ea4d7 99.7%)"></i>
<i style="top:110px;height:1px;background:linear-gradient(90deg,#cf3933 0.3%,#dd7d56 13.3%,#d6c478 30.8%,#78a59a 44.4%,#146cc0 57.9%,#448acd 68.6%,#619cd4 79.4%,#6fa5d8 92.4%,#6fa5d8 99.7%)"></i>
<i style="top:111px;height:1px;background:linear-gradient(90deg,#cf3a33 0.3%,#dd7f57 13.3%,#d5c478 30.2%,#7aa599 43.2%,#166dbf 56.8%,#4d90cf 70.3%,#67a0d6 81.6%,#72a6d8 95.2%,#71a5d8 99.7%)"></i>
<i style="top:112px;height:1px;background:linear-gradient(90deg,#d03b34 0.3%,#dd7f57 12.7%,#d6c478 29.1%,#7ba699 42.1%,#146cc0 56.2%,#458acd 66.9%,#639dd5 77.7%,#72a6d8 90.7%,#72a6d8 99.7%)"></i>
<i style="top:113px;height:1px;background:linear-gradient(90deg,#d03d35 0.3%,#dd7f57 12.1%,#d4c379 28.5%,#78a59a 41.5%,#166dbf 55.1%,#1c71c2 56.8%,#4a8ece 67.5%,#669fd5 78.2%,#74a8d9 91.2%,#74a7d9 99.7%)"></i>
<i style="top:114px;height:1px;background:linear-gradient(90deg,#d03f36 0.3%,#dd7f57 11.6%,#d6c478 27.4%,#79a599 40.4%,#146cc0 54.5%,#458bcd 65.3%,#669fd5 76.6%,#75a8d9 89.5%,#75a8d9 99.7%)"></i>
<i style="top:115px;height:1px;background:linear-gradient(90deg,#d14137 0.3%,#dd7d56 10.5%,#d6c378 26.3%,#7aa699 39.3%,#166dbf 53.4%,#2274c4 56.2%,#4f91cf 66.9%,#6ba2d7 78.2%,#78aada 91.8%,#77a9da 99.7%)"></i>
<i style="top:116px;height:1px;background:linear-gradient(90deg,#d24539 0.3%,#dd7e57 9.9%,#d6c377 25.1%,#7ba699 38.1%,#146cc0 52.8%,#468bcd 63.6%,#68a0d6 74.9%,#78aada 87.9%,#78aada 99.7%)"></i>
<i style="top:117px;height:1px;background:linear-gradient(90deg,#d3483b 0.3%,#dd7f57 9.3%,#d6c277 24.0%,#7ba699 37.0%,#156dc0 51.7%,#4c8fcf 64.1%,#6ba2d7 75.4%,#7bacdb 89.5%,#7aabda 99.7%)"></i>
<i style="top:118px;height:1px;background:linear-gradient(90deg,#d44c3d 0.3%,#dd7d56 8.2%,#d6c277 22.9%,#c4be7e 25.7%,#77a49a 36.4%,#166dbf 50.6%,#186fc1 51.7%,#4a8dce 62.4%,#6ca2d7 74.3%,#7eaddb 89.0%,#7cacdb 99.7%)"></i>
<i style="top:119px;height:1px;background:linear-gradient(90deg,#d5513f 0.3%,#dd7f57 7.6%,#d6c277 21.8%,#c8c07d 24.0%,#7ba699 34.7%,#1e72bc 48.3%,#146cc0 50.0%,#498dce 61.3%,#6ca3d7 73.2%,#7faedc 87.9%,#7eaedb 99.7%)"></i>
<i style="top:120px;height:1px;background:linear-gradient(90deg,#d65542 0.3%,#dd8058 7.1%,#d6c277 20.6%,#ccc17b 22.3%,#7ba699 33.6%,#1e71bc 47.2%,#146cc0 48.9%,#4b8ece 60.7%,#6ea4d7 72.6%,#81afdc 86.7%,#80afdc 99.7%)"></i>
<i style="top:121px;height:1px;background:linear-gradient(90deg,#d75b44 0.3%,#dd7f57 5.9%,#d6c277 19.5%,#c8c07d 21.8%,#7aa699 32.5%,#1d71bc 46.0%,#156cc0 47.7%,#4f91cf 60.7%,#70a5d8 72.6%,#84b1dd 86.7%,#82b0dc 99.7%)"></i>
<i style="top:122px;height:1px;background:linear-gradient(90deg,#d86047 0.3%,#dd8158 5.4%,#d6c277 18.4%,#79a599 31.4%,#1d71bd 44.9%,#156dc0 46.6%,#5393d0 60.7%,#73a7d9 72.6%,#86b2dd 86.2%,#84b1dd 99.7%)"></i>
<i style="top:123px;height:1px;background:linear-gradient(90deg,#da664a 0.3%,#dd8359 4.8%,#d6c377 17.2%,#78a49a 30.2%,#1c70bd 43.8%,#156dc0 44.9%,#5997d2 61.3%,#78aada 73.7%,#88b3de 86.2%,#86b2dd 99.7%)"></i>
<i style="top:124px;height:1px;background:linear-gradient(90deg,#db6c4e 0.3%,#dc895c 4.8%,#d6c378 16.1%,#7ba699 28.5%,#1e72bc 42.1%,#146cc0 43.8%,#5997d2 60.2%,#7aabdb 73.2%,#8ab5de 85.6%,#88b4de 99.2%,#88b3dd 99.7%)"></i>
<i style="top:125px;height:1px;background:linear-gradient(90deg,#dd7251 0.3%,#d8b16f 11.0%,#d6c478 15.0%,#79a59a 27.4%,#1d71bd 41.0%,#156dc0 42.7%,#5b98d3 59.6%,#7faedb 73.7%,#8db7df 86.7%,#8ab4de 99.7%)"></i>
<i style="top:126px;height:1px;background:linear-gradient(90deg,#de7955 0.3%,#d7b772 11.0%,#d5c478 13.8%,#77a49a 26.3%,#1b70bd 39.8%,#146cc0 41.0%,#5f9bd4 59.6%,#84b1dd 74.9%,#90b8df 87.9%,#8cb6de 99.7%)"></i>
<i style="top:127px;height:1px;background:linear-gradient(90deg,#dd8058 0.3%,#d7bd75 11.0%,#d4c379 12.7%,#78a59a 24.6%,#2073bb 37.6%,#156dc0 39.8%,#609bd4 58.5%,#87b3dd 74.3%,#92bae0 87.9%,#8eb7df 99.7%)"></i>
<i style="top:128px;height:1px;background:linear-gradient(90deg,#dc865b 0.3%,#d6c378 11.0%,#7aa699 22.9%,#2173bb 35.9%,#146cc0 38.1%,#5e9ad3 56.8%,#87b3dd 72.6%,#94bbe0 85.6%,#90b8df 99.7%)"></i>
<i style="top:129px;height:1px;background:linear-gradient(90deg,#dc8d5e 0.3%,#d5c478 9.9%,#88ac94 19.5%,#2d7ab7 32.5%,#156cc0 36.4%,#639dd4 56.8%,#8bb5de 73.2%,#97bce1 86.7%,#92b9e0 99.7%)"></i>
<i style="top:130px;height:1px;background:linear-gradient(90deg,#db9562 0.3%,#d6c277 8.2%,#78a59a 20.1%,#2676b9 31.9%,#156dbf 34.7%,#67a0d6 56.8%,#8eb7df 72.6%,#99bee1 86.2%,#94bae0 99.7%)"></i>
<i style="top:131px;height:1px;background:linear-gradient(90deg,#da9c65 0.3%,#d6c378 7.1%,#82aa96 17.2%,#317db5 28.5%,#156dc0 33.6%,#4f91cf 48.3%,#7faedc 64.1%,#96bce1 76.6%,#9cbfe2 90.7%,#96bce0 99.7%)"></i>
<i style="top:132px;height:1px;background:linear-gradient(90deg,#d9a369 0.3%,#d5c478 5.9%,#8cad92 14.4%,#357fb3 26.3%,#156dc0 31.9%,#4f91cf 46.6%,#85b2dd 64.7%,#9abee1 77.7%,#9dc0e2 92.4%,#98bde1 99.7%)"></i>
<i style="top:133px;height:1px;background:linear-gradient(90deg,#d9ab6c 0.3%,#d3c379 4.8%,#89ac94 13.3%,#3981b2 24.0%,#166dbf 29.7%,#1d71c2 31.9%,#5795d1 47.2%,#8db6de 66.4%,#9ec1e2 79.4%,#9fc1e2 94.1%,#9abee1 99.7%)"></i>
<i style="top:134px;height:1px;background:linear-gradient(90deg,#d8b370 0.3%,#d6c378 3.1%,#8aac93 11.6%,#3981b2 22.3%,#156dbf 28.0%,#5997d2 46.0%,#8fb8df 65.8%,#a1c2e3 79.4%,#a1c2e3 94.6%,#9cbfe2 99.7%)"></i>
<i style="top:135px;height:1px;background:linear-gradient(90deg,#d7ba73 0.3%,#d5c478 2.0%,#90ae91 9.3%,#6a9d9f 13.8%,#2274bb 24.0%,#156cc0 26.3%,#5494d1 42.7%,#91b9df 64.7%,#a3c3e3 78.2%,#a4c4e3 93.5%,#9ec0e2 99.7%)"></i>
<i style="top:136px;height:1px;background:linear-gradient(90deg,#d6c277 0.3%,#a5b589 5.4%,#74a29b 11.0%,#307cb5 20.1%,#146cc0 24.6%,#4f90cf 39.3%,#93bae0 63.6%,#a6c5e4 77.7%,#a6c5e4 92.9%,#a0c2e3 99.7%)"></i>
<i style="top:137px;height:1px;background:linear-gradient(90deg,#cbc17c 0.3%,#84ab95 7.6%,#3f84b0 16.1%,#166dbf 22.3%,#1a70c2 24.0%,#5393d0 38.7%,#96bbe0 63.0%,#a8c6e5 77.1%,#a8c6e5 92.9%,#a2c3e3 99.7%)"></i>
<i style="top:138px;height:1px;background:linear-gradient(90deg,#bcbc81 0.3%,#76a39b 7.6%,#327db4 16.1%,#156cc0 20.6%,#5393d0 36.4%,#98bde1 61.9%,#abc8e5 76.0%,#abc8e5 91.8%,#a4c4e4 99.7%)"></i>
<i style="top:139px;height:1px;background:linear-gradient(90deg,#aeb886 0.3%,#77a49a 5.9%,#357fb3 13.8%,#156cc0 18.9%,#4c8fcf 32.5%,#91b9df 56.8%,#a9c7e5 70.9%,#b0cbe6 86.2%,#a6c5e4 99.7%)"></i>
<i style="top:140px;height:1px;background:linear-gradient(90deg,#9fb38c 0.3%,#73a19c 4.8%,#307cb5 12.7%,#156dbf 16.7%,#5595d1 33.1%,#9dc0e2 60.2%,#b0cbe6 75.4%,#b0cbe6 91.8%,#a9c6e5 99.7%)"></i>
<i style="top:141px;height:1px;background:linear-gradient(90deg,#91af91 0.3%,#5e96a4 5.4%,#1f72bc 13.3%,#146cc0 15.0%,#4a8dce 27.4%,#7daddb 44.9%,#a4c4e4 61.9%,#b4cde7 77.1%,#b1cbe6 93.5%,#abc8e5 99.7%)"></i>
<i style="top:142px;height:1px;background:linear-gradient(90deg,#82aa96 0.3%,#4185af 7.1%,#166dbf 12.7%,#1b70c2 14.4%,#4f91cf 26.8%,#8ab5de 47.7%,#abc8e5 63.6%,#b7cfe8 79.4%,#b1cce6 95.8%,#adc9e5 99.7%)"></i>
<i style="top:143px;height:1px;background:linear-gradient(90deg,#72a19c 0.3%,#327db4 7.1%,#156cc0 11.0%,#4b8ece 23.4%,#81afdc 41.5%,#aac8e5 60.7%,#b9d0e8 76.6%,#b5cee7 93.5%,#afcae6 99.7%)"></i>
<i style="top:144px;height:1px;background:linear-gradient(90deg,#6298a2 0.3%,#2475ba 7.1%,#156cc0 9.3%,#478ccd 20.1%,#75a8d9 34.7%,#a4c4e4 54.5%,#b9d0e8 70.3%,#bcd2e9 87.3%,#b1cce6 99.7%)"></i>
<i style="top:145px;height:1px;background:linear-gradient(90deg,#528fa9 0.3%,#166dbf 7.1%,#1c71c2 8.8%,#4e90cf 19.5%,#82b0dc 37.0%,#adc9e6 57.3%,#bed3e9 74.3%,#bbd2e9 91.8%,#b3cde7 99.7%)"></i>
<i style="top:146px;height:1px;background:linear-gradient(90deg,#4286af 0.3%,#156dc0 5.4%,#4e90cf 17.2%,#80afdc 33.6%,#a7c6e4 51.1%,#bdd3e9 67.5%,#c1d5ea 85.0%,#b6cee7 99.7%)"></i>
<i style="top:147px;height:1px;background:linear-gradient(90deg,#327db5 0.3%,#146cc0 3.7%,#478bcd 13.3%,#71a6d8 25.7%,#9ec0e2 43.2%,#bdd3e9 63.6%,#c5d7eb 81.1%,#b9d0e8 98.6%,#b8cfe8 99.7%)"></i>
<i style="top:148px;height:1px;background:linear-gradient(90deg,#2274bb 0.3%,#146cc0 2.0%,#468bcd 11.0%,#71a6d8 22.9%,#9ec1e2 40.4%,#bfd4e9 61.9%,#c7d9eb 79.9%,#bcd2e9 98.0%,#bad1e8 99.7%)"></i>
<i style="top:149px;height:1px;background:linear-gradient(90deg,#156dc0 0.3%,#468bcd 8.8%,#70a5d8 20.1%,#9ec0e2 37.0%,#c1d5ea 59.6%,#cadaec 78.2%,#c0d4ea 96.3%,#bcd2e9 99.7%)"></i>
<i style="top:150px;height:1px;background:linear-gradient(90deg,#2174c3 0.3%,#5091cf 8.8%,#7cacdb 21.2%,#a2c3e3 35.9%,#c3d6ea 58.5%,#cddcec 77.7%,#c2d6ea 96.3%,#bed3e9 99.7%)"></i>
<i style="top:151px;height:1px;background:linear-gradient(90deg,#2d7bc6 0.3%,#5997d2 8.8%,#90b8df 25.1%,#b3cde7 42.1%,#ccdbec 64.7%,#cedced 83.9%,#c1d5ea 99.7%)"></i>
<i style="top:152px;height:1px;background:linear-gradient(90deg,#3882c9 0.3%,#659ed5 9.3%,#98bde1 25.1%,#b8d0e8 42.1%,#cfdded 65.3%,#d0dded 85.0%,#c3d6ea 99.7%)"></i>
<i style="top:153px;height:1px;background:linear-gradient(90deg,#448acc 0.3%,#6ea4d7 9.3%,#9cbfe2 23.4%,#bbd2e9 40.4%,#d2dfee 64.7%,#d1dfed 86.2%,#c5d7eb 99.7%)"></i>
<i style="top:154px;height:1px;background:linear-gradient(90deg,#4f90cf 0.3%,#7bacdb 10.5%,#a1c2e3 22.3%,#bfd4e9 39.3%,#d4e0ee 63.6%,#d2dfee 89.0%,#c7d9eb 99.7%)"></i>
<i style="top:155px;height:1px;background:linear-gradient(90deg,#5a97d2 0.3%,#91b9e0 13.8%,#b3cde7 27.4%,#ccdcec 47.2%,#d6e1ee 65.3%,#d2dfee 91.8%,#cadaec 99.7%)"></i>
<i style="top:156px;height:1px;background:linear-gradient(90deg,#649ed5 0.3%,#97bce1 12.7%,#b8cfe8 26.3%,#d0deed 46.6%,#d8e3ef 72.6%,#d1deed 95.8%,#ccdbec 99.7%)"></i>
<i style="top:157px;height:1px;background:linear-gradient(90deg,#6fa4d8 0.3%,#9dbfe2 11.6%,#bcd2e9 25.1%,#d4e0ee 45.5%,#d9e3ef 79.4%,#d0deed 98.6%,#cedded 99.7%)"></i>
<i style="top:158px;height:1px;background:linear-gradient(90deg,#79aada 0.3%,#9fc1e2 9.3%,#bed3e9 22.3%,#d4e0ee 41.0%,#dae4ef 77.7%,#d1deed 99.7%)"></i>
<i style="top:159px;height:1px;background:linear-gradient(90deg,#85b1dd 0.3%,#a9c7e5 9.9%,#c6d8eb 23.4%,#d6e1ee 39.3%,#dce5f0 77.7%,#d3dfee 99.7%)"></i>
<i style="top:160px;height:1px;background:linear-gradient(90deg,#90b8df 0.3%,#b4cde7 10.5%,#cfdded 25.1%,#d9e3ef 42.1%,#dce5f0 81.1%,#d5e0ee 99.7%)"></i>
<i style="top:161px;height:1px;background:linear-gradient(90deg,#9bbfe2 0.3%,#bcd2e9 10.5%,#d4e0ee 25.1%,#dfe7f0 65.3%,#d7e2ef 98.0%,#d6e1ee 99.7%)"></i>
<i style="top:162px;height:1px;background:linear-gradient(90deg,#a6c5e4 0.3%,#c5d7eb 11.0%,#d6e1ee 23.4%,#e0e7f0 64.7%,#d8e3ef 98.0%,#d7e2ef 99.7%)"></i>
<i style="top:163px;height:1px;background:linear-gradient(90deg,#b0cbe6 0.3%,#cddcec 11.6%,#d8e2ef 21.8%,#e1e8f1 63.6%,#dae3ef 98.0%,#d9e3ef 99.7%)"></i>
<i style="top:164px;height:1px;background:linear-gradient(90deg,#bad1e8 0.3%,#d4e0ee 11.6%,#e0e8f1 41.5%,#e0e7f0 86.7%,#dae4ef 99.7%)"></i>
<i style="top:165px;height:1px;background:linear-gradient(90deg,#c3d6ea 0.3%,#d6e1ee 9.9%,#e2e9f1 41.0%,#e0e8f1 87.9%,#dbe4ef 99.7%)"></i>
<i style="top:166px;height:1px;background:linear-gradient(90deg,#ccdbec 0.3%,#d8e2ef 8.2%,#e3eaf1 39.8%,#e1e8f1 88.4%,#dce5f0 99.7%)"></i>
<i style="top:167px;height:1px;background:linear-gradient(90deg,#d4e0ee 0.3%,#e2e9f1 23.4%,#e4eaf1 79.9%,#dee6f0 99.7%)"></i>
<i style="top:168px;height:1px;background:linear-gradient(90deg,#d8e2ef 0.3%,#e4eaf1 26.3%,#e4eaf1 85.0%,#dfe7f0 99.7%)"></i>
<i style="top:169px;height:1px;background:linear-gradient(90deg,#dce5f0 0.3%,#e6ecf2 30.2%,#e4eaf1 89.5%,#e0e8f1 99.7%)"></i>
<i style="top:170px;height:1px;background:linear-gradient(90deg,#dfe7f0 0.3%,#e8edf2 35.9%,#e4eaf1 94.1%,#e2e9f1 99.7%)"></i>
<i style="top:171px;height:1px;background:linear-gradient(90deg,#e2e9f1 0.3%,#e9edf2 44.4%,#e4eaf1 98.6%,#e3eaf1 99.7%)"></i>
<i style="top:172px;height:1px;background:linear-gradient(90deg,#e5ebf2 0.3%,#eaeef3 60.7%,#e5eaf1 99.7%)"></i>
<i style="top:173px;height:1px;background:linear-gradient(90deg,#e7ecf2 0.3%,#eaedf2 82.8%,#e6ebf2 99.7%)"></i>
<i style="top:174px;height:1px;background:linear-gradient(90deg,#e9edf2 0.3%,#e8edf2 96.3%,#e8ecf2 99.7%)"></i>
<i style="top:175px;height:1px;background:linear-gradient(90deg,#ebeef3 0.3%,#e9edf2 99.7%)"></i>
<i style="top:176px;height:1px;background:linear-gradient(90deg,#eceff3 0.3%,#ebeef3 99.7%)"></i>
<i style="top:177px;height:1px;background:linear-gradient(90deg,#eceff3 0.3%,#eceff3 99.7%)"></i>
</div>
<div class="cb" style="left:224px;top:28.2px;width:10.5px;height:177.3px;background:linear-gradient(180deg,#ac1a34 0.0%,#ba2331 4.2%,#c72c2f 8.3%,#cf3a33 12.5%,#d44c3d 16.7%,#d85e46 20.8%,#dc7050 25.0%,#dd8259 29.2%,#db9361 33.3%,#d9a569 37.5%,#d7b671 41.7%,#d0c27a 45.8%,#b0b886 50.0%,#90ae91 54.2%,#6e9f9e 58.3%,#4b8bab 62.5%,#2777b9 66.7%,#2174c3 70.8%,#3e86cb 75.0%,#5a98d2 79.2%,#77a9da 83.3%,#99bee1 87.5%,#bcd2e9 91.7%,#dae4ef 95.8%,#eceff3 100.0%)"></div>
<div class="cb" style="left:495.8px;top:26.8px;width:10.5px;height:176.5px;background:linear-gradient(180deg,#ac1a34 0.0%,#ba2331 4.2%,#c72c2f 8.3%,#cf3a33 12.5%,#d44c3d 16.7%,#d85e46 20.8%,#dc7050 25.0%,#dd8259 29.2%,#db9361 33.3%,#d9a569 37.5%,#d7b671 41.7%,#d0c27a 45.8%,#b0b886 50.0%,#90ae91 54.2%,#6e9f9e 58.3%,#4b8bab 62.5%,#2777b9 66.7%,#2174c3 70.8%,#3e86cb 75.0%,#5a98d2 79.2%,#77a9da 83.3%,#99bee1 87.5%,#bcd2e9 91.7%,#dae4ef 95.8%,#eceff3 100.0%)"></div>
<svg class="ov" width="550" height="302" viewBox="0 0 550 302"><defs><clipPath id="ca"><rect x="39.8" y="206.5" width="179.4" height="62.8"/></clipPath><clipPath id="cb"><rect x="311.1" y="204.7" width="179.5" height="63"/></clipPath></defs><line x1="41.5" x2="218" y1="87.33" y2="87.33" stroke="#e8604a" stroke-width="1.7" stroke-dasharray="6.5 3" stroke-dashoffset="4.6"/>
<line x1="41.5" x2="218" y1="147.20" y2="147.20" stroke="#22a8e8" stroke-width="1.7" stroke-dasharray="6.5 3" stroke-dashoffset="4.6"/>
<line x1="41.5" x2="218" y1="203.20" y2="203.20" stroke="#f2d41e" stroke-width="1.8" stroke-dasharray="6.5 3" stroke-dashoffset="4.6"/>
<line x1="313" x2="489.5" y1="60.28" y2="60.28" stroke="#a878c0" stroke-width="1.55" stroke-dasharray="6.5 3" stroke-dashoffset="4.3"/>
<line x1="313" x2="489.5" y1="95.36" y2="95.36" stroke="#b07850" stroke-width="1.55" stroke-dasharray="6.5 3" stroke-dashoffset="4.3"/>
<line x1="313" x2="489.5" y1="130.44" y2="130.44" stroke="#50b050" stroke-width="1.55" stroke-dasharray="6.5 3" stroke-dashoffset="4.3"/>
<rect x="40.75" y="27.75" width="177.5" height="177.5" fill="none" stroke="#333" stroke-width="1.5"/>
<rect x="312.25" y="26.25" width="177.5" height="177.5" fill="none" stroke="#333" stroke-width="1.5"/>
<rect x="224" y="28.2" width="10.5" height="177.3" fill="none" stroke="#333" stroke-width="1.1"/>
<rect x="495.8" y="26.8" width="10.5" height="176.5" fill="none" stroke="#333" stroke-width="1.1"/>
<path d="M40.8 205.5 V268.3 H218.2 V205.5" fill="none" stroke="#666" stroke-width="1"/>
<line x1="40.3" x2="218.7" y1="205.8" y2="205.8" stroke="#222" stroke-width="1.8"/>
<path d="M312.1 203.7 V266.7 H489.6 V203.7" fill="none" stroke="#666" stroke-width="1"/>
<line x1="311.6" x2="490.1" y1="204.0" y2="204.0" stroke="#222" stroke-width="1.8"/>
<path d="M58.54 206.6 v2 M58.54 268.3 v-2 M76.28 206.6 v2 M76.28 268.3 v-2 M94.02 206.6 v2 M94.02 268.3 v-2 M111.76 206.6 v2 M111.76 268.3 v-2 M129.50 206.6 v2 M129.50 268.3 v-2 M147.24 206.6 v2 M147.24 268.3 v-2 M164.98 206.6 v2 M164.98 268.3 v-2 M182.72 206.6 v2 M182.72 268.3 v-2 M200.46 206.6 v2 M200.46 268.3 v-2 M40.8 248.00 h2 M218.2 248.00 h-2 M40.8 227.70 h2 M218.2 227.70 h-2 M341.68 204.8 v2 M341.68 266.7 v-2 M371.27 204.8 v2 M371.27 266.7 v-2 M400.85 204.8 v2 M400.85 266.7 v-2 M430.43 204.8 v2 M430.43 266.7 v-2 M460.02 204.8 v2 M460.02 266.7 v-2 M312.1 246.10 h2 M489.6 246.10 h-2 M312.1 225.50 h2 M489.6 225.50 h-2" stroke="#555" stroke-width="0.9" fill="none"/>
<g clip-path="url(#ca)"><path d="M40.80 268.30 L41.69 268.32 L42.58 268.32 L43.47 268.33 L44.37 268.32 L45.26 268.31 L46.15 268.29 L47.04 268.27 L47.93 268.23 L48.82 268.20 L49.71 268.15 L50.61 268.11 L51.50 268.05 L52.39 267.99 L53.28 267.93 L54.17 267.85 L55.06 267.78 L55.95 267.69 L56.85 267.61 L57.74 267.51 L58.63 267.42 L59.52 267.31 L60.41 267.21 L61.30 267.09 L62.19 266.98 L63.09 266.85 L63.98 266.73 L64.87 266.60 L65.76 266.46 L66.65 266.32 L67.54 266.18 L68.44 266.03 L69.33 265.88 L70.22 265.72 L71.11 265.56 L72.00 265.40 L72.89 265.23 L73.78 265.06 L74.68 264.89 L75.57 264.71 L76.46 264.53 L77.35 264.35 L78.24 264.16 L79.13 263.97 L80.02 263.78 L80.92 263.58 L81.81 263.39 L82.70 263.18 L83.59 262.98 L84.48 262.78 L85.37 262.57 L86.26 262.36 L87.16 262.15 L88.05 261.93 L88.94 261.72 L89.83 261.50 L90.72 261.28 L91.61 261.06 L92.50 260.83 L93.40 260.61 L94.29 260.38 L95.18 260.15 L96.07 259.93 L96.96 259.70 L97.85 259.46 L98.74 259.23 L99.64 259.00 L100.53 258.77 L101.42 258.53 L102.31 258.30 L103.20 258.06 L104.09 257.83 L104.98 257.59 L105.88 257.36 L106.77 257.12 L107.66 256.88 L108.55 256.65 L109.44 256.41 L110.33 256.17 L111.23 255.94 L112.12 255.70 L113.01 255.47 L113.90 255.24 L114.79 255.00 L115.68 254.77 L116.57 254.54 L117.47 254.31 L118.36 254.08 L119.25 253.85 L120.14 253.62 L121.03 253.40 L121.92 253.17 L122.81 252.95 L123.71 252.73 L124.60 252.51 L125.49 252.29 L126.38 252.08 L127.27 251.86 L128.16 251.65 L129.05 251.44 L129.95 251.23 L130.84 251.03 L131.73 250.83 L132.62 250.63 L133.51 250.43 L134.40 250.24 L135.29 250.04 L136.19 249.86 L137.08 249.67 L137.97 249.49 L138.86 249.31 L139.75 249.13 L140.64 248.95 L141.53 248.78 L142.43 248.62 L143.32 248.45 L144.21 248.29 L145.10 248.13 L145.99 247.98 L146.88 247.83 L147.77 247.68 L148.67 247.54 L149.56 247.40 L150.45 247.26 L151.34 247.13 L152.23 247.00 L153.12 246.87 L154.02 246.75 L154.91 246.63 L155.80 246.52 L156.69 246.41 L157.58 246.31 L158.47 246.21 L159.36 246.11 L160.26 246.02 L161.15 245.93 L162.04 245.85 L162.93 245.77 L163.82 245.69 L164.71 245.62 L165.60 245.56 L166.50 245.50 L167.39 245.44 L168.28 245.39 L169.17 245.34 L170.06 245.30 L170.95 245.26 L171.84 245.23 L172.74 245.21 L173.63 245.18 L174.52 245.17 L175.41 245.16 L176.30 245.15 L177.19 245.15 L178.08 245.16 L178.98 245.17 L179.87 245.18 L180.76 245.21 L181.65 245.23 L182.54 245.27 L183.43 245.30 L184.32 245.35 L185.22 245.40 L186.11 245.45 L187.00 245.52 L187.89 245.59 L188.78 245.66 L189.67 245.74 L190.56 245.83 L191.46 245.92 L192.35 246.02 L193.24 246.12 L194.13 246.23 L195.02 246.35 L195.91 246.48 L196.81 246.61 L197.70 246.75 L198.59 246.89 L199.48 247.04 L200.37 247.20 L201.26 247.36 L202.15 247.53 L203.05 247.71 L203.94 247.90 L204.83 248.09 L205.72 248.29 L206.61 248.50 L207.50 248.71 L208.39 248.93 L209.29 249.16 L210.18 249.40 L211.07 249.64 L211.96 249.89 L212.85 250.15 L213.74 250.41 L214.63 250.69 L215.53 250.97 L216.42 251.26 L217.31 251.56 L218.20 251.86" fill="none" stroke="#e8302c" stroke-width="1.8" stroke-linejoin="round"/><path d="M40.80 268.30 L41.64 268.31 L42.47 268.30 L43.31 268.28 L44.14 268.25 L44.98 268.20 L45.81 268.15 L46.65 268.07 L47.48 267.99 L48.32 267.89 L49.15 267.78 L49.99 267.66 L50.82 267.53 L51.66 267.39 L52.49 267.23 L53.33 267.07 L54.16 266.89 L55.00 266.71 L55.84 266.51 L56.67 266.31 L57.51 266.09 L58.34 265.87 L59.18 265.63 L60.01 265.39 L60.85 265.14 L61.68 264.88 L62.52 264.61 L63.35 264.34 L64.19 264.05 L65.02 263.76 L65.86 263.46 L66.69 263.16 L67.53 262.85 L68.36 262.53 L69.20 262.21 L70.04 261.88 L70.87 261.54 L71.71 261.20 L72.54 260.85 L73.38 260.50 L74.21 260.14 L75.05 259.78 L75.88 259.42 L76.72 259.05 L77.55 258.67 L78.39 258.30 L79.22 257.92 L80.06 257.54 L80.89 257.15 L81.73 256.76 L82.56 256.37 L83.40 255.98 L84.24 255.58 L85.07 255.19 L85.91 254.79 L86.74 254.39 L87.58 253.99 L88.41 253.59 L89.25 253.19 L90.08 252.78 L90.92 252.38 L91.75 251.98 L92.59 251.58 L93.42 251.18 L94.26 250.78 L95.09 250.39 L95.93 249.99 L96.76 249.60 L97.60 249.20 L98.44 248.81 L99.27 248.42 L100.11 248.04 L100.94 247.66 L101.78 247.28 L102.61 246.90 L103.45 246.53 L104.28 246.16 L105.12 245.80 L105.95 245.44 L106.79 245.09 L107.62 244.74 L108.46 244.39 L109.29 244.05 L110.13 243.72 L110.96 243.39 L111.80 243.07 L112.64 242.75 L113.47 242.44 L114.31 242.14 L115.14 241.84 L115.98 241.55 L116.81 241.27 L117.65 241.00 L118.48 240.74 L119.32 240.48 L120.15 240.23 L120.99 239.99 L121.82 239.76 L122.66 239.54 L123.49 239.33 L124.33 239.12 L125.16 238.93 L126.00 238.75 L126.84 238.58 L127.67 238.41 L128.51 238.26 L129.34 238.12 L130.18 238.00 L131.01 237.88 L131.85 237.77 L132.68 237.68 L133.52 237.60 L134.35 237.53 L135.19 237.48 L136.02 237.43 L136.86 237.40 L137.69 237.38 L138.53 237.37 L139.36 237.38 L140.20 237.39 L141.04 237.42 L141.87 237.46 L142.71 237.51 L143.54 237.57 L144.38 237.64 L145.21 237.72 L146.05 237.82 L146.88 237.92 L147.72 238.04 L148.55 238.17 L149.39 238.30 L150.22 238.45 L151.06 238.61 L151.89 238.78 L152.73 238.96 L153.56 239.15 L154.40 239.35 L155.24 239.56 L156.07 239.78 L156.91 240.01 L157.74 240.25 L158.58 240.49 L159.41 240.75 L160.25 241.02 L161.08 241.30 L161.92 241.58 L162.75 241.88 L163.59 242.18 L164.42 242.50 L165.26 242.82 L166.09 243.15 L166.93 243.49 L167.76 243.84 L168.60 244.20 L169.44 244.56 L170.27 244.94 L171.11 245.32 L171.94 245.71 L172.78 246.11 L173.61 246.51 L174.45 246.93 L175.28 247.35 L176.12 247.78 L176.95 248.22 L177.79 248.67 L178.62 249.12 L179.46 249.58 L180.29 250.05 L181.13 250.52 L181.96 251.00 L182.80 251.49 L183.64 251.99 L184.47 252.49 L185.31 253.00 L186.14 253.51 L186.98 254.04 L187.81 254.57 L188.65 255.10 L189.48 255.64 L190.32 256.19 L191.15 256.74 L191.99 257.30 L192.82 257.87 L193.66 258.44 L194.49 259.02 L195.33 259.60 L196.16 260.19 L197.00 260.78 L197.84 261.38 L198.67 261.99 L199.51 262.60 L200.34 263.21 L201.18 263.83 L202.01 264.46 L202.85 265.09 L203.68 265.72 L204.52 266.36 L205.35 267.00 L206.19 267.65 L207.02 268.30 M207.02 268.30 L207.08 268.26 L207.14 268.22 L207.19 268.18 L207.25 268.14 L207.30 268.10 L207.36 268.07 L207.42 268.03 L207.47 267.99 L207.53 267.95 L207.59 267.91 L207.64 267.87 L207.70 267.83 L207.75 267.79 L207.81 267.75 L207.87 267.71 L207.92 267.67 L207.98 267.63 L208.03 267.60 L208.09 267.56 L208.15 267.52 L208.20 267.48 L208.26 267.44 L208.32 267.40 L208.37 267.36 L208.43 267.32 L208.48 267.28 L208.54 267.24 L208.60 267.21 L208.65 267.17 L208.71 267.13 L208.76 267.09 L208.82 267.05 L208.88 267.01 L208.93 266.97 L208.99 266.93 L209.05 266.89 L209.10 266.85 L209.16 266.82 L209.21 266.78 L209.27 266.74 L209.33 266.70 L209.38 266.66 L209.44 266.62 L209.49 266.58 L209.55 266.54 L209.61 266.50 L209.66 266.46 L209.72 266.43 L209.78 266.39 L209.83 266.35 L209.89 266.31 L209.94 266.27 L210.00 266.23 L210.06 266.19 L210.11 266.15 L210.17 266.11 L210.23 266.07 L210.28 266.04 L210.34 266.00 L210.39 265.96 L210.45 265.92 L210.51 265.88 L210.56 265.84 L210.62 265.80 L210.67 265.76 L210.73 265.72 L210.79 265.69 L210.84 265.65 L210.90 265.61 L210.96 265.57 L211.01 265.53 L211.07 265.49 L211.12 265.45 L211.18 265.41 L211.24 265.37 L211.29 265.34 L211.35 265.30 L211.40 265.26 L211.46 265.22 L211.52 265.18 L211.57 265.14 L211.63 265.10 L211.69 265.06 L211.74 265.03 L211.80 264.99 L211.85 264.95 L211.91 264.91 L211.97 264.87 L212.02 264.83 L212.08 264.79 L212.13 264.75 L212.19 264.71 L212.25 264.68 L212.30 264.64 L212.36 264.60 L212.42 264.56 L212.47 264.52 L212.53 264.48 L212.58 264.44 L212.64 264.40 L212.70 264.37 L212.75 264.33 L212.81 264.29 L212.86 264.25 L212.92 264.21 L212.98 264.17 L213.03 264.13 L213.09 264.09 L213.15 264.06 L213.20 264.02 L213.26 263.98 L213.31 263.94 L213.37 263.90 L213.43 263.86 L213.48 263.82 L213.54 263.78 L213.59 263.75 L213.65 263.71 L213.71 263.67 L213.76 263.63 L213.82 263.59 L213.88 263.55 L213.93 263.51 L213.99 263.48 L214.04 263.44 L214.10 263.40 L214.16 263.36 L214.21 263.32 L214.27 263.28 L214.32 263.24 L214.38 263.20 L214.44 263.17 L214.49 263.13 L214.55 263.09 L214.61 263.05 L214.66 263.01 L214.72 262.97 L214.77 262.93 L214.83 262.90 L214.89 262.86 L214.94 262.82 L215.00 262.78 L215.05 262.74 L215.11 262.70 L215.17 262.66 L215.22 262.63 L215.28 262.59 L215.34 262.55 L215.39 262.51 L215.45 262.47 L215.50 262.43 L215.56 262.39 L215.62 262.36 L215.67 262.32 L215.73 262.28 L215.79 262.24 L215.84 262.20 L215.90 262.16 L215.95 262.12 L216.01 262.09 L216.07 262.05 L216.12 262.01 L216.18 261.97 L216.23 261.93 L216.29 261.89 L216.35 261.85 L216.40 261.82 L216.46 261.78 L216.52 261.74 L216.57 261.70 L216.63 261.66 L216.68 261.62 L216.74 261.59 L216.80 261.55 L216.85 261.51 L216.91 261.47 L216.96 261.43 L217.02 261.39 L217.08 261.35 L217.13 261.32 L217.19 261.28 L217.25 261.24 L217.30 261.20 L217.36 261.16 L217.41 261.12 L217.47 261.09 L217.53 261.05 L217.58 261.01 L217.64 260.97 L217.69 260.93 L217.75 260.89 L217.81 260.85 L217.86 260.82 L217.92 260.78 L217.98 260.74 L218.03 260.70 L218.09 260.66 L218.14 260.62 L218.20 260.59" fill="none" stroke="#2cb0ea" stroke-width="1.8" stroke-linejoin="round"/><path d="M40.80 268.30 L41.34 268.31 L41.87 268.29 L42.41 268.25 L42.94 268.18 L43.48 268.09 L44.01 267.97 L44.55 267.83 L45.09 267.66 L45.62 267.47 L46.16 267.26 L46.69 267.03 L47.23 266.78 L47.76 266.50 L48.30 266.21 L48.84 265.90 L49.37 265.57 L49.91 265.22 L50.44 264.85 L50.98 264.47 L51.52 264.07 L52.05 263.66 L52.59 263.23 L53.12 262.79 L53.66 262.33 L54.19 261.86 L54.73 261.38 L55.27 260.88 L55.80 260.38 L56.34 259.86 L56.87 259.33 L57.41 258.80 L57.94 258.25 L58.48 257.70 L59.02 257.14 L59.55 256.57 L60.09 256.00 L60.62 255.42 L61.16 254.83 L61.69 254.24 L62.23 253.65 L62.77 253.05 L63.30 252.45 L63.84 251.85 L64.37 251.24 L64.91 250.64 L65.45 250.03 L65.98 249.42 L66.52 248.82 L67.05 248.21 L67.59 247.61 L68.12 247.01 L68.66 246.42 L69.20 245.82 L69.73 245.23 L70.27 244.63 L70.80 244.04 L71.34 243.46 L71.87 242.87 L72.41 242.29 L72.95 241.71 L73.48 241.13 L74.02 240.55 L74.55 239.98 L75.09 239.40 L75.62 238.83 L76.16 238.26 L76.70 237.69 L77.23 237.13 L77.77 236.56 L78.30 236.00 L78.84 235.44 L79.38 234.89 L79.91 234.33 L80.45 233.78 L80.98 233.22 L81.52 232.67 L82.05 232.12 L82.59 231.58 L83.13 231.03 L83.66 230.49 L84.20 229.95 L84.73 229.41 L85.27 228.87 L85.80 228.34 L86.34 227.82 L86.88 227.30 L87.41 226.79 L87.95 226.28 L88.48 225.79 L89.02 225.30 L89.55 224.83 L90.09 224.37 L90.63 223.92 L91.16 223.48 L91.70 223.06 L92.23 222.65 L92.77 222.27 L93.31 221.89 L93.84 221.54 L94.38 221.21 L94.91 220.89 L95.45 220.60 L95.98 220.32 L96.52 220.07 L97.06 219.84 L97.59 219.62 L98.13 219.43 L98.66 219.26 L99.20 219.10 L99.73 218.97 L100.27 218.85 L100.81 218.75 L101.34 218.67 L101.88 218.61 L102.41 218.57 L102.95 218.55 L103.48 218.55 L104.02 218.56 L104.56 218.59 L105.09 218.64 L105.63 218.71 L106.16 218.80 L106.70 218.90 L107.23 219.02 L107.77 219.16 L108.31 219.32 L108.84 219.49 L109.38 219.68 L109.91 219.89 L110.45 220.11 L110.99 220.35 L111.52 220.61 L112.06 220.88 L112.59 221.17 L113.13 221.47 L113.66 221.79 L114.20 222.13 L114.74 222.48 L115.27 222.85 L115.81 223.23 L116.34 223.63 L116.88 224.04 L117.41 224.47 L117.95 224.91 L118.49 225.37 L119.02 225.84 L119.56 226.33 L120.09 226.83 L120.63 227.35 L121.16 227.88 L121.70 228.42 L122.24 228.98 L122.77 229.55 L123.31 230.13 L123.84 230.73 L124.38 231.34 L124.92 231.97 L125.45 232.60 L125.99 233.25 L126.52 233.92 L127.06 234.59 L127.59 235.28 L128.13 235.98 L128.67 236.69 L129.20 237.42 L129.74 238.15 L130.27 238.90 L130.81 239.66 L131.34 240.43 L131.88 241.22 L132.42 242.01 L132.95 242.81 L133.49 243.63 L134.02 244.46 L134.56 245.30 L135.09 246.15 L135.63 247.00 L136.17 247.87 L136.70 248.75 L137.24 249.64 L137.77 250.54 L138.31 251.45 L138.85 252.37 L139.38 253.30 L139.92 254.24 L140.45 255.19 L140.99 256.15 L141.52 257.11 L142.06 258.09 L142.60 259.07 L143.13 260.06 L143.67 261.06 L144.20 262.07 L144.74 263.09 L145.27 264.12 L145.81 265.15 L146.35 266.19 L146.88 267.24 L147.42 268.30 M147.42 268.30 L147.74 267.71 L148.05 267.12 L148.37 266.53 L148.69 265.95 L149.01 265.38 L149.33 264.81 L149.65 264.25 L149.96 263.69 L150.28 263.14 L150.60 262.59 L150.92 262.05 L151.24 261.51 L151.55 260.98 L151.87 260.45 L152.19 259.93 L152.51 259.42 L152.83 258.90 L153.15 258.40 L153.46 257.90 L153.78 257.41 L154.10 256.92 L154.42 256.43 L154.74 255.96 L155.06 255.48 L155.37 255.02 L155.69 254.56 L156.01 254.10 L156.33 253.65 L156.65 253.20 L156.96 252.77 L157.28 252.33 L157.60 251.90 L157.92 251.48 L158.24 251.07 L158.56 250.65 L158.87 250.25 L159.19 249.85 L159.51 249.46 L159.83 249.07 L160.15 248.69 L160.47 248.31 L160.78 247.94 L161.10 247.57 L161.42 247.21 L161.74 246.86 L162.06 246.51 L162.38 246.17 L162.69 245.84 L163.01 245.51 L163.33 245.18 L163.65 244.87 L163.97 244.55 L164.28 244.25 L164.60 243.95 L164.92 243.65 L165.24 243.37 L165.56 243.08 L165.88 242.81 L166.19 242.54 L166.51 242.28 L166.83 242.02 L167.15 241.77 L167.47 241.52 L167.79 241.28 L168.10 241.05 L168.42 240.82 L168.74 240.60 L169.06 240.39 L169.38 240.18 L169.69 239.98 L170.01 239.78 L170.33 239.59 L170.65 239.41 L170.97 239.24 L171.29 239.07 L171.60 238.90 L171.92 238.74 L172.24 238.59 L172.56 238.45 L172.88 238.31 L173.20 238.18 L173.51 238.05 L173.83 237.94 L174.15 237.82 L174.47 237.72 L174.79 237.62 L175.11 237.53 L175.42 237.44 L175.74 237.36 L176.06 237.29 L176.38 237.22 L176.70 237.16 L177.01 237.11 L177.33 237.06 L177.65 237.02 L177.97 236.99 L178.29 236.97 L178.61 236.95 L178.92 236.93 L179.24 236.93 L179.56 236.93 L179.88 236.94 L180.20 236.95 L180.52 236.97 L180.83 237.00 L181.15 237.03 L181.47 237.08 L181.79 237.12 L182.11 237.18 L182.42 237.24 L182.74 237.31 L183.06 237.38 L183.38 237.47 L183.70 237.55 L184.02 237.65 L184.33 237.75 L184.65 237.86 L184.97 237.97 L185.29 238.09 L185.61 238.22 L185.93 238.36 L186.24 238.50 L186.56 238.65 L186.88 238.80 L187.20 238.96 L187.52 239.13 L187.84 239.30 L188.15 239.48 L188.47 239.67 L188.79 239.86 L189.11 240.06 L189.43 240.27 L189.74 240.48 L190.06 240.70 L190.38 240.93 L190.70 241.16 L191.02 241.40 L191.34 241.64 L191.65 241.89 L191.97 242.15 L192.29 242.41 L192.61 242.69 L192.93 242.96 L193.25 243.25 L193.56 243.53 L193.88 243.83 L194.20 244.13 L194.52 244.44 L194.84 244.76 L195.15 245.08 L195.47 245.40 L195.79 245.74 L196.11 246.08 L196.43 246.42 L196.75 246.78 L197.06 247.13 L197.38 247.50 L197.70 247.87 L198.02 248.25 L198.34 248.63 L198.66 249.02 L198.97 249.42 L199.29 249.82 L199.61 250.23 L199.93 250.64 L200.25 251.06 L200.57 251.49 L200.88 251.92 L201.20 252.36 L201.52 252.80 L201.84 253.25 L202.16 253.71 L202.47 254.17 L202.79 254.64 L203.11 255.12 L203.43 255.60 L203.75 256.09 L204.07 256.58 L204.38 257.08 L204.70 257.58 L205.02 258.09 L205.34 258.61 L205.66 259.13 L205.98 259.66 L206.29 260.20 L206.61 260.74 L206.93 261.28 L207.25 261.84 L207.57 262.39 L207.88 262.96 L208.20 263.53 L208.52 264.11 L208.84 264.69 L209.16 265.28 L209.48 265.87 L209.79 266.47 L210.11 267.07 L210.43 267.68 L210.75 268.30 M210.75 268.30 L210.79 268.24 L210.82 268.18 L210.86 268.12 L210.90 268.07 L210.94 268.01 L210.97 267.95 L211.01 267.89 L211.05 267.83 L211.09 267.77 L211.12 267.71 L211.16 267.65 L211.20 267.60 L211.24 267.54 L211.27 267.48 L211.31 267.42 L211.35 267.36 L211.39 267.30 L211.42 267.24 L211.46 267.19 L211.50 267.13 L211.54 267.07 L211.57 267.01 L211.61 266.95 L211.65 266.89 L211.69 266.83 L211.72 266.78 L211.76 266.72 L211.80 266.66 L211.83 266.60 L211.87 266.54 L211.91 266.48 L211.95 266.42 L211.98 266.37 L212.02 266.31 L212.06 266.25 L212.10 266.19 L212.13 266.13 L212.17 266.07 L212.21 266.01 L212.25 265.96 L212.28 265.90 L212.32 265.84 L212.36 265.78 L212.40 265.72 L212.43 265.66 L212.47 265.60 L212.51 265.55 L212.55 265.49 L212.58 265.43 L212.62 265.37 L212.66 265.31 L212.70 265.25 L212.73 265.20 L212.77 265.14 L212.81 265.08 L212.85 265.02 L212.88 264.96 L212.92 264.90 L212.96 264.85 L213.00 264.79 L213.03 264.73 L213.07 264.67 L213.11 264.61 L213.15 264.55 L213.18 264.50 L213.22 264.44 L213.26 264.38 L213.30 264.32 L213.33 264.26 L213.37 264.20 L213.41 264.15 L213.44 264.09 L213.48 264.03 L213.52 263.97 L213.56 263.91 L213.59 263.85 L213.63 263.80 L213.67 263.74 L213.71 263.68 L213.74 263.62 L213.78 263.56 L213.82 263.50 L213.86 263.45 L213.89 263.39 L213.93 263.33 L213.97 263.27 L214.01 263.21 L214.04 263.15 L214.08 263.10 L214.12 263.04 L214.16 262.98 L214.19 262.92 L214.23 262.86 L214.27 262.81 L214.31 262.75 L214.34 262.69 L214.38 262.63 L214.42 262.57 L214.46 262.51 L214.49 262.46 L214.53 262.40 L214.57 262.34 L214.61 262.28 L214.64 262.22 L214.68 262.17 L214.72 262.11 L214.76 262.05 L214.79 261.99 L214.83 261.93 L214.87 261.88 L214.91 261.82 L214.94 261.76 L214.98 261.70 L215.02 261.64 L215.05 261.58 L215.09 261.53 L215.13 261.47 L215.17 261.41 L215.20 261.35 L215.24 261.29 L215.28 261.24 L215.32 261.18 L215.35 261.12 L215.39 261.06 L215.43 261.00 L215.47 260.95 L215.50 260.89 L215.54 260.83 L215.58 260.77 L215.62 260.71 L215.65 260.66 L215.69 260.60 L215.73 260.54 L215.77 260.48 L215.80 260.42 L215.84 260.37 L215.88 260.31 L215.92 260.25 L215.95 260.19 L215.99 260.14 L216.03 260.08 L216.07 260.02 L216.10 259.96 L216.14 259.90 L216.18 259.85 L216.22 259.79 L216.25 259.73 L216.29 259.67 L216.33 259.61 L216.37 259.56 L216.40 259.50 L216.44 259.44 L216.48 259.38 L216.52 259.33 L216.55 259.27 L216.59 259.21 L216.63 259.15 L216.66 259.09 L216.70 259.04 L216.74 258.98 L216.78 258.92 L216.81 258.86 L216.85 258.80 L216.89 258.75 L216.93 258.69 L216.96 258.63 L217.00 258.57 L217.04 258.52 L217.08 258.46 L217.11 258.40 L217.15 258.34 L217.19 258.29 L217.23 258.23 L217.26 258.17 L217.30 258.11 L217.34 258.05 L217.38 258.00 L217.41 257.94 L217.45 257.88 L217.49 257.82 L217.53 257.77 L217.56 257.71 L217.60 257.65 L217.64 257.59 L217.68 257.54 L217.71 257.48 L217.75 257.42 L217.79 257.36 L217.83 257.30 L217.86 257.25 L217.90 257.19 L217.94 257.13 L217.98 257.07 L218.01 257.02 L218.05 256.96 L218.09 256.90 L218.13 256.84 L218.16 256.79 L218.20 256.73" fill="none" stroke="#f39c1b" stroke-width="1.8" stroke-linejoin="round"/></g>
<g clip-path="url(#cb)"><path d="M312.10 252.49 L312.28 252.45 L312.45 252.41 L312.63 252.37 L312.81 252.34 L312.98 252.31 L313.16 252.28 L313.34 252.25 L313.52 252.22 L313.69 252.20 L313.87 252.18 L314.05 252.16 L314.22 252.15 L314.40 252.14 L314.58 252.12 L314.75 252.12 L314.93 252.11 L315.11 252.10 L315.28 252.10 L315.46 252.10 L315.64 252.10 L315.82 252.11 L315.99 252.11 L316.17 252.12 L316.35 252.13 L316.52 252.14 L316.70 252.15 L316.88 252.17 L317.05 252.19 L317.23 252.20 L317.41 252.23 L317.58 252.25 L317.76 252.27 L317.94 252.30 L318.11 252.33 L318.29 252.36 L318.47 252.39 L318.65 252.42 L318.82 252.46 L319.00 252.50 L319.18 252.53 L319.35 252.57 L319.53 252.62 L319.71 252.66 L319.88 252.70 L320.06 252.75 L320.24 252.80 L320.41 252.85 L320.59 252.90 L320.77 252.95 L320.95 253.01 L321.12 253.06 L321.30 253.12 L321.48 253.18 L321.65 253.24 L321.83 253.30 L322.01 253.36 L322.18 253.43 L322.36 253.49 L322.54 253.56 L322.71 253.62 L322.89 253.69 L323.07 253.76 L323.25 253.84 L323.42 253.91 L323.60 253.98 L323.78 254.06 L323.95 254.13 L324.13 254.21 L324.31 254.29 L324.48 254.37 L324.66 254.45 L324.84 254.53 L325.01 254.61 L325.19 254.70 L325.37 254.78 L325.54 254.87 L325.72 254.96 L325.90 255.04 L326.08 255.13 L326.25 255.22 L326.43 255.31 L326.61 255.40 L326.78 255.50 L326.96 255.59 L327.14 255.68 L327.31 255.78 L327.49 255.87 L327.67 255.97 L327.84 256.06 L328.02 256.16 L328.20 256.26 L328.38 256.36 L328.55 256.46 L328.73 256.56 L328.91 256.66 L329.08 256.76 L329.26 256.86 L329.44 256.96 L329.61 257.07 L329.79 257.17 L329.97 257.27 L330.14 257.38 L330.32 257.48 L330.50 257.59 L330.68 257.69 L330.85 257.80 L331.03 257.90 L331.21 258.01 L331.38 258.12 L331.56 258.23 L331.74 258.33 L331.91 258.44 L332.09 258.55 L332.27 258.66 L332.44 258.77 L332.62 258.88 L332.80 258.98 L332.97 259.09 L333.15 259.20 L333.33 259.31 L333.51 259.42 L333.68 259.53 L333.86 259.64 L334.04 259.75 L334.21 259.86 L334.39 259.97 L334.57 260.08 L334.74 260.19 L334.92 260.30 L335.10 260.41 L335.27 260.52 L335.45 260.63 L335.63 260.74 L335.81 260.85 L335.98 260.96 L336.16 261.07 L336.34 261.17 L336.51 261.28 L336.69 261.39 L336.87 261.50 L337.04 261.61 L337.22 261.71 L337.40 261.82 L337.57 261.93 L337.75 262.03 L337.93 262.14 L338.11 262.24 L338.28 262.35 L338.46 262.45 L338.64 262.56 L338.81 262.66 L338.99 262.76 L339.17 262.87 L339.34 262.97 L339.52 263.07 L339.70 263.17 L339.87 263.27 L340.05 263.37 L340.23 263.47 L340.40 263.57 L340.58 263.67 L340.76 263.77 L340.94 263.86 L341.11 263.96 L341.29 264.05 L341.47 264.15 L341.64 264.24 L341.82 264.33 L342.00 264.42 L342.17 264.52 L342.35 264.61 L342.53 264.69 L342.70 264.78 L342.88 264.87 L343.06 264.96 L343.24 265.04 L343.41 265.13 L343.59 265.21 L343.77 265.29 L343.94 265.37 L344.12 265.46 L344.30 265.53 L344.47 265.61 L344.65 265.69 L344.83 265.77 L345.00 265.84 L345.18 265.91 L345.36 265.99 L345.54 266.06 L345.71 266.13 L345.89 266.20 L346.07 266.26 L346.24 266.33 L346.42 266.40 L346.60 266.46 L346.77 266.52 L346.95 266.58 L347.13 266.64 L347.30 266.70 M347.30 266.70 L348.02 266.27 L348.73 265.84 L349.45 265.41 L350.16 265.00 L350.88 264.58 L351.59 264.18 L352.31 263.77 L353.02 263.38 L353.74 262.98 L354.45 262.60 L355.17 262.22 L355.88 261.84 L356.60 261.47 L357.31 261.10 L358.03 260.74 L358.75 260.38 L359.46 260.03 L360.18 259.69 L360.89 259.34 L361.61 259.01 L362.32 258.67 L363.04 258.35 L363.75 258.02 L364.47 257.71 L365.18 257.39 L365.90 257.08 L366.61 256.78 L367.33 256.48 L368.04 256.18 L368.76 255.89 L369.47 255.61 L370.19 255.33 L370.90 255.05 L371.62 254.77 L372.33 254.51 L373.05 254.24 L373.76 253.98 L374.48 253.73 L375.19 253.47 L375.91 253.23 L376.62 252.98 L377.34 252.75 L378.05 252.51 L378.77 252.28 L379.48 252.05 L380.20 251.83 L380.91 251.61 L381.63 251.40 L382.34 251.18 L383.06 250.98 L383.77 250.77 L384.49 250.58 L385.20 250.38 L385.92 250.19 L386.63 250.00 L387.35 249.81 L388.06 249.63 L388.78 249.46 L389.49 249.28 L390.21 249.11 L390.92 248.95 L391.64 248.78 L392.35 248.62 L393.07 248.47 L393.78 248.32 L394.50 248.17 L395.21 248.02 L395.93 247.88 L396.64 247.74 L397.36 247.60 L398.07 247.47 L398.79 247.34 L399.50 247.21 L400.22 247.09 L400.93 246.97 L401.65 246.85 L402.36 246.74 L403.08 246.63 L403.79 246.52 L404.51 246.41 L405.22 246.31 L405.94 246.21 L406.65 246.12 L407.37 246.02 L408.08 245.93 L408.80 245.84 L409.51 245.76 L410.23 245.67 L410.94 245.59 L411.66 245.52 L412.37 245.44 L413.09 245.37 L413.80 245.30 L414.52 245.23 L415.23 245.17 L415.95 245.10 L416.66 245.04 L417.38 244.99 L418.09 244.93 L418.81 244.88 L419.52 244.83 L420.24 244.78 L420.95 244.73 L421.67 244.69 L422.38 244.65 L423.10 244.61 L423.81 244.57 L424.53 244.53 L425.25 244.50 L425.96 244.47 L426.68 244.44 L427.39 244.41 L428.11 244.39 L428.82 244.36 L429.54 244.34 L430.25 244.32 L430.97 244.30 L431.68 244.29 L432.40 244.27 L433.11 244.26 L433.83 244.25 L434.54 244.24 L435.26 244.23 L435.97 244.22 L436.69 244.22 L437.40 244.21 L438.12 244.21 L438.83 244.21 L439.55 244.21 L440.26 244.21 L440.98 244.22 L441.69 244.22 L442.41 244.23 L443.12 244.23 L443.84 244.24 L444.55 244.25 L445.27 244.26 L445.98 244.27 L446.70 244.29 L447.41 244.30 L448.13 244.32 L448.84 244.33 L449.56 244.35 L450.27 244.37 L450.99 244.39 L451.70 244.41 L452.42 244.43 L453.13 244.45 L453.85 244.47 L454.56 244.49 L455.28 244.52 L455.99 244.54 L456.71 244.57 L457.42 244.59 L458.14 244.62 L458.85 244.65 L459.57 244.67 L460.28 244.70 L461.00 244.73 L461.71 244.76 L462.43 244.79 L463.14 244.82 L463.86 244.85 L464.57 244.88 L465.29 244.91 L466.00 244.94 L466.72 244.97 L467.43 245.00 L468.15 245.03 L468.86 245.06 L469.58 245.10 L470.29 245.13 L471.01 245.16 L471.72 245.19 L472.44 245.22 L473.15 245.25 L473.87 245.29 L474.58 245.32 L475.30 245.35 L476.01 245.38 L476.73 245.41 L477.44 245.44 L478.16 245.47 L478.87 245.50 L479.59 245.53 L480.30 245.56 L481.02 245.59 L481.73 245.62 L482.45 245.65 L483.16 245.67 L483.88 245.70 L484.59 245.73 L485.31 245.75 L486.02 245.78 L486.74 245.80 L487.45 245.83 L488.17 245.85 L488.88 245.87 L489.60 245.89" fill="none" stroke="#c050b8" stroke-width="1.8" stroke-linejoin="round"/><path d="M312.10 266.70 L312.99 265.65 L313.88 264.63 L314.78 263.63 L315.67 262.66 L316.56 261.71 L317.45 260.78 L318.34 259.88 L319.24 259.00 L320.13 258.14 L321.02 257.30 L321.91 256.48 L322.80 255.68 L323.70 254.91 L324.59 254.16 L325.48 253.42 L326.37 252.71 L327.26 252.02 L328.16 251.34 L329.05 250.69 L329.94 250.05 L330.83 249.44 L331.72 248.84 L332.62 248.26 L333.51 247.70 L334.40 247.15 L335.29 246.63 L336.18 246.12 L337.07 245.63 L337.97 245.15 L338.86 244.69 L339.75 244.25 L340.64 243.82 L341.53 243.41 L342.43 243.01 L343.32 242.63 L344.21 242.27 L345.10 241.91 L345.99 241.58 L346.89 241.25 L347.78 240.94 L348.67 240.64 L349.56 240.36 L350.45 240.09 L351.35 239.83 L352.24 239.58 L353.13 239.35 L354.02 239.13 L354.91 238.92 L355.81 238.72 L356.70 238.53 L357.59 238.35 L358.48 238.18 L359.37 238.02 L360.27 237.87 L361.16 237.74 L362.05 237.61 L362.94 237.49 L363.83 237.37 L364.73 237.27 L365.62 237.18 L366.51 237.09 L367.40 237.01 L368.29 236.94 L369.19 236.87 L370.08 236.81 L370.97 236.76 L371.86 236.72 L372.75 236.68 L373.65 236.64 L374.54 236.62 L375.43 236.59 L376.32 236.57 L377.21 236.56 L378.11 236.55 L379.00 236.55 L379.89 236.55 L380.78 236.55 L381.67 236.55 L382.56 236.56 L383.46 236.57 L384.35 236.59 L385.24 236.61 L386.13 236.63 L387.02 236.65 L387.92 236.68 L388.81 236.71 L389.70 236.74 L390.59 236.77 L391.48 236.81 L392.38 236.85 L393.27 236.90 L394.16 236.94 L395.05 236.99 L395.94 237.04 L396.84 237.09 L397.73 237.15 L398.62 237.20 L399.51 237.26 L400.40 237.33 L401.30 237.39 L402.19 237.46 L403.08 237.52 L403.97 237.59 L404.86 237.67 L405.76 237.74 L406.65 237.82 L407.54 237.89 L408.43 237.97 L409.32 238.06 L410.22 238.14 L411.11 238.22 L412.00 238.31 L412.89 238.40 L413.78 238.49 L414.68 238.58 L415.57 238.67 L416.46 238.76 L417.35 238.86 L418.24 238.95 L419.14 239.05 L420.03 239.15 L420.92 239.25 L421.81 239.35 L422.70 239.45 L423.59 239.55 L424.49 239.66 L425.38 239.76 L426.27 239.87 L427.16 239.97 L428.05 240.08 L428.95 240.19 L429.84 240.29 L430.73 240.40 L431.62 240.51 L432.51 240.62 L433.41 240.73 L434.30 240.84 L435.19 240.95 L436.08 241.06 L436.97 241.18 L437.87 241.29 L438.76 241.40 L439.65 241.51 L440.54 241.62 L441.43 241.74 L442.33 241.85 L443.22 241.96 L444.11 242.07 L445.00 242.18 L445.89 242.29 L446.79 242.41 L447.68 242.52 L448.57 242.63 L449.46 242.74 L450.35 242.85 L451.25 242.96 L452.14 243.06 L453.03 243.17 L453.92 243.28 L454.81 243.39 L455.71 243.49 L456.60 243.60 L457.49 243.70 L458.38 243.81 L459.27 243.91 L460.17 244.01 L461.06 244.11 L461.95 244.21 L462.84 244.31 L463.73 244.41 L464.63 244.50 L465.52 244.60 L466.41 244.69 L467.30 244.78 L468.19 244.87 L469.08 244.96 L469.98 245.05 L470.87 245.14 L471.76 245.22 L472.65 245.31 L473.54 245.39 L474.44 245.47 L475.33 245.54 L476.22 245.62 L477.11 245.69 L478.00 245.77 L478.90 245.84 L479.79 245.91 L480.68 245.97 L481.57 246.04 L482.46 246.10 L483.36 246.16 L484.25 246.22 L485.14 246.27 L486.03 246.32 L486.92 246.37 L487.82 246.42 L488.71 246.47 L489.60 246.51" fill="none" stroke="#c8621e" stroke-width="1.8" stroke-linejoin="round"/><path d="M312.10 223.64 L312.99 223.48 L313.88 223.34 L314.78 223.20 L315.67 223.08 L316.56 222.97 L317.45 222.88 L318.34 222.79 L319.24 222.72 L320.13 222.66 L321.02 222.60 L321.91 222.56 L322.80 222.53 L323.70 222.52 L324.59 222.51 L325.48 222.51 L326.37 222.52 L327.26 222.54 L328.16 222.57 L329.05 222.61 L329.94 222.66 L330.83 222.71 L331.72 222.78 L332.62 222.85 L333.51 222.93 L334.40 223.02 L335.29 223.11 L336.18 223.21 L337.07 223.32 L337.97 223.44 L338.86 223.56 L339.75 223.69 L340.64 223.82 L341.53 223.96 L342.43 224.11 L343.32 224.26 L344.21 224.42 L345.10 224.58 L345.99 224.74 L346.89 224.91 L347.78 225.08 L348.67 225.26 L349.56 225.44 L350.45 225.63 L351.35 225.81 L352.24 226.00 L353.13 226.20 L354.02 226.39 L354.91 226.59 L355.81 226.79 L356.70 226.99 L357.59 227.19 L358.48 227.40 L359.37 227.60 L360.27 227.81 L361.16 228.02 L362.05 228.23 L362.94 228.45 L363.83 228.66 L364.73 228.88 L365.62 229.10 L366.51 229.31 L367.40 229.53 L368.29 229.75 L369.19 229.98 L370.08 230.20 L370.97 230.42 L371.86 230.64 L372.75 230.87 L373.65 231.09 L374.54 231.32 L375.43 231.54 L376.32 231.77 L377.21 231.99 L378.11 232.22 L379.00 232.45 L379.89 232.67 L380.78 232.90 L381.67 233.12 L382.56 233.35 L383.46 233.57 L384.35 233.80 L385.24 234.02 L386.13 234.25 L387.02 234.47 L387.92 234.69 L388.81 234.91 L389.70 235.13 L390.59 235.35 L391.48 235.57 L392.38 235.79 L393.27 236.00 L394.16 236.22 L395.05 236.43 L395.94 236.64 L396.84 236.85 L397.73 237.06 L398.62 237.26 L399.51 237.47 L400.40 237.67 L401.30 237.87 L402.19 238.07 L403.08 238.27 L403.97 238.46 L404.86 238.66 L405.76 238.85 L406.65 239.04 L407.54 239.22 L408.43 239.41 L409.32 239.59 L410.22 239.77 L411.11 239.95 L412.00 240.13 L412.89 240.31 L413.78 240.48 L414.68 240.66 L415.57 240.83 L416.46 241.00 L417.35 241.16 L418.24 241.33 L419.14 241.49 L420.03 241.66 L420.92 241.82 L421.81 241.97 L422.70 242.13 L423.59 242.29 L424.49 242.44 L425.38 242.59 L426.27 242.74 L427.16 242.89 L428.05 243.04 L428.95 243.19 L429.84 243.33 L430.73 243.48 L431.62 243.62 L432.51 243.76 L433.41 243.90 L434.30 244.03 L435.19 244.17 L436.08 244.30 L436.97 244.43 L437.87 244.57 L438.76 244.70 L439.65 244.82 L440.54 244.95 L441.43 245.08 L442.33 245.20 L443.22 245.32 L444.11 245.45 L445.00 245.57 L445.89 245.69 L446.79 245.80 L447.68 245.92 L448.57 246.03 L449.46 246.15 L450.35 246.26 L451.25 246.37 L452.14 246.48 L453.03 246.59 L453.92 246.70 L454.81 246.81 L455.71 246.91 L456.60 247.02 L457.49 247.12 L458.38 247.22 L459.27 247.33 L460.17 247.43 L461.06 247.52 L461.95 247.62 L462.84 247.72 L463.73 247.82 L464.63 247.91 L465.52 248.01 L466.41 248.10 L467.30 248.19 L468.19 248.28 L469.08 248.37 L469.98 248.46 L470.87 248.55 L471.76 248.64 L472.65 248.72 L473.54 248.81 L474.44 248.89 L475.33 248.98 L476.22 249.06 L477.11 249.14 L478.00 249.23 L478.90 249.31 L479.79 249.39 L480.68 249.47 L481.57 249.54 L482.46 249.62 L483.36 249.70 L484.25 249.78 L485.14 249.85 L486.03 249.93 L486.92 250.00 L487.82 250.07 L488.71 250.15 L489.60 250.22" fill="none" stroke="#21a040" stroke-width="1.8" stroke-linejoin="round"/></g>
<line x1="189" x2="201.7" y1="213.9" y2="213.9" stroke="#f39c1b" stroke-width="1.5"/>
<line x1="189" x2="201.7" y1="222.4" y2="222.4" stroke="#2cb0ea" stroke-width="1.5"/>
<line x1="189" x2="201.7" y1="231.3" y2="231.3" stroke="#e8302c" stroke-width="1.5"/>
<line x1="460.8" x2="473.9" y1="212.9" y2="212.9" stroke="#21a040" stroke-width="1.5"/>
<line x1="460.8" x2="473.9" y1="222.3" y2="222.3" stroke="#c8621e" stroke-width="1.5"/>
<line x1="460.8" x2="473.9" y1="230.5" y2="230.5" stroke="#c050b8" stroke-width="1.5"/></svg>
<div class="t pl" style="left:4.2px;top:3px">a</div>
<div class="t pl" style="left:281px;top:3.5px">b</div>
<div class="t ttl" style="left:122.3px;top:8.7px">S<span style="font-size:8px;position:relative;top:4.5px;margin-left:0.5px">0,h</span></div>
<div class="t ttl" style="left:394.3px;top:7.2px">S<span style="font-size:8px;position:relative;top:4.5px;margin-left:0.5px">0,&#955;</span></div>
<div class="t tick r" style="left:37.2px;top:28.4px">1</div>
<div class="t tick r" style="left:39px;top:57.4px">0.9</div>
<div class="t tick r" style="left:39px;top:86.5px">0.8</div>
<div class="t tick r" style="left:39px;top:116.9px">0.7</div>
<div class="t tick r" style="left:39px;top:146.4px">0.6</div>
<div class="t tick r" style="left:39px;top:175px">0.5</div>
<div class="t tick r" style="left:39px;top:202.3px">0.4</div>
<div class="t lab" style="left:14.2px;top:114.6px;transform:translate(-50%,-50%) rotate(-90deg)"><span style="font-size:13px">&#955;</span> <i>(&#956;m)</i></div>
<div class="t tick r" style="left:308.1px;top:24.9px">1</div>
<div class="t tick r" style="left:309.3px;top:60.1px">0.8</div>
<div class="t tick r" style="left:309.3px;top:95.3px">0.6</div>
<div class="t tick r" style="left:309.3px;top:130.5px">0.4</div>
<div class="t tick r" style="left:309.3px;top:165.7px">0.2</div>
<div class="t tick r" style="left:309.3px;top:200.9px">0</div>
<div class="t lab" style="left:282.2px;top:108.4px;font-size:11.5px;transform:translate(-50%,-50%) rotate(-90deg)"><i>h</i> <i>(&#956;m)</i></div>
<div class="t tick lft" style="left:237px;top:74px">2.0</div>
<div class="t tick lft" style="left:237px;top:107.8px">1.5</div>
<div class="t tick lft" style="left:237px;top:141.5px">1.0</div>
<div class="t tick lft" style="left:237px;top:173.3px">0.5</div>
<div class="t tick lft" style="left:237px;top:204.7px">0</div>
<div class="t tick lft" style="left:237px;top:41px">2.5<i>&#956;m</i><sup style="font-size:8.5px;position:relative;top:-1.5px;margin-left:0.5px"><i>&#8722;1</i></sup></div>
<div class="t tick lft" style="left:508.6px;top:72.3px">2.0</div>
<div class="t tick lft" style="left:508.6px;top:105.4px">1.5</div>
<div class="t tick lft" style="left:508.6px;top:139.1px">1.0</div>
<div class="t tick lft" style="left:508.6px;top:172.3px">0.5</div>
<div class="t tick lft" style="left:508.6px;top:202px">0</div>
<div class="t tick lft" style="left:508.6px;top:39.8px">2.5<i>&#956;m</i><sup style="font-size:8.5px;position:relative;top:-1.5px;margin-left:0.5px"><i>&#8722;1</i></sup></div>
<div class="t tick r" style="left:39px;top:268.3px">0</div>
<div class="t tick r" style="left:39px;top:248px">1.0</div>
<div class="t tick r" style="left:39px;top:227.7px">2.0</div>
<div class="t tick r" style="left:309.6px;top:266.7px">0</div>
<div class="t tick r" style="left:309.6px;top:246.1px">1.0</div>
<div class="t tick r" style="left:309.6px;top:225.5px">2.0</div>
<div class="t tick c" style="left:40.8px;top:276.5px">0</div>
<div class="t tick c" style="left:76.28px;top:276.5px">0.2</div>
<div class="t tick c" style="left:111.76px;top:276.5px">0.4</div>
<div class="t tick c" style="left:147.24px;top:276.5px">0.6</div>
<div class="t tick c" style="left:182.72px;top:276.5px">0.8</div>
<div class="t tick c" style="left:218.2px;top:276.5px">1</div>
<div class="t tick c" style="left:312.1px;top:275.6px">0.4</div>
<div class="t tick c" style="left:341.683px;top:275.6px">0.5</div>
<div class="t tick c" style="left:371.267px;top:275.6px">0.6</div>
<div class="t tick c" style="left:400.85px;top:275.6px">0.7</div>
<div class="t tick c" style="left:430.433px;top:275.6px">0.8</div>
<div class="t tick c" style="left:460.017px;top:275.6px">0.9</div>
<div class="t tick c" style="left:489.6px;top:275.6px">1</div>
<div class="t lab c" style="left:132.2px;top:287.6px"><i>h</i> <i>(&#956;m)</i></div>
<div class="t lab c" style="left:408.8px;top:288.5px"><span style="font-size:14px">&#955;</span> <i style="font-size:12.5px">(&#956;m)</i></div>
<div class="t lab" style="left:13.8px;top:232.3px;font-size:11.8px;transform:translate(-50%,-50%) rotate(-90deg)">S<span style="font-size:8.5px;position:relative;top:3px">0,h</span> <i>(&#956;m</i><span style="font-size:8px;position:relative;top:-5px">&#8722;1</span><i>)</i></div>
<div class="t lab" style="left:284.3px;top:237.3px;font-size:11.8px;transform:translate(-50%,-50%) rotate(-90deg)">S<span style="font-size:8.5px;position:relative;top:3px">0,&#955;</span> <i>(&#956;m</i><span style="font-size:8px;position:relative;top:-5px">&#8722;1</span><i>)</i></div>
<div class="t tick lft" style="left:204px;top:213.9px"><span style="font-size:9px">&#955;</span><span style="font-size:6.4px;position:relative;top:2.2px;margin-left:0.2px">1</span></div>
<div class="t tick lft" style="left:204px;top:222.4px"><span style="font-size:9px">&#955;</span><span style="font-size:6.4px;position:relative;top:2.2px;margin-left:0.2px">2</span></div>
<div class="t tick lft" style="left:204px;top:231.3px"><span style="font-size:9px">&#955;</span><span style="font-size:6.4px;position:relative;top:2.2px;margin-left:0.2px">3</span></div>
<div class="t tick lft" style="left:475.6px;top:213.7px"><i style="font-size:10px">h</i><span style="font-size:6.4px;position:relative;top:2.2px;margin-left:0.2px">1</span></div>
<div class="t tick lft" style="left:475.6px;top:223.1px"><i style="font-size:10px">h</i><span style="font-size:6.4px;position:relative;top:2.2px;margin-left:0.2px">2</span></div>
<div class="t tick lft" style="left:475.6px;top:231.3px"><i style="font-size:10px">h</i><span style="font-size:6.4px;position:relative;top:2.2px;margin-left:0.2px">3</span></div>
</body></html>
